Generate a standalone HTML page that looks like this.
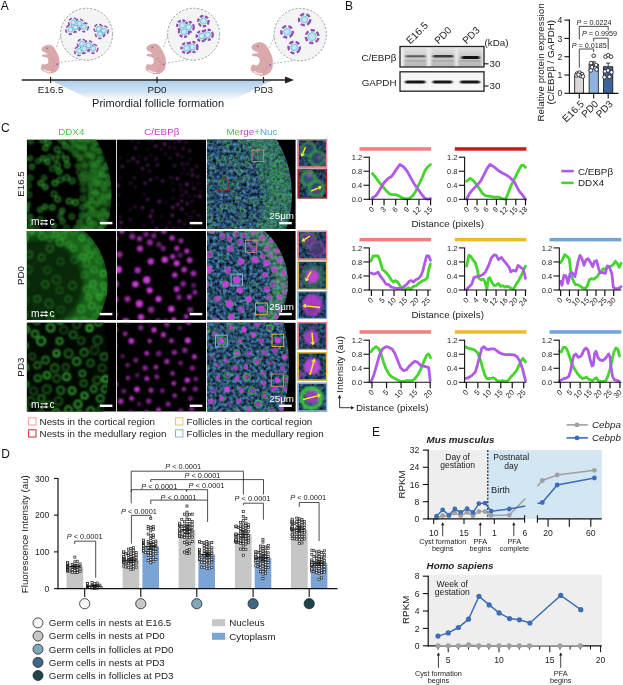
<!DOCTYPE html><html><head><meta charset="utf-8"><title>Figure</title><style>html,body{margin:0;padding:0;background:#fff;width:623px;height:685px;overflow:hidden}svg{display:block}</style></head><body><svg width="623" height="685" viewBox="0 0 623 685" font-family="'Liberation Sans', Arial, sans-serif"><text x="0.80" y="9.60" font-size="12" text-anchor="start" fill="#111" >A</text>
<defs><linearGradient id="gA" x1="0" y1="0" x2="0" y2="1"><stop offset="0" stop-color="#b0cfec"/><stop offset="0.6" stop-color="#d0e3f5"/><stop offset="1" stop-color="#fbfdff"/></linearGradient></defs>
<polygon points="51.00,80.50 272.00,80.50 234.00,99.50 90.00,99.50" fill="url(#gA)" stroke="none" stroke-width="1" />
<circle cx="86.6" cy="34.2" r="26.0" fill="#f4f4f4" stroke="#8a8a8a" stroke-width="0.8" stroke-dasharray="2.2 1.6"/>
<circle cx="193.6" cy="34.2" r="26.0" fill="#f4f4f4" stroke="#8a8a8a" stroke-width="0.8" stroke-dasharray="2.2 1.6"/>
<circle cx="300.2" cy="34.6" r="26.2" fill="#f4f4f4" stroke="#8a8a8a" stroke-width="0.8" stroke-dasharray="2.2 1.6"/>
<line x1="57.50" y1="62.50" x2="80.00" y2="59.80" stroke="#9a9a9a" stroke-width="0.7" stroke-dasharray="2 1.5"/>
<line x1="56.50" y1="47.00" x2="61.00" y2="34.00" stroke="#9a9a9a" stroke-width="0.7" stroke-dasharray="2 1.5"/>
<line x1="164.50" y1="63.50" x2="187.00" y2="59.80" stroke="#9a9a9a" stroke-width="0.7" stroke-dasharray="2 1.5"/>
<line x1="163.50" y1="47.00" x2="168.00" y2="34.00" stroke="#9a9a9a" stroke-width="0.7" stroke-dasharray="2 1.5"/>
<line x1="270.00" y1="64.00" x2="294.00" y2="60.50" stroke="#9a9a9a" stroke-width="0.7" stroke-dasharray="2 1.5"/>
<line x1="269.50" y1="48.00" x2="274.50" y2="35.00" stroke="#9a9a9a" stroke-width="0.7" stroke-dasharray="2 1.5"/>
<path d="M42.26,48.11 C42.77,47.26 43.49,46.68 44.78,46.10 C46.07,45.51 47.14,45.13 48.70,45.20 C50.27,45.27 51.26,45.40 52.61,46.43 C53.96,47.47 54.39,48.54 55.44,50.38 C56.50,52.22 57.20,53.76 57.91,55.62 C58.62,57.48 58.78,57.72 59.00,59.68 C59.22,61.63 59.27,63.43 59.00,65.39 C58.73,67.34 58.57,68.05 57.63,69.45 C56.68,70.84 55.83,71.61 54.27,72.36 C52.70,73.11 51.58,73.33 49.80,73.20 C48.01,73.07 47.00,72.55 45.32,71.69 C43.65,70.83 41.95,70.37 41.40,68.89 C40.85,67.40 41.85,65.08 42.58,64.27 C43.31,63.46 43.98,64.96 45.04,64.83 C46.10,64.70 47.14,64.56 47.88,63.62 C48.61,62.69 48.87,61.41 48.70,60.15 C48.54,58.89 48.27,58.11 47.05,57.32 C45.82,56.53 43.42,56.66 42.58,56.20 C41.74,55.75 41.86,55.47 42.86,55.06 C43.86,54.64 47.32,54.77 47.60,54.13 C47.87,53.49 45.30,52.61 44.23,51.86 C43.17,51.11 42.66,51.13 42.26,50.38 C41.87,49.63 41.76,48.97 42.26,48.11 Z" fill="#dba8ab" stroke="#c99499" stroke-width="0.5"/><path d="M51.08,57.80 C55.48,60.60 56.36,67.60 51.08,71.24" fill="none" stroke="#cf9ca0" stroke-width="1.6" opacity="0.6"/><circle cx="47.05" cy="48.28" r="0.85" fill="#a06a70"/><path d="M43.51,69.56 Q46.68,72.36 51.08,71.80" fill="none" stroke="#f6eeee" stroke-width="1.2"/><circle cx="57.24" cy="64.24" r="0.95" fill="#8a5ad0"/>
<path d="M147.05,47.20 C147.60,46.29 148.39,45.67 149.81,45.05 C151.22,44.43 152.39,44.03 154.11,44.10 C155.83,44.17 156.92,44.31 158.39,45.41 C159.87,46.51 160.34,47.66 161.50,49.61 C162.66,51.57 163.42,53.21 164.20,55.19 C164.98,57.16 165.16,57.43 165.40,59.51 C165.64,61.59 165.70,63.51 165.40,65.59 C165.10,67.67 164.93,68.42 163.89,69.91 C162.86,71.39 161.93,72.21 160.21,73.01 C158.49,73.80 157.27,74.04 155.31,73.90 C153.35,73.76 152.25,73.21 150.40,72.29 C148.56,71.37 146.70,70.89 146.10,69.31 C145.50,67.73 146.59,65.26 147.39,64.39 C148.19,63.53 148.93,65.13 150.10,64.99 C151.26,64.85 152.40,64.70 153.20,63.71 C154.01,62.71 154.29,61.35 154.11,60.01 C153.93,58.67 153.64,57.84 152.30,57.00 C150.95,56.16 148.31,56.29 147.39,55.81 C146.47,55.33 146.60,55.03 147.70,54.59 C148.80,54.15 152.59,54.29 152.89,53.61 C153.19,52.93 150.38,51.99 149.21,51.19 C148.04,50.39 147.48,50.41 147.05,49.61 C146.61,48.81 146.49,48.11 147.05,47.20 Z" fill="#dba8ab" stroke="#c99499" stroke-width="0.5"/><path d="M156.72,57.51 C161.54,60.49 162.50,67.94 156.72,71.81" fill="none" stroke="#cf9ca0" stroke-width="1.6" opacity="0.6"/><circle cx="152.30" cy="47.38" r="0.85" fill="#a06a70"/><path d="M148.42,70.03 Q151.89,73.01 156.72,72.41" fill="none" stroke="#f6eeee" stroke-width="1.2"/><circle cx="163.47" cy="64.36" r="0.95" fill="#8a5ad0"/>
<path d="M252.23,46.10 C252.84,45.10 253.71,44.43 255.25,43.75 C256.80,43.07 258.08,42.62 259.96,42.70 C261.83,42.78 263.02,42.93 264.64,44.14 C266.26,45.35 266.77,46.60 268.04,48.75 C269.31,50.89 270.14,52.69 270.99,54.86 C271.84,57.04 272.04,57.32 272.30,59.61 C272.56,61.89 272.63,63.99 272.30,66.28 C271.97,68.56 271.79,69.39 270.65,71.02 C269.52,72.65 268.50,73.54 266.62,74.42 C264.75,75.30 263.41,75.56 261.26,75.40 C259.12,75.24 257.92,74.64 255.91,73.63 C253.89,72.63 251.86,72.10 251.20,70.36 C250.54,68.63 251.74,65.92 252.61,64.97 C253.49,64.02 254.30,65.77 255.57,65.62 C256.84,65.47 258.09,65.31 258.96,64.22 C259.84,63.12 260.15,61.63 259.96,60.16 C259.76,58.69 259.44,57.78 257.97,56.86 C256.50,55.94 253.62,56.08 252.61,55.55 C251.61,55.02 251.75,54.69 252.95,54.21 C254.15,53.73 258.30,53.88 258.63,53.13 C258.96,52.39 255.88,51.36 254.60,50.48 C253.32,49.61 252.71,49.63 252.23,48.75 C251.76,47.87 251.63,47.10 252.23,46.10 Z" fill="#dba8ab" stroke="#c99499" stroke-width="0.5"/><path d="M262.81,57.42 C268.08,60.69 269.13,68.86 262.81,73.11" fill="none" stroke="#cf9ca0" stroke-width="1.6" opacity="0.6"/><circle cx="257.97" cy="46.30" r="0.85" fill="#a06a70"/><path d="M253.73,71.15 Q257.53,74.42 262.81,73.77" fill="none" stroke="#f6eeee" stroke-width="1.2"/><circle cx="270.19" cy="64.94" r="0.95" fill="#8a5ad0"/>
<circle cx="73.20" cy="22.50" r="4.50" fill="none" stroke="#8e50b8" stroke-width="1.7" stroke-dasharray="3.4 1.9"/><circle cx="79.40" cy="23.70" r="4.50" fill="none" stroke="#8e50b8" stroke-width="1.7" stroke-dasharray="3.4 1.9"/><circle cx="75.30" cy="27.40" r="4.50" fill="none" stroke="#8e50b8" stroke-width="1.7" stroke-dasharray="3.4 1.9"/><circle cx="70.40" cy="29.70" r="4.50" fill="none" stroke="#8e50b8" stroke-width="1.7" stroke-dasharray="3.4 1.9"/><circle cx="83.80" cy="27.10" r="4.50" fill="none" stroke="#8e50b8" stroke-width="1.7" stroke-dasharray="3.4 1.9"/><circle cx="73.20" cy="22.50" r="3.30" fill="#f3f3f3"/><circle cx="79.40" cy="23.70" r="3.30" fill="#f3f3f3"/><circle cx="75.30" cy="27.40" r="3.30" fill="#f3f3f3"/><circle cx="70.40" cy="29.70" r="3.30" fill="#f3f3f3"/><circle cx="83.80" cy="27.10" r="3.30" fill="#f3f3f3"/><circle cx="73.20" cy="22.50" r="2.50" fill="#c4e9f1" stroke="#4fb0cf" stroke-width="0.75"/><circle cx="79.40" cy="23.70" r="2.50" fill="#c4e9f1" stroke="#4fb0cf" stroke-width="0.75"/><circle cx="75.30" cy="27.40" r="2.50" fill="#c4e9f1" stroke="#4fb0cf" stroke-width="0.75"/><circle cx="70.40" cy="29.70" r="2.50" fill="#c4e9f1" stroke="#4fb0cf" stroke-width="0.75"/><circle cx="83.80" cy="27.10" r="2.50" fill="#c4e9f1" stroke="#4fb0cf" stroke-width="0.75"/>
<circle cx="98.70" cy="28.80" r="4.50" fill="none" stroke="#8e50b8" stroke-width="1.7" stroke-dasharray="3.4 1.9"/><circle cx="103.80" cy="30.50" r="4.50" fill="none" stroke="#8e50b8" stroke-width="1.7" stroke-dasharray="3.4 1.9"/><circle cx="100.00" cy="34.00" r="4.50" fill="none" stroke="#8e50b8" stroke-width="1.7" stroke-dasharray="3.4 1.9"/><circle cx="98.70" cy="28.80" r="3.30" fill="#f3f3f3"/><circle cx="103.80" cy="30.50" r="3.30" fill="#f3f3f3"/><circle cx="100.00" cy="34.00" r="3.30" fill="#f3f3f3"/><circle cx="98.70" cy="28.80" r="2.50" fill="#c4e9f1" stroke="#4fb0cf" stroke-width="0.75"/><circle cx="103.80" cy="30.50" r="2.50" fill="#c4e9f1" stroke="#4fb0cf" stroke-width="0.75"/><circle cx="100.00" cy="34.00" r="2.50" fill="#c4e9f1" stroke="#4fb0cf" stroke-width="0.75"/>
<circle cx="82.00" cy="43.70" r="4.50" fill="none" stroke="#8e50b8" stroke-width="1.7" stroke-dasharray="3.4 1.9"/><circle cx="88.50" cy="45.40" r="4.50" fill="none" stroke="#8e50b8" stroke-width="1.7" stroke-dasharray="3.4 1.9"/><circle cx="84.20" cy="48.70" r="4.50" fill="none" stroke="#8e50b8" stroke-width="1.7" stroke-dasharray="3.4 1.9"/><circle cx="79.10" cy="51.00" r="4.50" fill="none" stroke="#8e50b8" stroke-width="1.7" stroke-dasharray="3.4 1.9"/><circle cx="93.20" cy="48.70" r="4.50" fill="none" stroke="#8e50b8" stroke-width="1.7" stroke-dasharray="3.4 1.9"/><circle cx="82.00" cy="43.70" r="3.30" fill="#f3f3f3"/><circle cx="88.50" cy="45.40" r="3.30" fill="#f3f3f3"/><circle cx="84.20" cy="48.70" r="3.30" fill="#f3f3f3"/><circle cx="79.10" cy="51.00" r="3.30" fill="#f3f3f3"/><circle cx="93.20" cy="48.70" r="3.30" fill="#f3f3f3"/><circle cx="82.00" cy="43.70" r="2.50" fill="#c4e9f1" stroke="#4fb0cf" stroke-width="0.75"/><circle cx="88.50" cy="45.40" r="2.50" fill="#c4e9f1" stroke="#4fb0cf" stroke-width="0.75"/><circle cx="84.20" cy="48.70" r="2.50" fill="#c4e9f1" stroke="#4fb0cf" stroke-width="0.75"/><circle cx="79.10" cy="51.00" r="2.50" fill="#c4e9f1" stroke="#4fb0cf" stroke-width="0.75"/><circle cx="93.20" cy="48.70" r="2.50" fill="#c4e9f1" stroke="#4fb0cf" stroke-width="0.75"/>
<circle cx="182.30" cy="25.40" r="5.00" fill="none" stroke="#8e50b8" stroke-width="2.5" stroke-dasharray="3 1.6"/><circle cx="188.70" cy="27.10" r="5.00" fill="none" stroke="#8e50b8" stroke-width="2.5" stroke-dasharray="3 1.6"/><circle cx="184.00" cy="31.80" r="5.00" fill="none" stroke="#8e50b8" stroke-width="2.5" stroke-dasharray="3 1.6"/><circle cx="182.30" cy="25.40" r="3.70" fill="#f3f3f3"/><circle cx="188.70" cy="27.10" r="3.70" fill="#f3f3f3"/><circle cx="184.00" cy="31.80" r="3.70" fill="#f3f3f3"/><circle cx="182.30" cy="25.40" r="2.90" fill="#c4e9f1" stroke="#4fb0cf" stroke-width="0.75"/><circle cx="188.70" cy="27.10" r="2.90" fill="#c4e9f1" stroke="#4fb0cf" stroke-width="0.75"/><circle cx="184.00" cy="31.80" r="2.90" fill="#c4e9f1" stroke="#4fb0cf" stroke-width="0.75"/>
<circle cx="203.40" cy="21.20" r="5.10" fill="none" stroke="#8e50b8" stroke-width="2.5" stroke-dasharray="3.4 1.6"/><circle cx="203.40" cy="21.20" r="3.80" fill="#f3f3f3"/><circle cx="203.40" cy="21.20" r="3.00" fill="#c4e9f1" stroke="#4fb0cf" stroke-width="0.75"/>
<circle cx="201.70" cy="36.10" r="5.00" fill="none" stroke="#8e50b8" stroke-width="2.5" stroke-dasharray="3 1.6"/><circle cx="207.70" cy="34.80" r="5.00" fill="none" stroke="#8e50b8" stroke-width="2.5" stroke-dasharray="3 1.6"/><circle cx="201.70" cy="36.10" r="3.70" fill="#f3f3f3"/><circle cx="207.70" cy="34.80" r="3.70" fill="#f3f3f3"/><circle cx="201.70" cy="36.10" r="2.90" fill="#c4e9f1" stroke="#4fb0cf" stroke-width="0.75"/><circle cx="207.70" cy="34.80" r="2.90" fill="#c4e9f1" stroke="#4fb0cf" stroke-width="0.75"/>
<circle cx="186.60" cy="48.00" r="5.00" fill="none" stroke="#8e50b8" stroke-width="2.5" stroke-dasharray="3 1.6"/><circle cx="192.40" cy="47.10" r="5.00" fill="none" stroke="#8e50b8" stroke-width="2.5" stroke-dasharray="3 1.6"/><circle cx="186.60" cy="48.00" r="3.70" fill="#f3f3f3"/><circle cx="192.40" cy="47.10" r="3.70" fill="#f3f3f3"/><circle cx="186.60" cy="48.00" r="2.90" fill="#c4e9f1" stroke="#4fb0cf" stroke-width="0.75"/><circle cx="192.40" cy="47.10" r="2.90" fill="#c4e9f1" stroke="#4fb0cf" stroke-width="0.75"/>
<circle cx="304.60" cy="19.60" r="5.60" fill="none" stroke="#8e50b8" stroke-width="2.4" stroke-dasharray="4.2 2.2" transform="rotate(20 304.60 19.60)"/><circle cx="304.60" cy="19.60" r="3.20" fill="#bde6ef" stroke="#5cb4d0" stroke-width="0.8"/>
<circle cx="287.00" cy="31.80" r="5.70" fill="none" stroke="#8e50b8" stroke-width="2.4" stroke-dasharray="4.2 2.2" transform="rotate(20 287.00 31.80)"/><circle cx="287.00" cy="31.80" r="3.30" fill="#bde6ef" stroke="#5cb4d0" stroke-width="0.8"/>
<circle cx="312.20" cy="36.60" r="6.40" fill="none" stroke="#8e50b8" stroke-width="2.4" stroke-dasharray="4.2 2.2" transform="rotate(20 312.20 36.60)"/><circle cx="312.20" cy="36.60" r="4.00" fill="#bde6ef" stroke="#5cb4d0" stroke-width="0.8"/>
<circle cx="294.20" cy="47.40" r="5.70" fill="none" stroke="#8e50b8" stroke-width="2.4" stroke-dasharray="4.2 2.2" transform="rotate(20 294.20 47.40)"/><circle cx="294.20" cy="47.40" r="3.30" fill="#bde6ef" stroke="#5cb4d0" stroke-width="0.8"/>
<line x1="21.70" y1="80.00" x2="288.00" y2="80.00" stroke="#222" stroke-width="1.4" />
<polygon points="285.00,76.60 294.00,80.00 285.00,83.40" fill="#222" stroke="none" stroke-width="1" />
<line x1="50.60" y1="77.00" x2="50.60" y2="83.00" stroke="#222" stroke-width="1.2" />
<line x1="157.00" y1="77.00" x2="157.00" y2="83.00" stroke="#222" stroke-width="1.2" />
<line x1="263.50" y1="77.00" x2="263.50" y2="83.00" stroke="#222" stroke-width="1.2" />
<text x="50.60" y="93.20" font-size="9.9" text-anchor="middle" fill="#222" >E16.5</text>
<text x="157.00" y="93.20" font-size="9.9" text-anchor="middle" fill="#222" >PD0</text>
<text x="263.50" y="93.20" font-size="9.9" text-anchor="middle" fill="#222" >PD3</text>
<text x="158.10" y="106.90" font-size="11" text-anchor="middle" fill="#222" >Primordial follicle formation</text>
<text x="345.00" y="9.60" font-size="12" text-anchor="start" fill="#111" >B</text>
<defs><filter id="blotn" x="0" y="0" width="1" height="1"><feTurbulence type="fractalNoise" baseFrequency="0.35" numOctaves="2" seed="7"/><feColorMatrix type="matrix" values="0 0 0 0 0.5  0 0 0 0 0.5  0 0 0 0 0.5  0 0 0 -0.9 0.6"/></filter><filter id="bb" x="-20%" y="-100%" width="140%" height="300%"><feGaussianBlur stdDeviation="1.0 0.7"/></filter></defs>
<defs><linearGradient id="smear" x1="0" y1="0" x2="0" y2="1"><stop offset="0" stop-color="#909090" stop-opacity="0.12"/><stop offset="0.45" stop-color="#8a8a8a" stop-opacity="0.35"/><stop offset="1" stop-color="#808080" stop-opacity="0.5"/></linearGradient></defs>
<rect x="400" y="46.5" width="84" height="20.5" fill="#ececec"/>
<g filter="url(#bb)">
<rect x="404" y="48" width="23" height="18.5" fill="url(#smear)"/>
<rect x="405" y="60.2" width="21" height="1.6" fill="#8a8a8a" opacity="0.45"/>
<rect x="431" y="48" width="24" height="18.5" fill="url(#smear)"/>
<rect x="432" y="60.2" width="22" height="1.6" fill="#8a8a8a" opacity="0.45"/>
<rect x="458" y="48" width="24" height="18.5" fill="url(#smear)"/>
<rect x="459" y="60.2" width="22" height="1.6" fill="#8a8a8a" opacity="0.45"/>
<rect x="405.5" y="55.3" width="20" height="2.0" rx="1.0" fill="#5a5a5a"/>
<rect x="432.8" y="55.0" width="20.5" height="2.5" rx="1.25" fill="#3a3a3a"/>
<rect x="461.2" y="55.9" width="18.8" height="3.2" rx="1.6" fill="#151515"/>
</g>
<rect x="400" y="46.5" width="84" height="20.5" fill="none" stroke="#222" stroke-width="1.3"/>
<rect x="400" y="71.8" width="84" height="19.4" fill="#f6f6f6" stroke="#222" stroke-width="1.3"/>
<g filter="url(#bb)">
<rect x="405" y="80.6" width="20.5" height="3.0" rx="1.5" fill="#151515"/>
<rect x="432.5" y="80.6" width="20" height="3.0" rx="1.5" fill="#151515"/>
<rect x="460" y="80.6" width="20" height="3.0" rx="1.5" fill="#151515"/>
</g>
<text x="396.50" y="60.70" font-size="9.8" text-anchor="end" fill="#222" >C/EBPβ</text>
<text x="396.50" y="85.50" font-size="9.8" text-anchor="end" fill="#222" >GAPDH</text>
<line x1="484.00" y1="63.80" x2="488.50" y2="63.80" stroke="#222" stroke-width="1.2" />
<text x="489.50" y="67.20" font-size="9.8" text-anchor="start" fill="#222" >30</text>
<line x1="484.00" y1="86.00" x2="488.50" y2="86.00" stroke="#222" stroke-width="1.2" />
<text x="489.50" y="89.40" font-size="9.8" text-anchor="start" fill="#222" >30</text>
<text x="484.50" y="45.60" font-size="9.8" text-anchor="start" fill="#222" >(kDa)</text>
<text x="410.3" y="44.6" font-size="10" fill="#222" transform="rotate(-45 410.3 44.6)">E16.5</text>
<text x="438.5" y="44.6" font-size="10" fill="#222" transform="rotate(-45 438.5 44.6)">PD0</text>
<text x="466.6" y="44.6" font-size="10" fill="#222" transform="rotate(-45 466.6 44.6)">PD3</text>
<text transform="translate(543.6 62.4) rotate(-90)" font-size="9.8" text-anchor="middle" fill="#222">Relative protein expression</text>
<text transform="translate(554.4 62.2) rotate(-90)" font-size="9.8" text-anchor="middle" fill="#222">(C/EBPβ / GAPDH)</text>
<rect x="574.7" y="75.00" width="8.90" height="18.30" fill="#d9d9d9" stroke="#111" stroke-width="0.8"/>
<rect x="589.1" y="64.57" width="9.20" height="28.73" fill="#8fb3dd" stroke="#111" stroke-width="0.8"/>
<rect x="603.6" y="66.77" width="9.20" height="26.54" fill="#3d6498" stroke="#111" stroke-width="0.8"/>
<line x1="579.20" y1="73.72" x2="579.20" y2="76.28" stroke="#111" stroke-width="0.8" />
<line x1="577.00" y1="73.72" x2="581.40" y2="73.72" stroke="#111" stroke-width="0.8" />
<line x1="593.70" y1="61.82" x2="593.70" y2="64.57" stroke="#111" stroke-width="0.8" />
<line x1="591.50" y1="61.82" x2="595.90" y2="61.82" stroke="#111" stroke-width="0.8" />
<line x1="608.20" y1="63.10" x2="608.20" y2="66.77" stroke="#111" stroke-width="0.8" />
<line x1="606.00" y1="63.10" x2="610.40" y2="63.10" stroke="#111" stroke-width="0.8" />
<circle cx="577" cy="73.54" r="1.85" fill="#fff" stroke="#111" stroke-width="0.8"/>
<circle cx="579.5" cy="72.62" r="1.85" fill="#fff" stroke="#111" stroke-width="0.8"/>
<circle cx="582" cy="74.08" r="1.85" fill="#fff" stroke="#111" stroke-width="0.8"/>
<circle cx="576.5" cy="75.37" r="1.85" fill="#fff" stroke="#111" stroke-width="0.8"/>
<circle cx="580.5" cy="75.73" r="1.85" fill="#fff" stroke="#111" stroke-width="0.8"/>
<circle cx="583" cy="76.46" r="1.85" fill="#fff" stroke="#111" stroke-width="0.8"/>
<circle cx="578.5" cy="74.63" r="1.85" fill="#fff" stroke="#111" stroke-width="0.8"/>
<circle cx="593.7" cy="55.78" r="1.85" fill="#fff" stroke="#111" stroke-width="0.8"/>
<circle cx="591" cy="63.10" r="1.85" fill="#fff" stroke="#111" stroke-width="0.8"/>
<circle cx="596" cy="64.94" r="1.85" fill="#fff" stroke="#111" stroke-width="0.8"/>
<circle cx="592" cy="67.31" r="1.85" fill="#fff" stroke="#111" stroke-width="0.8"/>
<circle cx="595.5" cy="68.05" r="1.85" fill="#fff" stroke="#111" stroke-width="0.8"/>
<circle cx="590.8" cy="70.42" r="1.85" fill="#fff" stroke="#111" stroke-width="0.8"/>
<circle cx="596.5" cy="69.51" r="1.85" fill="#fff" stroke="#111" stroke-width="0.8"/>
<circle cx="605.5" cy="56.70" r="1.85" fill="#fff" stroke="#111" stroke-width="0.8"/>
<circle cx="608.2" cy="55.24" r="1.85" fill="#fff" stroke="#111" stroke-width="0.8"/>
<circle cx="611" cy="56.70" r="1.85" fill="#fff" stroke="#111" stroke-width="0.8"/>
<circle cx="605" cy="71.34" r="1.85" fill="#fff" stroke="#111" stroke-width="0.8"/>
<circle cx="608" cy="70.42" r="1.85" fill="#fff" stroke="#111" stroke-width="0.8"/>
<circle cx="611.5" cy="72.25" r="1.85" fill="#fff" stroke="#111" stroke-width="0.8"/>
<circle cx="604.5" cy="77.20" r="1.85" fill="#fff" stroke="#111" stroke-width="0.8"/>
<circle cx="609.5" cy="76.83" r="1.85" fill="#fff" stroke="#111" stroke-width="0.8"/>
<line x1="569.40" y1="19.60" x2="569.40" y2="93.80" stroke="#111" stroke-width="1.2" />
<line x1="569.40" y1="93.30" x2="618.40" y2="93.30" stroke="#111" stroke-width="1.2" />
<line x1="564.40" y1="93.30" x2="569.40" y2="93.30" stroke="#111" stroke-width="1.1" />
<text x="562.40" y="96.40" font-size="8.6" text-anchor="end" fill="#222" >0</text>
<line x1="564.40" y1="75.00" x2="569.40" y2="75.00" stroke="#111" stroke-width="1.1" />
<text x="562.40" y="78.10" font-size="8.6" text-anchor="end" fill="#222" >1</text>
<line x1="564.40" y1="56.70" x2="569.40" y2="56.70" stroke="#111" stroke-width="1.1" />
<text x="562.40" y="59.80" font-size="8.6" text-anchor="end" fill="#222" >2</text>
<line x1="564.40" y1="38.40" x2="569.40" y2="38.40" stroke="#111" stroke-width="1.1" />
<text x="562.40" y="41.50" font-size="8.6" text-anchor="end" fill="#222" >3</text>
<line x1="564.40" y1="20.10" x2="569.40" y2="20.10" stroke="#111" stroke-width="1.1" />
<text x="562.40" y="23.20" font-size="8.6" text-anchor="end" fill="#222" >4</text>
<line x1="579.30" y1="93.30" x2="579.30" y2="98.60" stroke="#111" stroke-width="1.1" />
<line x1="593.70" y1="93.30" x2="593.70" y2="98.60" stroke="#111" stroke-width="1.1" />
<line x1="608.20" y1="93.30" x2="608.20" y2="98.60" stroke="#111" stroke-width="1.1" />
<text x="584.6" y="104.6" font-size="9.9" text-anchor="end" fill="#222" transform="rotate(-45 584.6 104.6)">E16.5</text>
<text x="599.0" y="104.6" font-size="9.9" text-anchor="end" fill="#222" transform="rotate(-45 599.0 104.6)">PD0</text>
<text x="613.5" y="104.6" font-size="9.9" text-anchor="end" fill="#222" transform="rotate(-45 613.5 104.6)">PD3</text>
<polyline points="579.3,39.5 579.3,26.4 608.2,26.4 608.2,30.5" fill="none" stroke="#222" stroke-width="0.8"/>
<polyline points="593.7,41.5 593.7,38.2 608.2,38.2 608.2,49.4" fill="none" stroke="#222" stroke-width="0.8"/>
<polyline points="579.3,67.7 579.3,49 593.7,49 593.7,52" fill="none" stroke="#222" stroke-width="0.8"/>
<text x="594" y="24.5" font-size="7.2" text-anchor="middle" fill="#222"><tspan font-style="italic">P</tspan> = 0.0224</text>
<text x="599.5" y="36.0" font-size="7.2" text-anchor="middle" fill="#222"><tspan font-style="italic">P</tspan> = 0.9959</text>
<text x="589.2" y="47.6" font-size="7.2" text-anchor="middle" fill="#222"><tspan font-style="italic">P</tspan> = 0.0185</text>
<defs><filter id="bl5" x="-10%" y="-10%" width="120%" height="120%"><feGaussianBlur stdDeviation="0.55"/></filter><filter id="bl8" x="-10%" y="-10%" width="120%" height="120%"><feGaussianBlur stdDeviation="0.8"/></filter><filter id="bl20" x="-30%" y="-30%" width="160%" height="160%"><feGaussianBlur stdDeviation="3"/></filter><filter id="nuc0" x="0" y="0" width="1" height="1" color-interpolation-filters="sRGB"><feTurbulence type="fractalNoise" baseFrequency="0.3" numOctaves="2" seed="11"/><feColorMatrix type="matrix" values="0.45 0 0 0 -0.065  0.8 0 0 0 -0.105  1.05 0 0 0 -0.105  0 0 0 0 1"/><feGaussianBlur stdDeviation="0.6"/></filter><filter id="nuc1" x="0" y="0" width="1" height="1" color-interpolation-filters="sRGB"><feTurbulence type="fractalNoise" baseFrequency="0.3" numOctaves="2" seed="23"/><feColorMatrix type="matrix" values="0.45 0 0 0 -0.065  0.8 0 0 0 -0.105  1.05 0 0 0 -0.105  0 0 0 0 1"/><feGaussianBlur stdDeviation="0.6"/></filter><filter id="nuc2" x="0" y="0" width="1" height="1" color-interpolation-filters="sRGB"><feTurbulence type="fractalNoise" baseFrequency="0.3" numOctaves="2" seed="37"/><feColorMatrix type="matrix" values="0.45 0 0 0 -0.065  0.8 0 0 0 -0.105  1.05 0 0 0 -0.105  0 0 0 0 1"/><feGaussianBlur stdDeviation="0.6"/></filter><clipPath id="cp00"><rect x="26.7" y="139.4" width="89.5" height="89.5"/></clipPath><clipPath id="cp01"><rect x="26.7" y="230.9" width="89.5" height="89.0"/></clipPath><clipPath id="cp02"><rect x="26.7" y="322.5" width="89.5" height="89.1"/></clipPath><clipPath id="cp10"><rect x="116.9" y="139.4" width="89.2" height="89.5"/></clipPath><clipPath id="cp11"><rect x="116.9" y="230.9" width="89.2" height="89.0"/></clipPath><clipPath id="cp12"><rect x="116.9" y="322.5" width="89.2" height="89.1"/></clipPath><clipPath id="cp20"><rect x="207.0" y="139.4" width="88.6" height="89.5"/></clipPath><clipPath id="cp21"><rect x="207.0" y="230.9" width="88.6" height="89.0"/></clipPath><clipPath id="cp22"><rect x="207.0" y="322.5" width="88.6" height="89.1"/></clipPath><clipPath id="tc00"><circle cx="6.699999999999999" cy="194.4" r="105"/></clipPath><clipPath id="tc01"><circle cx="38.7" cy="282.9" r="69"/></clipPath><clipPath id="tc02"><circle cx="-73.3" cy="366.5" r="182"/></clipPath><clipPath id="tc10"><circle cx="96.9" cy="194.4" r="105"/></clipPath><clipPath id="tc11"><circle cx="128.9" cy="282.9" r="69"/></clipPath><clipPath id="tc12"><circle cx="16.900000000000006" cy="366.5" r="182"/></clipPath><clipPath id="tc20"><circle cx="187.0" cy="194.4" r="105"/></clipPath><clipPath id="tc21"><circle cx="219.0" cy="282.9" r="69"/></clipPath><clipPath id="tc22"><circle cx="107.0" cy="366.5" r="182"/></clipPath></defs>
<g clip-path="url(#cp00)">
<rect x="26.7" y="139.4" width="90" height="90" fill="#000"/>
<g clip-path="url(#tc00)">
<circle cx="6.699999999999999" cy="194.4" r="92" fill="none" stroke="#145214" stroke-width="26" opacity="0.7" filter="url(#bl20)"/>
<g filter="url(#bl8)">
<circle cx="96.9" cy="203.6" r="3.1" fill="#38b038" opacity="0.23"/>
<circle cx="96.9" cy="203.6" r="2.5" fill="#38b038" fill-opacity="0.12" stroke="#38b038" stroke-width="1.3" opacity="0.52"/>
<circle cx="74.3" cy="144.0" r="2.9" fill="#38b038" opacity="0.27"/>
<circle cx="74.3" cy="144.0" r="2.3" fill="#38b038" fill-opacity="0.12" stroke="#38b038" stroke-width="1.3" opacity="0.37"/>
<circle cx="83.2" cy="228.1" r="2.7" fill="#38b038" opacity="0.15"/>
<circle cx="83.2" cy="228.1" r="2.1" fill="#38b038" fill-opacity="0.12" stroke="#38b038" stroke-width="1.3" opacity="0.73"/>
<circle cx="76.3" cy="228.6" r="3.0" fill="#38b038" opacity="0.22"/>
<circle cx="76.3" cy="228.6" r="2.4" fill="#38b038" fill-opacity="0.12" stroke="#38b038" stroke-width="1.3" opacity="0.64"/>
<circle cx="96.0" cy="213.9" r="3.2" fill="#38b038" opacity="0.09"/>
<circle cx="96.0" cy="213.9" r="2.6" fill="#38b038" fill-opacity="0.12" stroke="#38b038" stroke-width="1.3" opacity="0.61"/>
<circle cx="104.2" cy="223.0" r="3.1" fill="#38b038" opacity="0.14"/>
<circle cx="104.2" cy="223.0" r="2.5" fill="#38b038" fill-opacity="0.12" stroke="#38b038" stroke-width="1.3" opacity="0.66"/>
<circle cx="82.7" cy="198.4" r="3.1" fill="#38b038" opacity="0.10"/>
<circle cx="82.7" cy="198.4" r="2.5" fill="#38b038" fill-opacity="0.12" stroke="#38b038" stroke-width="1.3" opacity="0.58"/>
<circle cx="92.1" cy="156.3" r="2.9" fill="#38b038" opacity="0.12"/>
<circle cx="92.1" cy="156.3" r="2.3" fill="#38b038" fill-opacity="0.12" stroke="#38b038" stroke-width="1.3" opacity="0.72"/>
<circle cx="91.5" cy="195.3" r="3.1" fill="#38b038" opacity="0.15"/>
<circle cx="91.5" cy="195.3" r="2.5" fill="#38b038" fill-opacity="0.12" stroke="#38b038" stroke-width="1.3" opacity="0.54"/>
<circle cx="84.6" cy="148.1" r="2.6" fill="#38b038" opacity="0.12"/>
<circle cx="84.6" cy="148.1" r="2.0" fill="#38b038" fill-opacity="0.12" stroke="#38b038" stroke-width="1.3" opacity="0.73"/>
<circle cx="101.7" cy="170.0" r="3.1" fill="#38b038" opacity="0.20"/>
<circle cx="101.7" cy="170.0" r="2.5" fill="#38b038" fill-opacity="0.12" stroke="#38b038" stroke-width="1.3" opacity="0.53"/>
<circle cx="90.5" cy="184.7" r="2.7" fill="#38b038" opacity="0.13"/>
<circle cx="90.5" cy="184.7" r="2.1" fill="#38b038" fill-opacity="0.12" stroke="#38b038" stroke-width="1.3" opacity="0.50"/>
<circle cx="103.7" cy="188.7" r="2.8" fill="#38b038" opacity="0.17"/>
<circle cx="103.7" cy="188.7" r="2.2" fill="#38b038" fill-opacity="0.12" stroke="#38b038" stroke-width="1.3" opacity="0.60"/>
<circle cx="79.2" cy="147.0" r="2.8" fill="#38b038" opacity="0.16"/>
<circle cx="79.2" cy="147.0" r="2.2" fill="#38b038" fill-opacity="0.12" stroke="#38b038" stroke-width="1.3" opacity="0.70"/>
<circle cx="95.8" cy="192.0" r="2.7" fill="#38b038" opacity="0.21"/>
<circle cx="95.8" cy="192.0" r="2.1" fill="#38b038" fill-opacity="0.12" stroke="#38b038" stroke-width="1.3" opacity="0.73"/>
<circle cx="79.6" cy="139.2" r="3.0" fill="#38b038" opacity="0.22"/>
<circle cx="79.6" cy="139.2" r="2.4" fill="#38b038" fill-opacity="0.12" stroke="#38b038" stroke-width="1.3" opacity="0.74"/>
<circle cx="89.1" cy="140.2" r="3.0" fill="#38b038" opacity="0.29"/>
<circle cx="89.1" cy="140.2" r="2.4" fill="#38b038" fill-opacity="0.12" stroke="#38b038" stroke-width="1.3" opacity="0.44"/>
<circle cx="107.5" cy="202.7" r="3.3" fill="#38b038" opacity="0.07"/>
<circle cx="107.5" cy="202.7" r="2.7" fill="#38b038" fill-opacity="0.12" stroke="#38b038" stroke-width="1.3" opacity="0.43"/>
<circle cx="87.0" cy="178.6" r="3.1" fill="#38b038" opacity="0.26"/>
<circle cx="87.0" cy="178.6" r="2.5" fill="#38b038" fill-opacity="0.12" stroke="#38b038" stroke-width="1.3" opacity="0.36"/>
<circle cx="93.8" cy="168.8" r="3.1" fill="#38b038" opacity="0.09"/>
<circle cx="93.8" cy="168.8" r="2.5" fill="#38b038" fill-opacity="0.12" stroke="#38b038" stroke-width="1.3" opacity="0.60"/>
<circle cx="82.2" cy="215.4" r="3.2" fill="#38b038" opacity="0.28"/>
<circle cx="82.2" cy="215.4" r="2.6" fill="#38b038" fill-opacity="0.12" stroke="#38b038" stroke-width="1.3" opacity="0.44"/>
<circle cx="89.2" cy="221.2" r="3.1" fill="#38b038" opacity="0.25"/>
<circle cx="89.2" cy="221.2" r="2.5" fill="#38b038" fill-opacity="0.12" stroke="#38b038" stroke-width="1.3" opacity="0.55"/>
<circle cx="62.0" cy="140.2" r="3.3" fill="#38b038" opacity="0.15"/>
<circle cx="62.0" cy="140.2" r="2.7" fill="#38b038" fill-opacity="0.12" stroke="#38b038" stroke-width="1.3" opacity="0.73"/>
<circle cx="99.3" cy="196.2" r="3.3" fill="#38b038" opacity="0.09"/>
<circle cx="99.3" cy="196.2" r="2.7" fill="#38b038" fill-opacity="0.12" stroke="#38b038" stroke-width="1.3" opacity="0.54"/>
<circle cx="103.5" cy="211.7" r="3.1" fill="#38b038" opacity="0.13"/>
<circle cx="103.5" cy="211.7" r="2.5" fill="#38b038" fill-opacity="0.12" stroke="#38b038" stroke-width="1.3" opacity="0.62"/>
<circle cx="91.9" cy="163.8" r="2.7" fill="#38b038" opacity="0.18"/>
<circle cx="91.9" cy="163.8" r="2.1" fill="#38b038" fill-opacity="0.12" stroke="#38b038" stroke-width="1.3" opacity="0.53"/>
<circle cx="84.7" cy="173.5" r="2.6" fill="#38b038" opacity="0.07"/>
<circle cx="84.7" cy="173.5" r="2.0" fill="#38b038" fill-opacity="0.12" stroke="#38b038" stroke-width="1.3" opacity="0.51"/>
<circle cx="91.3" cy="200.9" r="2.7" fill="#38b038" opacity="0.22"/>
<circle cx="91.3" cy="200.9" r="2.1" fill="#38b038" fill-opacity="0.12" stroke="#38b038" stroke-width="1.3" opacity="0.58"/>
<circle cx="100.9" cy="217.3" r="3.1" fill="#38b038" opacity="0.14"/>
<circle cx="100.9" cy="217.3" r="2.5" fill="#38b038" fill-opacity="0.12" stroke="#38b038" stroke-width="1.3" opacity="0.58"/>
<circle cx="82.9" cy="189.8" r="2.9" fill="#38b038" opacity="0.12"/>
<circle cx="82.9" cy="189.8" r="2.3" fill="#38b038" fill-opacity="0.12" stroke="#38b038" stroke-width="1.3" opacity="0.46"/>
<circle cx="92.8" cy="230.8" r="2.8" fill="#38b038" opacity="0.30"/>
<circle cx="92.8" cy="230.8" r="2.2" fill="#38b038" fill-opacity="0.12" stroke="#38b038" stroke-width="1.3" opacity="0.46"/>
<circle cx="84.4" cy="165.5" r="2.9" fill="#38b038" opacity="0.18"/>
<circle cx="84.4" cy="165.5" r="2.3" fill="#38b038" fill-opacity="0.12" stroke="#38b038" stroke-width="1.3" opacity="0.48"/>
<circle cx="95.9" cy="142.2" r="3.1" fill="#38b038" opacity="0.15"/>
<circle cx="95.9" cy="142.2" r="2.5" fill="#38b038" fill-opacity="0.12" stroke="#38b038" stroke-width="1.3" opacity="0.73"/>
<circle cx="77.9" cy="166.0" r="2.7" fill="#38b038" opacity="0.07"/>
<circle cx="77.9" cy="166.0" r="2.1" fill="#38b038" fill-opacity="0.12" stroke="#38b038" stroke-width="1.3" opacity="0.60"/>
<circle cx="82.5" cy="207.3" r="3.2" fill="#38b038" opacity="0.26"/>
<circle cx="82.5" cy="207.3" r="2.6" fill="#38b038" fill-opacity="0.12" stroke="#38b038" stroke-width="1.3" opacity="0.39"/>
<circle cx="106.3" cy="166.4" r="3.1" fill="#38b038" opacity="0.15"/>
<circle cx="106.3" cy="166.4" r="2.5" fill="#38b038" fill-opacity="0.12" stroke="#38b038" stroke-width="1.3" opacity="0.65"/>
<circle cx="93.6" cy="179.2" r="2.7" fill="#38b038" opacity="0.06"/>
<circle cx="93.6" cy="179.2" r="2.1" fill="#38b038" fill-opacity="0.12" stroke="#38b038" stroke-width="1.3" opacity="0.74"/>
<circle cx="108.2" cy="183.4" r="3.0" fill="#38b038" opacity="0.09"/>
<circle cx="108.2" cy="183.4" r="2.4" fill="#38b038" fill-opacity="0.12" stroke="#38b038" stroke-width="1.3" opacity="0.73"/>
<circle cx="93.1" cy="148.5" r="2.9" fill="#38b038" opacity="0.17"/>
<circle cx="93.1" cy="148.5" r="2.3" fill="#38b038" fill-opacity="0.12" stroke="#38b038" stroke-width="1.3" opacity="0.56"/>
<circle cx="100.1" cy="159.2" r="2.8" fill="#38b038" opacity="0.08"/>
<circle cx="100.1" cy="159.2" r="2.2" fill="#38b038" fill-opacity="0.12" stroke="#38b038" stroke-width="1.3" opacity="0.59"/>
<circle cx="87.5" cy="204.5" r="2.9" fill="#38b038" opacity="0.26"/>
<circle cx="87.5" cy="204.5" r="2.3" fill="#38b038" fill-opacity="0.12" stroke="#38b038" stroke-width="1.3" opacity="0.59"/>
<circle cx="91.7" cy="209.0" r="2.8" fill="#38b038" opacity="0.27"/>
<circle cx="91.7" cy="209.0" r="2.2" fill="#38b038" fill-opacity="0.12" stroke="#38b038" stroke-width="1.3" opacity="0.60"/>
<circle cx="107.5" cy="176.7" r="2.8" fill="#38b038" opacity="0.20"/>
<circle cx="107.5" cy="176.7" r="2.2" fill="#38b038" fill-opacity="0.12" stroke="#38b038" stroke-width="1.3" opacity="0.49"/>
<circle cx="91.1" cy="189.8" r="2.6" fill="#38b038" opacity="0.10"/>
<circle cx="91.1" cy="189.8" r="2.0" fill="#38b038" fill-opacity="0.12" stroke="#38b038" stroke-width="1.3" opacity="0.46"/>
<circle cx="96.7" cy="184.2" r="2.8" fill="#38b038" opacity="0.30"/>
<circle cx="96.7" cy="184.2" r="2.2" fill="#38b038" fill-opacity="0.12" stroke="#38b038" stroke-width="1.3" opacity="0.58"/>
<circle cx="99.2" cy="150.9" r="3.2" fill="#38b038" opacity="0.20"/>
<circle cx="99.2" cy="150.9" r="2.6" fill="#38b038" fill-opacity="0.12" stroke="#38b038" stroke-width="1.3" opacity="0.49"/>
<circle cx="98.4" cy="179.5" r="2.7" fill="#38b038" opacity="0.07"/>
<circle cx="98.4" cy="179.5" r="2.1" fill="#38b038" fill-opacity="0.12" stroke="#38b038" stroke-width="1.3" opacity="0.48"/>
<circle cx="104.8" cy="196.0" r="2.8" fill="#38b038" opacity="0.11"/>
<circle cx="104.8" cy="196.0" r="2.2" fill="#38b038" fill-opacity="0.12" stroke="#38b038" stroke-width="1.3" opacity="0.67"/>
<circle cx="88.9" cy="215.2" r="3.1" fill="#38b038" opacity="0.06"/>
<circle cx="88.9" cy="215.2" r="2.5" fill="#38b038" fill-opacity="0.12" stroke="#38b038" stroke-width="1.3" opacity="0.62"/>
<circle cx="71.8" cy="138.2" r="3.2" fill="#38b038" opacity="0.21"/>
<circle cx="71.8" cy="138.2" r="2.6" fill="#38b038" fill-opacity="0.12" stroke="#38b038" stroke-width="1.3" opacity="0.68"/>
<circle cx="109.7" cy="196.4" r="2.6" fill="#38b038" opacity="0.28"/>
<circle cx="109.7" cy="196.4" r="2.0" fill="#38b038" fill-opacity="0.12" stroke="#38b038" stroke-width="1.3" opacity="0.72"/>
<circle cx="79.6" cy="222.4" r="3.0" fill="#38b038" opacity="0.14"/>
<circle cx="79.6" cy="222.4" r="2.4" fill="#38b038" fill-opacity="0.12" stroke="#38b038" stroke-width="1.3" opacity="0.64"/>
<circle cx="100.4" cy="228.8" r="2.8" fill="#38b038" opacity="0.17"/>
<circle cx="100.4" cy="228.8" r="2.2" fill="#38b038" fill-opacity="0.12" stroke="#38b038" stroke-width="1.3" opacity="0.72"/>
<circle cx="94.0" cy="224.0" r="2.9" fill="#38b038" opacity="0.13"/>
<circle cx="94.0" cy="224.0" r="2.3" fill="#38b038" fill-opacity="0.12" stroke="#38b038" stroke-width="1.3" opacity="0.66"/>
<circle cx="102.1" cy="183.1" r="2.9" fill="#38b038" opacity="0.11"/>
<circle cx="102.1" cy="183.1" r="2.3" fill="#38b038" fill-opacity="0.12" stroke="#38b038" stroke-width="1.3" opacity="0.56"/>
<circle cx="82.5" cy="182.9" r="2.8" fill="#38b038" opacity="0.07"/>
<circle cx="82.5" cy="182.9" r="2.2" fill="#38b038" fill-opacity="0.12" stroke="#38b038" stroke-width="1.3" opacity="0.60"/>
<circle cx="102.0" cy="201.3" r="2.9" fill="#38b038" opacity="0.12"/>
<circle cx="102.0" cy="201.3" r="2.3" fill="#38b038" fill-opacity="0.12" stroke="#38b038" stroke-width="1.3" opacity="0.58"/>
<circle cx="65.4" cy="146.1" r="3.2" fill="#38b038" opacity="0.24"/>
<circle cx="65.4" cy="146.1" r="2.6" fill="#38b038" fill-opacity="0.12" stroke="#38b038" stroke-width="1.3" opacity="0.75"/>
<circle cx="79.4" cy="172.0" r="3.2" fill="#38b038" opacity="0.07"/>
<circle cx="79.4" cy="172.0" r="2.6" fill="#38b038" fill-opacity="0.12" stroke="#38b038" stroke-width="1.3" opacity="0.45"/>
<circle cx="84.4" cy="142.1" r="2.7" fill="#38b038" opacity="0.11"/>
<circle cx="84.4" cy="142.1" r="2.1" fill="#38b038" fill-opacity="0.12" stroke="#38b038" stroke-width="1.3" opacity="0.48"/>
<circle cx="71.0" cy="149.2" r="2.7" fill="#38b038" opacity="0.10"/>
<circle cx="71.0" cy="149.2" r="2.1" fill="#38b038" fill-opacity="0.12" stroke="#38b038" stroke-width="1.3" opacity="0.62"/>
<circle cx="102.3" cy="175.1" r="2.7" fill="#38b038" opacity="0.23"/>
<circle cx="102.3" cy="175.1" r="2.1" fill="#38b038" fill-opacity="0.12" stroke="#38b038" stroke-width="1.3" opacity="0.67"/>
<circle cx="81.0" cy="177.4" r="2.8" fill="#38b038" opacity="0.15"/>
<circle cx="81.0" cy="177.4" r="2.2" fill="#38b038" fill-opacity="0.12" stroke="#38b038" stroke-width="1.3" opacity="0.66"/>
<circle cx="87.3" cy="154.5" r="2.9" fill="#38b038" opacity="0.23"/>
<circle cx="87.3" cy="154.5" r="2.3" fill="#38b038" fill-opacity="0.12" stroke="#38b038" stroke-width="1.3" opacity="0.46"/>
<circle cx="85.0" cy="136.6" r="2.8" fill="#38b038" opacity="0.11"/>
<circle cx="85.0" cy="136.6" r="2.2" fill="#38b038" fill-opacity="0.12" stroke="#38b038" stroke-width="1.3" opacity="0.47"/>
<circle cx="110.0" cy="191.5" r="2.7" fill="#38b038" opacity="0.10"/>
<circle cx="110.0" cy="191.5" r="2.1" fill="#38b038" fill-opacity="0.12" stroke="#38b038" stroke-width="1.3" opacity="0.43"/>
<circle cx="108.5" cy="215.5" r="3.0" fill="#38b038" opacity="0.19"/>
<circle cx="108.5" cy="215.5" r="2.4" fill="#38b038" fill-opacity="0.12" stroke="#38b038" stroke-width="1.3" opacity="0.74"/>
<circle cx="91.6" cy="173.6" r="2.8" fill="#38b038" opacity="0.07"/>
<circle cx="91.6" cy="173.6" r="2.2" fill="#38b038" fill-opacity="0.12" stroke="#38b038" stroke-width="1.3" opacity="0.47"/>
<circle cx="97.1" cy="163.8" r="3.0" fill="#38b038" opacity="0.15"/>
<circle cx="97.1" cy="163.8" r="2.4" fill="#38b038" fill-opacity="0.12" stroke="#38b038" stroke-width="1.3" opacity="0.72"/>
<circle cx="88.6" cy="227.7" r="2.7" fill="#38b038" opacity="0.11"/>
<circle cx="88.6" cy="227.7" r="2.1" fill="#38b038" fill-opacity="0.12" stroke="#38b038" stroke-width="1.3" opacity="0.69"/>
<circle cx="97.6" cy="174.0" r="2.8" fill="#38b038" opacity="0.09"/>
<circle cx="97.6" cy="174.0" r="2.2" fill="#38b038" fill-opacity="0.12" stroke="#38b038" stroke-width="1.3" opacity="0.58"/>
<circle cx="57.0" cy="137.3" r="2.7" fill="#38b038" opacity="0.13"/>
<circle cx="57.0" cy="137.3" r="2.1" fill="#38b038" fill-opacity="0.12" stroke="#38b038" stroke-width="1.3" opacity="0.62"/>
<circle cx="59.0" cy="171.3" r="2.5" fill="#38b038" fill-opacity="0.12" stroke="#38b038" stroke-width="1.3" opacity="1.00"/>
<circle cx="57.6" cy="165.1" r="2.5" fill="#38b038" fill-opacity="0.12" stroke="#38b038" stroke-width="1.3" opacity="0.76"/>
<circle cx="52.2" cy="168.5" r="2.5" fill="#38b038" fill-opacity="0.12" stroke="#38b038" stroke-width="1.3" opacity="0.60"/>
<circle cx="67.3" cy="165.1" r="2.5" fill="#38b038" fill-opacity="0.12" stroke="#38b038" stroke-width="1.3" opacity="0.90"/>
<circle cx="66.1" cy="158.9" r="2.5" fill="#38b038" fill-opacity="0.12" stroke="#38b038" stroke-width="1.3" opacity="0.94"/>
<circle cx="52.3" cy="207.6" r="2.4" fill="#38b038" fill-opacity="0.12" stroke="#38b038" stroke-width="1.3" opacity="0.93"/>
<circle cx="30.2" cy="177.7" r="2.4" fill="#38b038" fill-opacity="0.12" stroke="#38b038" stroke-width="1.3" opacity="0.68"/>
<circle cx="40.1" cy="209.8" r="2.2" fill="#38b038" fill-opacity="0.12" stroke="#38b038" stroke-width="1.3" opacity="0.79"/>
<circle cx="45.0" cy="206.8" r="2.2" fill="#38b038" fill-opacity="0.12" stroke="#38b038" stroke-width="1.3" opacity="0.92"/>
<circle cx="75.5" cy="202.6" r="2.6" fill="#38b038" fill-opacity="0.12" stroke="#38b038" stroke-width="1.3" opacity="0.98"/>
<circle cx="69.2" cy="201.3" r="2.6" fill="#38b038" fill-opacity="0.12" stroke="#38b038" stroke-width="1.3" opacity="0.89"/>
<circle cx="62.6" cy="221.4" r="2.2" fill="#38b038" fill-opacity="0.12" stroke="#38b038" stroke-width="1.3" opacity="0.75"/>
<circle cx="60.4" cy="216.2" r="2.2" fill="#38b038" fill-opacity="0.12" stroke="#38b038" stroke-width="1.3" opacity="0.69"/>
<circle cx="62.2" cy="210.8" r="2.2" fill="#38b038" fill-opacity="0.12" stroke="#38b038" stroke-width="1.3" opacity="0.91"/>
<circle cx="30.8" cy="141.3" r="2.2" fill="#38b038" fill-opacity="0.12" stroke="#38b038" stroke-width="1.3" opacity="0.70"/>
<circle cx="30.1" cy="135.6" r="2.2" fill="#38b038" fill-opacity="0.12" stroke="#38b038" stroke-width="1.3" opacity="0.59"/>
<circle cx="26.4" cy="131.2" r="2.2" fill="#38b038" fill-opacity="0.12" stroke="#38b038" stroke-width="1.3" opacity="0.58"/>
<circle cx="31.9" cy="166.7" r="2.2" fill="#38b038" fill-opacity="0.12" stroke="#38b038" stroke-width="1.3" opacity="0.80"/>
<circle cx="42.4" cy="140.1" r="2.5" fill="#38b038" fill-opacity="0.12" stroke="#38b038" stroke-width="1.3" opacity="0.95"/>
<circle cx="48.3" cy="142.4" r="2.5" fill="#38b038" fill-opacity="0.12" stroke="#38b038" stroke-width="1.3" opacity="0.97"/>
<circle cx="45.5" cy="148.0" r="2.5" fill="#38b038" fill-opacity="0.12" stroke="#38b038" stroke-width="1.3" opacity="0.84"/>
<circle cx="36.3" cy="228.1" r="2.4" fill="#38b038" fill-opacity="0.12" stroke="#38b038" stroke-width="1.3" opacity="0.62"/>
<circle cx="38.1" cy="161.1" r="2.2" fill="#38b038" fill-opacity="0.12" stroke="#38b038" stroke-width="1.3" opacity="0.71"/>
<circle cx="43.0" cy="158.4" r="2.2" fill="#38b038" fill-opacity="0.12" stroke="#38b038" stroke-width="1.3" opacity="0.90"/>
<circle cx="47.5" cy="161.9" r="2.2" fill="#38b038" fill-opacity="0.12" stroke="#38b038" stroke-width="1.3" opacity="0.97"/>
<circle cx="49.5" cy="156.5" r="2.2" fill="#38b038" fill-opacity="0.12" stroke="#38b038" stroke-width="1.3" opacity="0.62"/>
<circle cx="66.6" cy="228.1" r="2.5" fill="#38b038" fill-opacity="0.12" stroke="#38b038" stroke-width="1.3" opacity="0.61"/>
<circle cx="44.2" cy="177.8" r="2.2" fill="#38b038" fill-opacity="0.12" stroke="#38b038" stroke-width="1.3" opacity="0.69"/>
<circle cx="28.0" cy="185.2" r="2.6" fill="#38b038" fill-opacity="0.12" stroke="#38b038" stroke-width="1.3" opacity="0.64"/>
<circle cx="23.9" cy="190.2" r="2.6" fill="#38b038" fill-opacity="0.12" stroke="#38b038" stroke-width="1.3" opacity="0.86"/>
<circle cx="28.7" cy="194.7" r="2.6" fill="#38b038" fill-opacity="0.12" stroke="#38b038" stroke-width="1.3" opacity="0.67"/>
<circle cx="53.9" cy="225.8" r="2.1" fill="#38b038" fill-opacity="0.12" stroke="#38b038" stroke-width="1.3" opacity="0.88"/>
<circle cx="40.2" cy="219.5" r="2.3" fill="#38b038" fill-opacity="0.12" stroke="#38b038" stroke-width="1.3" opacity="0.72"/>
<circle cx="30.0" cy="216.7" r="2.2" fill="#38b038" fill-opacity="0.12" stroke="#38b038" stroke-width="1.3" opacity="0.77"/>
<circle cx="30.8" cy="222.4" r="2.2" fill="#38b038" fill-opacity="0.12" stroke="#38b038" stroke-width="1.3" opacity="0.82"/>
<circle cx="29.6" cy="228.1" r="2.2" fill="#38b038" fill-opacity="0.12" stroke="#38b038" stroke-width="1.3" opacity="0.81"/>
<circle cx="57.6" cy="199.3" r="2.6" fill="#38b038" fill-opacity="0.12" stroke="#38b038" stroke-width="1.3" opacity="0.88"/>
<circle cx="54.0" cy="193.9" r="2.6" fill="#38b038" fill-opacity="0.12" stroke="#38b038" stroke-width="1.3" opacity="0.71"/>
<circle cx="54.9" cy="183.1" r="2.6" fill="#38b038" fill-opacity="0.12" stroke="#38b038" stroke-width="1.3" opacity="0.94"/>
<circle cx="60.4" cy="179.7" r="2.6" fill="#38b038" fill-opacity="0.12" stroke="#38b038" stroke-width="1.3" opacity="0.73"/>
<circle cx="66.6" cy="177.7" r="2.6" fill="#38b038" fill-opacity="0.12" stroke="#38b038" stroke-width="1.3" opacity="0.83"/>
<circle cx="72.2" cy="180.9" r="2.6" fill="#38b038" fill-opacity="0.12" stroke="#38b038" stroke-width="1.3" opacity="0.74"/>
<circle cx="57.1" cy="149.4" r="2.6" fill="#38b038" fill-opacity="0.12" stroke="#38b038" stroke-width="1.3" opacity="0.80"/>
<circle cx="60.8" cy="154.8" r="2.6" fill="#38b038" fill-opacity="0.12" stroke="#38b038" stroke-width="1.3" opacity="0.65"/>
<circle cx="55.6" cy="158.8" r="2.6" fill="#38b038" fill-opacity="0.12" stroke="#38b038" stroke-width="1.3" opacity="0.80"/>
<circle cx="71.7" cy="216.6" r="2.4" fill="#38b038" fill-opacity="0.12" stroke="#38b038" stroke-width="1.3" opacity="0.74"/>
<circle cx="27.6" cy="204.5" r="2.1" fill="#38b038" fill-opacity="0.12" stroke="#38b038" stroke-width="1.3" opacity="0.88"/>
<circle cx="26.2" cy="209.8" r="2.1" fill="#38b038" fill-opacity="0.12" stroke="#38b038" stroke-width="1.3" opacity="0.99"/>
<circle cx="21.9" cy="213.5" r="2.1" fill="#38b038" fill-opacity="0.12" stroke="#38b038" stroke-width="1.3" opacity="0.66"/>
<circle cx="22.2" cy="219.0" r="2.1" fill="#38b038" fill-opacity="0.12" stroke="#38b038" stroke-width="1.3" opacity="0.93"/>
<circle cx="30.2" cy="158.2" r="2.1" fill="#38b038" fill-opacity="0.12" stroke="#38b038" stroke-width="1.3" opacity="0.77"/>
<circle cx="24.8" cy="159.4" r="2.1" fill="#38b038" fill-opacity="0.12" stroke="#38b038" stroke-width="1.3" opacity="0.64"/>
<circle cx="75.3" cy="154.0" r="3.0" fill="#38b038" opacity="0.11"/>
<circle cx="75.3" cy="154.0" r="2.4" fill="#38b038" fill-opacity="0.12" stroke="#38b038" stroke-width="1.3" opacity="0.65"/>
<circle cx="80.1" cy="158.0" r="3.0" fill="#38b038" opacity="0.14"/>
<circle cx="80.1" cy="158.0" r="2.4" fill="#38b038" fill-opacity="0.12" stroke="#38b038" stroke-width="1.3" opacity="0.60"/>
<circle cx="40.7" cy="183.2" r="2.4" fill="#38b038" fill-opacity="0.12" stroke="#38b038" stroke-width="1.3" opacity="0.95"/>
<circle cx="45.3" cy="187.0" r="2.4" fill="#38b038" fill-opacity="0.12" stroke="#38b038" stroke-width="1.3" opacity="0.95"/>
</g></g>
</g>
<g clip-path="url(#cp10)">
<rect x="116.9" y="139.4" width="90" height="90" fill="#000"/>
<g filter="url(#bl8)">
<circle cx="187.1" cy="203.6" r="1.6" fill="#a838c0" opacity="0.53"/>
<circle cx="164.5" cy="144.0" r="1.7" fill="#a838c0" opacity="0.63"/>
<circle cx="173.4" cy="228.1" r="1.5" fill="#a838c0" opacity="0.39"/>
<circle cx="166.5" cy="228.6" r="1.6" fill="#a838c0" opacity="0.52"/>
<circle cx="186.2" cy="213.9" r="1.4" fill="#a838c0" opacity="0.26"/>
<circle cx="194.4" cy="223.0" r="1.5" fill="#a838c0" opacity="0.37"/>
<circle cx="172.9" cy="198.4" r="1.4" fill="#a838c0" opacity="0.29"/>
<circle cx="182.3" cy="156.3" r="1.5" fill="#a838c0" opacity="0.32"/>
<circle cx="181.7" cy="195.3" r="1.5" fill="#a838c0" opacity="0.38"/>
<circle cx="174.8" cy="148.1" r="1.5" fill="#a838c0" opacity="0.32"/>
<circle cx="191.9" cy="170.0" r="1.6" fill="#a838c0" opacity="0.49"/>
<circle cx="180.7" cy="184.7" r="1.5" fill="#a838c0" opacity="0.34"/>
<circle cx="193.9" cy="188.7" r="1.6" fill="#a838c0" opacity="0.43"/>
<circle cx="169.4" cy="147.0" r="1.5" fill="#a838c0" opacity="0.40"/>
<circle cx="186.0" cy="192.0" r="1.6" fill="#a838c0" opacity="0.49"/>
<circle cx="169.8" cy="139.2" r="1.6" fill="#a838c0" opacity="0.51"/>
<circle cx="179.3" cy="140.2" r="1.7" fill="#a838c0" opacity="0.67"/>
<circle cx="177.2" cy="178.6" r="1.7" fill="#a838c0" opacity="0.61"/>
<circle cx="184.0" cy="168.8" r="1.4" fill="#a838c0" opacity="0.26"/>
<circle cx="172.4" cy="215.4" r="1.7" fill="#a838c0" opacity="0.64"/>
<circle cx="179.4" cy="221.2" r="1.6" fill="#a838c0" opacity="0.58"/>
<circle cx="152.2" cy="140.2" r="1.5" fill="#a838c0" opacity="0.38"/>
<circle cx="189.5" cy="196.2" r="1.4" fill="#a838c0" opacity="0.27"/>
<circle cx="193.7" cy="211.7" r="1.5" fill="#a838c0" opacity="0.34"/>
<circle cx="182.1" cy="163.8" r="1.6" fill="#a838c0" opacity="0.43"/>
<circle cx="181.5" cy="200.9" r="1.6" fill="#a838c0" opacity="0.52"/>
<circle cx="191.1" cy="217.3" r="1.5" fill="#a838c0" opacity="0.37"/>
<circle cx="173.1" cy="189.8" r="1.5" fill="#a838c0" opacity="0.32"/>
<circle cx="183.0" cy="230.8" r="1.7" fill="#a838c0" opacity="0.68"/>
<circle cx="174.6" cy="165.5" r="1.6" fill="#a838c0" opacity="0.44"/>
<circle cx="186.1" cy="142.2" r="1.5" fill="#a838c0" opacity="0.38"/>
<circle cx="172.7" cy="207.3" r="1.7" fill="#a838c0" opacity="0.60"/>
<circle cx="196.5" cy="166.4" r="1.5" fill="#a838c0" opacity="0.39"/>
<circle cx="198.4" cy="183.4" r="1.4" fill="#a838c0" opacity="0.26"/>
<circle cx="183.3" cy="148.5" r="1.6" fill="#a838c0" opacity="0.43"/>
<circle cx="190.3" cy="159.2" r="1.4" fill="#a838c0" opacity="0.24"/>
<circle cx="177.7" cy="204.5" r="1.7" fill="#a838c0" opacity="0.59"/>
<circle cx="181.9" cy="209.0" r="1.7" fill="#a838c0" opacity="0.61"/>
<circle cx="197.7" cy="176.7" r="1.6" fill="#a838c0" opacity="0.49"/>
<circle cx="181.3" cy="189.8" r="1.4" fill="#a838c0" opacity="0.28"/>
<circle cx="186.9" cy="184.2" r="1.7" fill="#a838c0" opacity="0.67"/>
<circle cx="189.4" cy="150.9" r="1.6" fill="#a838c0" opacity="0.49"/>
<circle cx="195.0" cy="196.0" r="1.4" fill="#a838c0" opacity="0.29"/>
<circle cx="162.0" cy="138.2" r="1.6" fill="#a838c0" opacity="0.51"/>
<circle cx="199.9" cy="196.4" r="1.7" fill="#a838c0" opacity="0.64"/>
<circle cx="169.8" cy="222.4" r="1.5" fill="#a838c0" opacity="0.36"/>
<circle cx="190.6" cy="228.8" r="1.5" fill="#a838c0" opacity="0.42"/>
<circle cx="184.2" cy="224.0" r="1.5" fill="#a838c0" opacity="0.35"/>
<circle cx="192.3" cy="183.1" r="1.4" fill="#a838c0" opacity="0.29"/>
<circle cx="172.7" cy="182.9" r="1.4" fill="#a838c0" opacity="0.23"/>
<circle cx="192.2" cy="201.3" r="1.5" fill="#a838c0" opacity="0.33"/>
<circle cx="155.6" cy="146.1" r="1.6" fill="#a838c0" opacity="0.56"/>
<circle cx="174.6" cy="142.1" r="1.5" fill="#a838c0" opacity="0.31"/>
<circle cx="161.2" cy="149.2" r="1.4" fill="#a838c0" opacity="0.29"/>
<circle cx="192.5" cy="175.1" r="1.6" fill="#a838c0" opacity="0.55"/>
<circle cx="171.2" cy="177.4" r="1.5" fill="#a838c0" opacity="0.37"/>
<circle cx="177.5" cy="154.5" r="1.6" fill="#a838c0" opacity="0.54"/>
<circle cx="175.2" cy="136.6" r="1.4" fill="#a838c0" opacity="0.30"/>
<circle cx="200.2" cy="191.5" r="1.4" fill="#a838c0" opacity="0.28"/>
<circle cx="198.7" cy="215.5" r="1.6" fill="#a838c0" opacity="0.46"/>
<circle cx="181.8" cy="173.6" r="1.4" fill="#a838c0" opacity="0.23"/>
<circle cx="187.3" cy="163.8" r="1.5" fill="#a838c0" opacity="0.38"/>
<circle cx="178.8" cy="227.7" r="1.5" fill="#a838c0" opacity="0.31"/>
<circle cx="187.8" cy="174.0" r="1.4" fill="#a838c0" opacity="0.26"/>
<circle cx="147.2" cy="137.3" r="1.5" fill="#a838c0" opacity="0.33"/>
<circle cx="149.2" cy="171.3" r="1.5" fill="#a838c0" opacity="0.33"/>
<circle cx="147.8" cy="165.1" r="1.6" fill="#a838c0" opacity="0.47"/>
<circle cx="142.4" cy="168.5" r="1.6" fill="#a838c0" opacity="0.55"/>
<circle cx="157.5" cy="165.1" r="1.6" fill="#a838c0" opacity="0.49"/>
<circle cx="156.3" cy="158.9" r="1.6" fill="#a838c0" opacity="0.43"/>
<circle cx="142.5" cy="207.6" r="1.6" fill="#a838c0" opacity="0.57"/>
<circle cx="120.4" cy="177.7" r="1.4" fill="#a838c0" opacity="0.23"/>
<circle cx="130.3" cy="209.8" r="1.4" fill="#a838c0" opacity="0.29"/>
<circle cx="135.2" cy="206.8" r="1.5" fill="#a838c0" opacity="0.37"/>
<circle cx="165.7" cy="202.6" r="1.4" fill="#a838c0" opacity="0.29"/>
<circle cx="159.4" cy="201.3" r="1.7" fill="#a838c0" opacity="0.61"/>
<circle cx="152.8" cy="221.4" r="1.5" fill="#a838c0" opacity="0.33"/>
<circle cx="150.6" cy="216.2" r="1.7" fill="#a838c0" opacity="0.67"/>
<circle cx="152.4" cy="210.8" r="1.6" fill="#a838c0" opacity="0.52"/>
<circle cx="120.3" cy="135.6" r="1.6" fill="#a838c0" opacity="0.50"/>
<circle cx="116.6" cy="131.2" r="1.6" fill="#a838c0" opacity="0.47"/>
<circle cx="122.1" cy="166.7" r="1.6" fill="#a838c0" opacity="0.54"/>
<circle cx="132.6" cy="140.1" r="1.5" fill="#a838c0" opacity="0.31"/>
<circle cx="138.5" cy="142.4" r="1.4" fill="#a838c0" opacity="0.30"/>
<circle cx="135.7" cy="148.0" r="1.6" fill="#a838c0" opacity="0.52"/>
<circle cx="126.5" cy="228.1" r="1.4" fill="#a838c0" opacity="0.24"/>
<circle cx="128.3" cy="161.1" r="1.5" fill="#a838c0" opacity="0.39"/>
<circle cx="133.2" cy="158.4" r="1.6" fill="#a838c0" opacity="0.58"/>
<circle cx="137.7" cy="161.9" r="1.6" fill="#a838c0" opacity="0.52"/>
<circle cx="139.7" cy="156.5" r="1.4" fill="#a838c0" opacity="0.23"/>
<circle cx="156.8" cy="228.1" r="1.6" fill="#a838c0" opacity="0.50"/>
<circle cx="134.4" cy="177.8" r="1.5" fill="#a838c0" opacity="0.41"/>
<circle cx="118.2" cy="185.2" r="1.7" fill="#a838c0" opacity="0.60"/>
<circle cx="114.1" cy="190.2" r="1.5" fill="#a838c0" opacity="0.39"/>
<circle cx="118.9" cy="194.7" r="1.5" fill="#a838c0" opacity="0.38"/>
<circle cx="144.1" cy="225.8" r="1.5" fill="#a838c0" opacity="0.34"/>
<circle cx="130.4" cy="219.5" r="1.5" fill="#a838c0" opacity="0.37"/>
<circle cx="120.2" cy="216.7" r="1.5" fill="#a838c0" opacity="0.32"/>
<circle cx="121.0" cy="222.4" r="1.7" fill="#a838c0" opacity="0.61"/>
<circle cx="119.8" cy="228.1" r="1.5" fill="#a838c0" opacity="0.39"/>
<circle cx="147.8" cy="199.3" r="1.6" fill="#a838c0" opacity="0.52"/>
<circle cx="144.2" cy="193.9" r="1.4" fill="#a838c0" opacity="0.29"/>
<circle cx="145.1" cy="183.1" r="1.6" fill="#a838c0" opacity="0.51"/>
<circle cx="150.6" cy="179.7" r="1.6" fill="#a838c0" opacity="0.55"/>
<circle cx="156.8" cy="177.7" r="1.5" fill="#a838c0" opacity="0.31"/>
<circle cx="162.4" cy="180.9" r="1.6" fill="#a838c0" opacity="0.44"/>
<circle cx="147.3" cy="149.4" r="1.4" fill="#a838c0" opacity="0.23"/>
<circle cx="151.0" cy="154.8" r="1.4" fill="#a838c0" opacity="0.28"/>
<circle cx="145.8" cy="158.8" r="1.6" fill="#a838c0" opacity="0.44"/>
<circle cx="161.9" cy="216.6" r="1.4" fill="#a838c0" opacity="0.25"/>
<circle cx="117.8" cy="204.5" r="1.5" fill="#a838c0" opacity="0.31"/>
<circle cx="116.4" cy="209.8" r="1.4" fill="#a838c0" opacity="0.27"/>
<circle cx="112.1" cy="213.5" r="1.4" fill="#a838c0" opacity="0.26"/>
<circle cx="112.4" cy="219.0" r="1.6" fill="#a838c0" opacity="0.44"/>
<circle cx="120.4" cy="158.2" r="1.4" fill="#a838c0" opacity="0.25"/>
<circle cx="115.0" cy="159.4" r="1.7" fill="#a838c0" opacity="0.60"/>
<circle cx="165.5" cy="154.0" r="1.4" fill="#a838c0" opacity="0.30"/>
<circle cx="170.3" cy="158.0" r="1.5" fill="#a838c0" opacity="0.36"/>
<circle cx="130.9" cy="183.2" r="1.5" fill="#a838c0" opacity="0.36"/>
<circle cx="135.5" cy="187.0" r="1.4" fill="#a838c0" opacity="0.30"/>
</g>
</g>
<g clip-path="url(#cp20)">
<rect x="207.0" y="139.4" width="90" height="90" fill="#000"/>
<g clip-path="url(#tc20)">
<rect x="207.0" y="139.4" width="90" height="90" filter="url(#nuc0)"/>
<circle cx="187.0" cy="194.4" r="92" fill="none" stroke="#3a9a5a" stroke-width="26" opacity="0.35" filter="url(#bl20)"/>
<g filter="url(#bl5)">
<circle cx="277.2" cy="203.6" r="2.5" fill="none" stroke="#3dbb3d" stroke-width="1.1" opacity="0.42"/>
<circle cx="277.2" cy="203.6" r="1.3" fill="#9a50c0" opacity="0.31"/>
<circle cx="254.6" cy="144.0" r="2.3" fill="none" stroke="#3dbb3d" stroke-width="1.1" opacity="0.30"/>
<circle cx="254.6" cy="144.0" r="1.3" fill="#9a50c0" opacity="0.34"/>
<circle cx="263.5" cy="228.1" r="2.1" fill="none" stroke="#3dbb3d" stroke-width="1.1" opacity="0.59"/>
<circle cx="263.5" cy="228.1" r="1.3" fill="#9a50c0" opacity="0.26"/>
<circle cx="256.6" cy="228.6" r="2.4" fill="none" stroke="#3dbb3d" stroke-width="1.1" opacity="0.51"/>
<circle cx="256.6" cy="228.6" r="1.3" fill="#9a50c0" opacity="0.30"/>
<circle cx="276.3" cy="213.9" r="2.6" fill="none" stroke="#3dbb3d" stroke-width="1.1" opacity="0.49"/>
<circle cx="284.5" cy="223.0" r="2.5" fill="none" stroke="#3dbb3d" stroke-width="1.1" opacity="0.53"/>
<circle cx="284.5" cy="223.0" r="1.3" fill="#9a50c0" opacity="0.25"/>
<circle cx="263.0" cy="198.4" r="2.5" fill="none" stroke="#3dbb3d" stroke-width="1.1" opacity="0.46"/>
<circle cx="263.0" cy="198.4" r="1.3" fill="#9a50c0" opacity="0.22"/>
<circle cx="272.4" cy="156.3" r="2.3" fill="none" stroke="#3dbb3d" stroke-width="1.1" opacity="0.58"/>
<circle cx="272.4" cy="156.3" r="1.3" fill="#9a50c0" opacity="0.23"/>
<circle cx="271.8" cy="195.3" r="2.5" fill="none" stroke="#3dbb3d" stroke-width="1.1" opacity="0.43"/>
<circle cx="271.8" cy="195.3" r="1.3" fill="#9a50c0" opacity="0.26"/>
<circle cx="264.9" cy="148.1" r="2.0" fill="none" stroke="#3dbb3d" stroke-width="1.1" opacity="0.58"/>
<circle cx="264.9" cy="148.1" r="1.3" fill="#9a50c0" opacity="0.23"/>
<circle cx="282.0" cy="170.0" r="2.5" fill="none" stroke="#3dbb3d" stroke-width="1.1" opacity="0.42"/>
<circle cx="282.0" cy="170.0" r="1.3" fill="#9a50c0" opacity="0.30"/>
<circle cx="270.8" cy="184.7" r="2.1" fill="none" stroke="#3dbb3d" stroke-width="1.1" opacity="0.40"/>
<circle cx="270.8" cy="184.7" r="1.3" fill="#9a50c0" opacity="0.24"/>
<circle cx="284.0" cy="188.7" r="2.2" fill="none" stroke="#3dbb3d" stroke-width="1.1" opacity="0.48"/>
<circle cx="284.0" cy="188.7" r="1.3" fill="#9a50c0" opacity="0.28"/>
<circle cx="259.5" cy="147.0" r="2.2" fill="none" stroke="#3dbb3d" stroke-width="1.1" opacity="0.56"/>
<circle cx="259.5" cy="147.0" r="1.3" fill="#9a50c0" opacity="0.27"/>
<circle cx="276.1" cy="192.0" r="2.1" fill="none" stroke="#3dbb3d" stroke-width="1.1" opacity="0.58"/>
<circle cx="276.1" cy="192.0" r="1.3" fill="#9a50c0" opacity="0.30"/>
<circle cx="259.9" cy="139.2" r="2.4" fill="none" stroke="#3dbb3d" stroke-width="1.1" opacity="0.59"/>
<circle cx="259.9" cy="139.2" r="1.3" fill="#9a50c0" opacity="0.30"/>
<circle cx="269.4" cy="140.2" r="2.4" fill="none" stroke="#3dbb3d" stroke-width="1.1" opacity="0.35"/>
<circle cx="269.4" cy="140.2" r="1.3" fill="#9a50c0" opacity="0.35"/>
<circle cx="287.8" cy="202.7" r="2.7" fill="none" stroke="#3dbb3d" stroke-width="1.1" opacity="0.34"/>
<circle cx="267.3" cy="178.6" r="2.5" fill="none" stroke="#3dbb3d" stroke-width="1.1" opacity="0.29"/>
<circle cx="267.3" cy="178.6" r="1.3" fill="#9a50c0" opacity="0.33"/>
<circle cx="274.1" cy="168.8" r="2.5" fill="none" stroke="#3dbb3d" stroke-width="1.1" opacity="0.48"/>
<circle cx="262.5" cy="215.4" r="2.6" fill="none" stroke="#3dbb3d" stroke-width="1.1" opacity="0.35"/>
<circle cx="262.5" cy="215.4" r="1.3" fill="#9a50c0" opacity="0.34"/>
<circle cx="269.5" cy="221.2" r="2.5" fill="none" stroke="#3dbb3d" stroke-width="1.1" opacity="0.44"/>
<circle cx="269.5" cy="221.2" r="1.3" fill="#9a50c0" opacity="0.32"/>
<circle cx="242.3" cy="140.2" r="2.7" fill="none" stroke="#3dbb3d" stroke-width="1.1" opacity="0.58"/>
<circle cx="242.3" cy="140.2" r="1.3" fill="#9a50c0" opacity="0.26"/>
<circle cx="279.6" cy="196.2" r="2.7" fill="none" stroke="#3dbb3d" stroke-width="1.1" opacity="0.43"/>
<circle cx="283.8" cy="211.7" r="2.5" fill="none" stroke="#3dbb3d" stroke-width="1.1" opacity="0.50"/>
<circle cx="283.8" cy="211.7" r="1.3" fill="#9a50c0" opacity="0.24"/>
<circle cx="272.2" cy="163.8" r="2.1" fill="none" stroke="#3dbb3d" stroke-width="1.1" opacity="0.42"/>
<circle cx="272.2" cy="163.8" r="1.3" fill="#9a50c0" opacity="0.28"/>
<circle cx="265.0" cy="173.5" r="2.0" fill="none" stroke="#3dbb3d" stroke-width="1.1" opacity="0.41"/>
<circle cx="271.6" cy="200.9" r="2.1" fill="none" stroke="#3dbb3d" stroke-width="1.1" opacity="0.46"/>
<circle cx="271.6" cy="200.9" r="1.3" fill="#9a50c0" opacity="0.31"/>
<circle cx="281.2" cy="217.3" r="2.5" fill="none" stroke="#3dbb3d" stroke-width="1.1" opacity="0.46"/>
<circle cx="281.2" cy="217.3" r="1.3" fill="#9a50c0" opacity="0.25"/>
<circle cx="263.2" cy="189.8" r="2.3" fill="none" stroke="#3dbb3d" stroke-width="1.1" opacity="0.37"/>
<circle cx="263.2" cy="189.8" r="1.3" fill="#9a50c0" opacity="0.23"/>
<circle cx="273.1" cy="230.8" r="2.2" fill="none" stroke="#3dbb3d" stroke-width="1.1" opacity="0.37"/>
<circle cx="273.1" cy="230.8" r="1.3" fill="#9a50c0" opacity="0.35"/>
<circle cx="264.7" cy="165.5" r="2.3" fill="none" stroke="#3dbb3d" stroke-width="1.1" opacity="0.39"/>
<circle cx="264.7" cy="165.5" r="1.3" fill="#9a50c0" opacity="0.28"/>
<circle cx="276.2" cy="142.2" r="2.5" fill="none" stroke="#3dbb3d" stroke-width="1.1" opacity="0.59"/>
<circle cx="276.2" cy="142.2" r="1.3" fill="#9a50c0" opacity="0.26"/>
<circle cx="258.2" cy="166.0" r="2.1" fill="none" stroke="#3dbb3d" stroke-width="1.1" opacity="0.48"/>
<circle cx="262.8" cy="207.3" r="2.6" fill="none" stroke="#3dbb3d" stroke-width="1.1" opacity="0.31"/>
<circle cx="262.8" cy="207.3" r="1.3" fill="#9a50c0" opacity="0.33"/>
<circle cx="286.6" cy="166.4" r="2.5" fill="none" stroke="#3dbb3d" stroke-width="1.1" opacity="0.52"/>
<circle cx="286.6" cy="166.4" r="1.3" fill="#9a50c0" opacity="0.26"/>
<circle cx="273.9" cy="179.2" r="2.1" fill="none" stroke="#3dbb3d" stroke-width="1.1" opacity="0.59"/>
<circle cx="288.5" cy="183.4" r="2.4" fill="none" stroke="#3dbb3d" stroke-width="1.1" opacity="0.58"/>
<circle cx="273.4" cy="148.5" r="2.3" fill="none" stroke="#3dbb3d" stroke-width="1.1" opacity="0.45"/>
<circle cx="273.4" cy="148.5" r="1.3" fill="#9a50c0" opacity="0.28"/>
<circle cx="280.4" cy="159.2" r="2.2" fill="none" stroke="#3dbb3d" stroke-width="1.1" opacity="0.47"/>
<circle cx="267.8" cy="204.5" r="2.3" fill="none" stroke="#3dbb3d" stroke-width="1.1" opacity="0.47"/>
<circle cx="267.8" cy="204.5" r="1.3" fill="#9a50c0" opacity="0.33"/>
<circle cx="272.0" cy="209.0" r="2.2" fill="none" stroke="#3dbb3d" stroke-width="1.1" opacity="0.48"/>
<circle cx="272.0" cy="209.0" r="1.3" fill="#9a50c0" opacity="0.33"/>
<circle cx="287.8" cy="176.7" r="2.2" fill="none" stroke="#3dbb3d" stroke-width="1.1" opacity="0.39"/>
<circle cx="287.8" cy="176.7" r="1.3" fill="#9a50c0" opacity="0.30"/>
<circle cx="271.4" cy="189.8" r="2.0" fill="none" stroke="#3dbb3d" stroke-width="1.1" opacity="0.37"/>
<circle cx="277.0" cy="184.2" r="2.2" fill="none" stroke="#3dbb3d" stroke-width="1.1" opacity="0.46"/>
<circle cx="277.0" cy="184.2" r="1.3" fill="#9a50c0" opacity="0.35"/>
<circle cx="279.5" cy="150.9" r="2.6" fill="none" stroke="#3dbb3d" stroke-width="1.1" opacity="0.39"/>
<circle cx="279.5" cy="150.9" r="1.3" fill="#9a50c0" opacity="0.30"/>
<circle cx="278.7" cy="179.5" r="2.1" fill="none" stroke="#3dbb3d" stroke-width="1.1" opacity="0.39"/>
<circle cx="285.1" cy="196.0" r="2.2" fill="none" stroke="#3dbb3d" stroke-width="1.1" opacity="0.53"/>
<circle cx="285.1" cy="196.0" r="1.3" fill="#9a50c0" opacity="0.22"/>
<circle cx="269.2" cy="215.2" r="2.5" fill="none" stroke="#3dbb3d" stroke-width="1.1" opacity="0.49"/>
<circle cx="252.1" cy="138.2" r="2.6" fill="none" stroke="#3dbb3d" stroke-width="1.1" opacity="0.54"/>
<circle cx="252.1" cy="138.2" r="1.3" fill="#9a50c0" opacity="0.30"/>
<circle cx="290.0" cy="196.4" r="2.0" fill="none" stroke="#3dbb3d" stroke-width="1.1" opacity="0.57"/>
<circle cx="290.0" cy="196.4" r="1.3" fill="#9a50c0" opacity="0.34"/>
<circle cx="259.9" cy="222.4" r="2.4" fill="none" stroke="#3dbb3d" stroke-width="1.1" opacity="0.51"/>
<circle cx="259.9" cy="222.4" r="1.3" fill="#9a50c0" opacity="0.25"/>
<circle cx="280.7" cy="228.8" r="2.2" fill="none" stroke="#3dbb3d" stroke-width="1.1" opacity="0.57"/>
<circle cx="280.7" cy="228.8" r="1.3" fill="#9a50c0" opacity="0.27"/>
<circle cx="274.3" cy="224.0" r="2.3" fill="none" stroke="#3dbb3d" stroke-width="1.1" opacity="0.53"/>
<circle cx="274.3" cy="224.0" r="1.3" fill="#9a50c0" opacity="0.25"/>
<circle cx="282.4" cy="183.1" r="2.3" fill="none" stroke="#3dbb3d" stroke-width="1.1" opacity="0.45"/>
<circle cx="282.4" cy="183.1" r="1.3" fill="#9a50c0" opacity="0.22"/>
<circle cx="262.8" cy="182.9" r="2.2" fill="none" stroke="#3dbb3d" stroke-width="1.1" opacity="0.48"/>
<circle cx="282.3" cy="201.3" r="2.3" fill="none" stroke="#3dbb3d" stroke-width="1.1" opacity="0.46"/>
<circle cx="282.3" cy="201.3" r="1.3" fill="#9a50c0" opacity="0.24"/>
<circle cx="245.7" cy="146.1" r="2.6" fill="none" stroke="#3dbb3d" stroke-width="1.1" opacity="0.60"/>
<circle cx="245.7" cy="146.1" r="1.3" fill="#9a50c0" opacity="0.32"/>
<circle cx="259.7" cy="172.0" r="2.6" fill="none" stroke="#3dbb3d" stroke-width="1.1" opacity="0.36"/>
<circle cx="264.7" cy="142.1" r="2.1" fill="none" stroke="#3dbb3d" stroke-width="1.1" opacity="0.38"/>
<circle cx="264.7" cy="142.1" r="1.3" fill="#9a50c0" opacity="0.23"/>
<circle cx="251.3" cy="149.2" r="2.1" fill="none" stroke="#3dbb3d" stroke-width="1.1" opacity="0.50"/>
<circle cx="251.3" cy="149.2" r="1.3" fill="#9a50c0" opacity="0.22"/>
<circle cx="282.6" cy="175.1" r="2.1" fill="none" stroke="#3dbb3d" stroke-width="1.1" opacity="0.54"/>
<circle cx="282.6" cy="175.1" r="1.3" fill="#9a50c0" opacity="0.31"/>
<circle cx="261.3" cy="177.4" r="2.2" fill="none" stroke="#3dbb3d" stroke-width="1.1" opacity="0.53"/>
<circle cx="261.3" cy="177.4" r="1.3" fill="#9a50c0" opacity="0.26"/>
<circle cx="267.6" cy="154.5" r="2.3" fill="none" stroke="#3dbb3d" stroke-width="1.1" opacity="0.37"/>
<circle cx="267.6" cy="154.5" r="1.3" fill="#9a50c0" opacity="0.31"/>
<circle cx="265.3" cy="136.6" r="2.2" fill="none" stroke="#3dbb3d" stroke-width="1.1" opacity="0.38"/>
<circle cx="265.3" cy="136.6" r="1.3" fill="#9a50c0" opacity="0.22"/>
<circle cx="290.3" cy="191.5" r="2.1" fill="none" stroke="#3dbb3d" stroke-width="1.1" opacity="0.35"/>
<circle cx="288.8" cy="215.5" r="2.4" fill="none" stroke="#3dbb3d" stroke-width="1.1" opacity="0.59"/>
<circle cx="288.8" cy="215.5" r="1.3" fill="#9a50c0" opacity="0.29"/>
<circle cx="271.9" cy="173.6" r="2.2" fill="none" stroke="#3dbb3d" stroke-width="1.1" opacity="0.37"/>
<circle cx="277.4" cy="163.8" r="2.4" fill="none" stroke="#3dbb3d" stroke-width="1.1" opacity="0.58"/>
<circle cx="277.4" cy="163.8" r="1.3" fill="#9a50c0" opacity="0.26"/>
<circle cx="268.9" cy="227.7" r="2.1" fill="none" stroke="#3dbb3d" stroke-width="1.1" opacity="0.55"/>
<circle cx="268.9" cy="227.7" r="1.3" fill="#9a50c0" opacity="0.23"/>
<circle cx="277.9" cy="174.0" r="2.2" fill="none" stroke="#3dbb3d" stroke-width="1.1" opacity="0.46"/>
<circle cx="237.3" cy="137.3" r="2.1" fill="none" stroke="#3dbb3d" stroke-width="1.1" opacity="0.50"/>
<circle cx="237.3" cy="137.3" r="1.3" fill="#9a50c0" opacity="0.24"/>
<circle cx="239.3" cy="171.3" r="2.5" fill="none" stroke="#3dbb3d" stroke-width="1.1" opacity="0.60"/>
<circle cx="239.3" cy="171.3" r="1.3" fill="#9a50c0" opacity="0.24"/>
<circle cx="237.9" cy="165.1" r="2.5" fill="none" stroke="#3dbb3d" stroke-width="1.1" opacity="0.42"/>
<circle cx="237.9" cy="165.1" r="1.3" fill="#9a50c0" opacity="0.29"/>
<circle cx="232.5" cy="168.5" r="2.5" fill="none" stroke="#3dbb3d" stroke-width="1.1" opacity="0.31"/>
<circle cx="232.5" cy="168.5" r="1.3" fill="#9a50c0" opacity="0.31"/>
<circle cx="247.6" cy="165.1" r="2.5" fill="none" stroke="#3dbb3d" stroke-width="1.1" opacity="0.52"/>
<circle cx="247.6" cy="165.1" r="1.3" fill="#9a50c0" opacity="0.30"/>
<circle cx="246.4" cy="158.9" r="2.5" fill="none" stroke="#3dbb3d" stroke-width="1.1" opacity="0.55"/>
<circle cx="246.4" cy="158.9" r="1.3" fill="#9a50c0" opacity="0.28"/>
<circle cx="232.6" cy="207.6" r="2.4" fill="none" stroke="#3dbb3d" stroke-width="1.1" opacity="0.55"/>
<circle cx="232.6" cy="207.6" r="1.3" fill="#9a50c0" opacity="0.32"/>
<circle cx="210.5" cy="177.7" r="2.4" fill="none" stroke="#3dbb3d" stroke-width="1.1" opacity="0.36"/>
<circle cx="220.4" cy="209.8" r="2.2" fill="none" stroke="#3dbb3d" stroke-width="1.1" opacity="0.45"/>
<circle cx="220.4" cy="209.8" r="1.3" fill="#9a50c0" opacity="0.22"/>
<circle cx="225.3" cy="206.8" r="2.2" fill="none" stroke="#3dbb3d" stroke-width="1.1" opacity="0.54"/>
<circle cx="225.3" cy="206.8" r="1.3" fill="#9a50c0" opacity="0.25"/>
<circle cx="255.8" cy="202.6" r="2.6" fill="none" stroke="#3dbb3d" stroke-width="1.1" opacity="0.58"/>
<circle cx="255.8" cy="202.6" r="1.3" fill="#9a50c0" opacity="0.22"/>
<circle cx="249.5" cy="201.3" r="2.6" fill="none" stroke="#3dbb3d" stroke-width="1.1" opacity="0.52"/>
<circle cx="249.5" cy="201.3" r="1.3" fill="#9a50c0" opacity="0.33"/>
<circle cx="242.9" cy="221.4" r="2.2" fill="none" stroke="#3dbb3d" stroke-width="1.1" opacity="0.42"/>
<circle cx="242.9" cy="221.4" r="1.3" fill="#9a50c0" opacity="0.24"/>
<circle cx="240.7" cy="216.2" r="2.2" fill="none" stroke="#3dbb3d" stroke-width="1.1" opacity="0.38"/>
<circle cx="240.7" cy="216.2" r="1.3" fill="#9a50c0" opacity="0.35"/>
<circle cx="242.5" cy="210.8" r="2.2" fill="none" stroke="#3dbb3d" stroke-width="1.1" opacity="0.53"/>
<circle cx="242.5" cy="210.8" r="1.3" fill="#9a50c0" opacity="0.31"/>
<circle cx="211.1" cy="141.3" r="2.2" fill="none" stroke="#3dbb3d" stroke-width="1.1" opacity="0.38"/>
<circle cx="210.4" cy="135.6" r="2.2" fill="none" stroke="#3dbb3d" stroke-width="1.1" opacity="0.30"/>
<circle cx="210.4" cy="135.6" r="1.3" fill="#9a50c0" opacity="0.30"/>
<circle cx="206.7" cy="131.2" r="2.2" fill="none" stroke="#3dbb3d" stroke-width="1.1" opacity="0.29"/>
<circle cx="206.7" cy="131.2" r="1.3" fill="#9a50c0" opacity="0.29"/>
<circle cx="212.2" cy="166.7" r="2.2" fill="none" stroke="#3dbb3d" stroke-width="1.1" opacity="0.46"/>
<circle cx="212.2" cy="166.7" r="1.3" fill="#9a50c0" opacity="0.31"/>
<circle cx="222.7" cy="140.1" r="2.5" fill="none" stroke="#3dbb3d" stroke-width="1.1" opacity="0.57"/>
<circle cx="222.7" cy="140.1" r="1.3" fill="#9a50c0" opacity="0.23"/>
<circle cx="228.6" cy="142.4" r="2.5" fill="none" stroke="#3dbb3d" stroke-width="1.1" opacity="0.58"/>
<circle cx="228.6" cy="142.4" r="1.3" fill="#9a50c0" opacity="0.22"/>
<circle cx="225.8" cy="148.0" r="2.5" fill="none" stroke="#3dbb3d" stroke-width="1.1" opacity="0.48"/>
<circle cx="225.8" cy="148.0" r="1.3" fill="#9a50c0" opacity="0.31"/>
<circle cx="216.6" cy="228.1" r="2.4" fill="none" stroke="#3dbb3d" stroke-width="1.1" opacity="0.32"/>
<circle cx="218.4" cy="161.1" r="2.2" fill="none" stroke="#3dbb3d" stroke-width="1.1" opacity="0.39"/>
<circle cx="218.4" cy="161.1" r="1.3" fill="#9a50c0" opacity="0.26"/>
<circle cx="223.3" cy="158.4" r="2.2" fill="none" stroke="#3dbb3d" stroke-width="1.1" opacity="0.53"/>
<circle cx="223.3" cy="158.4" r="1.3" fill="#9a50c0" opacity="0.32"/>
<circle cx="227.8" cy="161.9" r="2.2" fill="none" stroke="#3dbb3d" stroke-width="1.1" opacity="0.58"/>
<circle cx="227.8" cy="161.9" r="1.3" fill="#9a50c0" opacity="0.31"/>
<circle cx="229.8" cy="156.5" r="2.2" fill="none" stroke="#3dbb3d" stroke-width="1.1" opacity="0.32"/>
<circle cx="246.9" cy="228.1" r="2.5" fill="none" stroke="#3dbb3d" stroke-width="1.1" opacity="0.31"/>
<circle cx="246.9" cy="228.1" r="1.3" fill="#9a50c0" opacity="0.30"/>
<circle cx="224.5" cy="177.8" r="2.2" fill="none" stroke="#3dbb3d" stroke-width="1.1" opacity="0.38"/>
<circle cx="224.5" cy="177.8" r="1.3" fill="#9a50c0" opacity="0.27"/>
<circle cx="208.3" cy="185.2" r="2.6" fill="none" stroke="#3dbb3d" stroke-width="1.1" opacity="0.34"/>
<circle cx="208.3" cy="185.2" r="1.3" fill="#9a50c0" opacity="0.33"/>
<circle cx="204.2" cy="190.2" r="2.6" fill="none" stroke="#3dbb3d" stroke-width="1.1" opacity="0.50"/>
<circle cx="204.2" cy="190.2" r="1.3" fill="#9a50c0" opacity="0.26"/>
<circle cx="209.0" cy="194.7" r="2.6" fill="none" stroke="#3dbb3d" stroke-width="1.1" opacity="0.36"/>
<circle cx="209.0" cy="194.7" r="1.3" fill="#9a50c0" opacity="0.26"/>
<circle cx="234.2" cy="225.8" r="2.1" fill="none" stroke="#3dbb3d" stroke-width="1.1" opacity="0.52"/>
<circle cx="234.2" cy="225.8" r="1.3" fill="#9a50c0" opacity="0.24"/>
<circle cx="220.5" cy="219.5" r="2.3" fill="none" stroke="#3dbb3d" stroke-width="1.1" opacity="0.40"/>
<circle cx="220.5" cy="219.5" r="1.3" fill="#9a50c0" opacity="0.26"/>
<circle cx="210.3" cy="216.7" r="2.2" fill="none" stroke="#3dbb3d" stroke-width="1.1" opacity="0.43"/>
<circle cx="210.3" cy="216.7" r="1.3" fill="#9a50c0" opacity="0.23"/>
<circle cx="211.1" cy="222.4" r="2.2" fill="none" stroke="#3dbb3d" stroke-width="1.1" opacity="0.47"/>
<circle cx="211.1" cy="222.4" r="1.3" fill="#9a50c0" opacity="0.33"/>
<circle cx="209.9" cy="228.1" r="2.2" fill="none" stroke="#3dbb3d" stroke-width="1.1" opacity="0.46"/>
<circle cx="209.9" cy="228.1" r="1.3" fill="#9a50c0" opacity="0.26"/>
<circle cx="237.9" cy="199.3" r="2.6" fill="none" stroke="#3dbb3d" stroke-width="1.1" opacity="0.51"/>
<circle cx="237.9" cy="199.3" r="1.3" fill="#9a50c0" opacity="0.31"/>
<circle cx="234.3" cy="193.9" r="2.6" fill="none" stroke="#3dbb3d" stroke-width="1.1" opacity="0.39"/>
<circle cx="234.3" cy="193.9" r="1.3" fill="#9a50c0" opacity="0.22"/>
<circle cx="235.2" cy="183.1" r="2.6" fill="none" stroke="#3dbb3d" stroke-width="1.1" opacity="0.55"/>
<circle cx="235.2" cy="183.1" r="1.3" fill="#9a50c0" opacity="0.30"/>
<circle cx="240.7" cy="179.7" r="2.6" fill="none" stroke="#3dbb3d" stroke-width="1.1" opacity="0.40"/>
<circle cx="240.7" cy="179.7" r="1.3" fill="#9a50c0" opacity="0.32"/>
<circle cx="246.9" cy="177.7" r="2.6" fill="none" stroke="#3dbb3d" stroke-width="1.1" opacity="0.47"/>
<circle cx="246.9" cy="177.7" r="1.3" fill="#9a50c0" opacity="0.23"/>
<circle cx="252.5" cy="180.9" r="2.6" fill="none" stroke="#3dbb3d" stroke-width="1.1" opacity="0.41"/>
<circle cx="252.5" cy="180.9" r="1.3" fill="#9a50c0" opacity="0.28"/>
<circle cx="237.4" cy="149.4" r="2.6" fill="none" stroke="#3dbb3d" stroke-width="1.1" opacity="0.46"/>
<circle cx="241.1" cy="154.8" r="2.6" fill="none" stroke="#3dbb3d" stroke-width="1.1" opacity="0.35"/>
<circle cx="235.9" cy="158.8" r="2.6" fill="none" stroke="#3dbb3d" stroke-width="1.1" opacity="0.46"/>
<circle cx="235.9" cy="158.8" r="1.3" fill="#9a50c0" opacity="0.28"/>
<circle cx="252.0" cy="216.6" r="2.4" fill="none" stroke="#3dbb3d" stroke-width="1.1" opacity="0.41"/>
<circle cx="207.9" cy="204.5" r="2.1" fill="none" stroke="#3dbb3d" stroke-width="1.1" opacity="0.52"/>
<circle cx="207.9" cy="204.5" r="1.3" fill="#9a50c0" opacity="0.23"/>
<circle cx="206.5" cy="209.8" r="2.1" fill="none" stroke="#3dbb3d" stroke-width="1.1" opacity="0.59"/>
<circle cx="202.2" cy="213.5" r="2.1" fill="none" stroke="#3dbb3d" stroke-width="1.1" opacity="0.35"/>
<circle cx="202.5" cy="219.0" r="2.1" fill="none" stroke="#3dbb3d" stroke-width="1.1" opacity="0.55"/>
<circle cx="202.5" cy="219.0" r="1.3" fill="#9a50c0" opacity="0.28"/>
<circle cx="210.5" cy="158.2" r="2.1" fill="none" stroke="#3dbb3d" stroke-width="1.1" opacity="0.43"/>
<circle cx="205.1" cy="159.4" r="2.1" fill="none" stroke="#3dbb3d" stroke-width="1.1" opacity="0.34"/>
<circle cx="205.1" cy="159.4" r="1.3" fill="#9a50c0" opacity="0.33"/>
<circle cx="255.6" cy="154.0" r="2.4" fill="none" stroke="#3dbb3d" stroke-width="1.1" opacity="0.52"/>
<circle cx="255.6" cy="154.0" r="1.3" fill="#9a50c0" opacity="0.23"/>
<circle cx="260.4" cy="158.0" r="2.4" fill="none" stroke="#3dbb3d" stroke-width="1.1" opacity="0.48"/>
<circle cx="260.4" cy="158.0" r="1.3" fill="#9a50c0" opacity="0.25"/>
<circle cx="221.0" cy="183.2" r="2.4" fill="none" stroke="#3dbb3d" stroke-width="1.1" opacity="0.56"/>
<circle cx="221.0" cy="183.2" r="1.3" fill="#9a50c0" opacity="0.25"/>
<circle cx="225.6" cy="187.0" r="2.4" fill="none" stroke="#3dbb3d" stroke-width="1.1" opacity="0.56"/>
<circle cx="225.6" cy="187.0" r="1.3" fill="#9a50c0" opacity="0.23"/>
</g></g>
</g>
<g clip-path="url(#cp01)">
<rect x="26.7" y="230.9" width="90" height="90" fill="#000"/>
<g clip-path="url(#tc01)">
<rect x="26.7" y="230.9" width="90" height="90" fill="#0a280a"/>
<circle cx="38.7" cy="282.9" r="57" fill="none" stroke="#1d6a1d" stroke-width="24" opacity="0.9" filter="url(#bl20)"/>
<g filter="url(#bl8)">
<circle cx="86.7" cy="248.3" r="2.6" fill="#3cbc3c" fill-opacity="0.12" stroke="#3cbc3c" stroke-width="1.3" opacity="0.61"/>
<circle cx="42.1" cy="236.4" r="3.1" fill="#3cbc3c" fill-opacity="0.12" stroke="#3cbc3c" stroke-width="1.3" opacity="0.65"/>
<circle cx="88.8" cy="297.2" r="2.7" fill="#3cbc3c" fill-opacity="0.12" stroke="#3cbc3c" stroke-width="1.3" opacity="0.78"/>
<circle cx="31.7" cy="230.9" r="2.7" fill="#3cbc3c" fill-opacity="0.12" stroke="#3cbc3c" stroke-width="1.3" opacity="0.92"/>
<circle cx="55.8" cy="234.3" r="2.9" fill="#3cbc3c" fill-opacity="0.12" stroke="#3cbc3c" stroke-width="1.3" opacity="0.80"/>
<circle cx="29.2" cy="254.4" r="3.3" fill="#3cbc3c" fill-opacity="0.12" stroke="#3cbc3c" stroke-width="1.3" opacity="0.53"/>
<circle cx="74.6" cy="259.7" r="3.5" fill="#3cbc3c" fill-opacity="0.12" stroke="#3cbc3c" stroke-width="1.3" opacity="0.47"/>
<circle cx="94.0" cy="269.7" r="3.0" fill="#3cbc3c" fill-opacity="0.12" stroke="#3cbc3c" stroke-width="1.3" opacity="0.60"/>
<circle cx="67.9" cy="321.5" r="3.2" fill="#3cbc3c" fill-opacity="0.12" stroke="#3cbc3c" stroke-width="1.3" opacity="0.50"/>
<circle cx="37.3" cy="299.0" r="3.3" fill="#3cbc3c" fill-opacity="0.12" stroke="#3cbc3c" stroke-width="1.3" opacity="0.48"/>
<circle cx="99.5" cy="260.2" r="3.1" fill="#3cbc3c" fill-opacity="0.12" stroke="#3cbc3c" stroke-width="1.3" opacity="0.54"/>
<circle cx="93.0" cy="283.8" r="3.0" fill="#3cbc3c" fill-opacity="0.12" stroke="#3cbc3c" stroke-width="1.3" opacity="0.90"/>
<circle cx="45.2" cy="284.3" r="3.5" fill="#3cbc3c" fill-opacity="0.12" stroke="#3cbc3c" stroke-width="1.3" opacity="0.53"/>
<circle cx="91.4" cy="322.5" r="2.9" fill="#3cbc3c" fill-opacity="0.12" stroke="#3cbc3c" stroke-width="1.3" opacity="0.95"/>
<circle cx="73.6" cy="231.1" r="3.2" fill="#3cbc3c" fill-opacity="0.12" stroke="#3cbc3c" stroke-width="1.3" opacity="0.53"/>
<circle cx="86.6" cy="289.2" r="3.0" fill="#3cbc3c" fill-opacity="0.12" stroke="#3cbc3c" stroke-width="1.3" opacity="0.65"/>
<circle cx="86.5" cy="263.2" r="3.2" fill="#3cbc3c" fill-opacity="0.12" stroke="#3cbc3c" stroke-width="1.3" opacity="0.49"/>
<circle cx="35.6" cy="321.8" r="4.1" fill="#3cbc3c" fill-opacity="0.12" stroke="#3cbc3c" stroke-width="1.3" opacity="0.35"/>
<circle cx="99.2" cy="297.1" r="2.6" fill="#3cbc3c" fill-opacity="0.12" stroke="#3cbc3c" stroke-width="1.3" opacity="0.94"/>
<circle cx="89.9" cy="255.1" r="3.0" fill="#3cbc3c" fill-opacity="0.12" stroke="#3cbc3c" stroke-width="1.3" opacity="0.77"/>
<circle cx="50.8" cy="317.2" r="3.4" fill="#3cbc3c" fill-opacity="0.12" stroke="#3cbc3c" stroke-width="1.3" opacity="0.53"/>
<circle cx="24.8" cy="238.2" r="2.8" fill="#3cbc3c" fill-opacity="0.12" stroke="#3cbc3c" stroke-width="1.3" opacity="0.90"/>
<circle cx="47.5" cy="270.3" r="3.4" fill="#3cbc3c" fill-opacity="0.12" stroke="#3cbc3c" stroke-width="1.3" opacity="0.34"/>
<circle cx="49.8" cy="248.6" r="3.4" fill="#3cbc3c" fill-opacity="0.12" stroke="#3cbc3c" stroke-width="1.3" opacity="0.54"/>
<circle cx="100.1" cy="310.0" r="3.1" fill="#3cbc3c" fill-opacity="0.12" stroke="#3cbc3c" stroke-width="1.3" opacity="0.72"/>
<circle cx="104.7" cy="292.3" r="2.6" fill="#3cbc3c" fill-opacity="0.12" stroke="#3cbc3c" stroke-width="1.3" opacity="0.74"/>
<circle cx="84.6" cy="275.0" r="2.9" fill="#3cbc3c" fill-opacity="0.12" stroke="#3cbc3c" stroke-width="1.3" opacity="0.52"/>
<circle cx="96.6" cy="251.0" r="2.7" fill="#3cbc3c" fill-opacity="0.12" stroke="#3cbc3c" stroke-width="1.3" opacity="0.49"/>
<circle cx="40.7" cy="228.7" r="2.7" fill="#3cbc3c" fill-opacity="0.12" stroke="#3cbc3c" stroke-width="1.3" opacity="0.79"/>
<circle cx="83.7" cy="319.9" r="2.6" fill="#3cbc3c" fill-opacity="0.12" stroke="#3cbc3c" stroke-width="1.3" opacity="0.75"/>
<circle cx="103.3" cy="273.5" r="3.0" fill="#3cbc3c" fill-opacity="0.12" stroke="#3cbc3c" stroke-width="1.3" opacity="0.89"/>
<circle cx="66.1" cy="228.8" r="2.7" fill="#3cbc3c" fill-opacity="0.12" stroke="#3cbc3c" stroke-width="1.3" opacity="0.85"/>
<circle cx="81.9" cy="237.9" r="2.7" fill="#3cbc3c" fill-opacity="0.12" stroke="#3cbc3c" stroke-width="1.3" opacity="0.86"/>
<circle cx="96.0" cy="316.5" r="2.5" fill="#3cbc3c" fill-opacity="0.12" stroke="#3cbc3c" stroke-width="1.3" opacity="0.51"/>
<circle cx="60.6" cy="261.5" r="3.3" fill="#3cbc3c" fill-opacity="0.12" stroke="#3cbc3c" stroke-width="1.3" opacity="0.33"/>
<circle cx="91.7" cy="305.5" r="3.2" fill="#3cbc3c" fill-opacity="0.12" stroke="#3cbc3c" stroke-width="1.3" opacity="0.81"/>
<circle cx="49.2" cy="303.7" r="4.0" fill="#3cbc3c" fill-opacity="0.12" stroke="#3cbc3c" stroke-width="1.3" opacity="0.47"/>
<circle cx="49.4" cy="238.8" r="2.8" fill="#3cbc3c" fill-opacity="0.12" stroke="#3cbc3c" stroke-width="1.3" opacity="0.50"/>
<circle cx="24.1" cy="299.3" r="4.1" fill="#3cbc3c" fill-opacity="0.12" stroke="#3cbc3c" stroke-width="1.3" opacity="0.36"/>
<circle cx="103.4" cy="285.4" r="2.7" fill="#3cbc3c" fill-opacity="0.12" stroke="#3cbc3c" stroke-width="1.3" opacity="0.83"/>
<circle cx="25.3" cy="284.0" r="3.4" fill="#3cbc3c" fill-opacity="0.12" stroke="#3cbc3c" stroke-width="1.3" opacity="0.33"/>
<circle cx="90.8" cy="240.8" r="2.7" fill="#3cbc3c" fill-opacity="0.12" stroke="#3cbc3c" stroke-width="1.3" opacity="0.54"/>
<circle cx="68.3" cy="299.0" r="3.2" fill="#3cbc3c" fill-opacity="0.12" stroke="#3cbc3c" stroke-width="1.3" opacity="0.46"/>
<circle cx="49.9" cy="228.0" r="2.5" fill="#3cbc3c" fill-opacity="0.12" stroke="#3cbc3c" stroke-width="1.3" opacity="0.57"/>
<circle cx="59.8" cy="242.4" r="3.3" fill="#3cbc3c" fill-opacity="0.12" stroke="#3cbc3c" stroke-width="1.3" opacity="0.82"/>
<circle cx="28.2" cy="269.6" r="3.9" fill="#3cbc3c" fill-opacity="0.12" stroke="#3cbc3c" stroke-width="1.3" opacity="0.44"/>
<circle cx="41.6" cy="257.4" r="3.2" fill="#3cbc3c" fill-opacity="0.12" stroke="#3cbc3c" stroke-width="1.3" opacity="0.48"/>
<circle cx="72.6" cy="285.7" r="3.8" fill="#3cbc3c" fill-opacity="0.12" stroke="#3cbc3c" stroke-width="1.3" opacity="0.51"/>
<circle cx="75.4" cy="320.9" r="2.5" fill="#3cbc3c" fill-opacity="0.12" stroke="#3cbc3c" stroke-width="1.3" opacity="0.94"/>
<circle cx="59.5" cy="290.3" r="3.3" fill="#3cbc3c" fill-opacity="0.12" stroke="#3cbc3c" stroke-width="1.3" opacity="0.34"/>
<circle cx="59.3" cy="322.9" r="2.6" fill="#3cbc3c" fill-opacity="0.12" stroke="#3cbc3c" stroke-width="1.3" opacity="0.65"/>
<circle cx="82.5" cy="256.5" r="2.7" fill="#3cbc3c" fill-opacity="0.12" stroke="#3cbc3c" stroke-width="1.3" opacity="0.79"/>
<circle cx="24.2" cy="230.5" r="2.4" fill="#3cbc3c" fill-opacity="0.12" stroke="#3cbc3c" stroke-width="1.3" opacity="0.63"/>
<circle cx="60.9" cy="309.7" r="3.5" fill="#3cbc3c" fill-opacity="0.12" stroke="#3cbc3c" stroke-width="1.3" opacity="0.36"/>
<circle cx="95.1" cy="291.3" r="2.6" fill="#3cbc3c" fill-opacity="0.12" stroke="#3cbc3c" stroke-width="1.3" opacity="0.67"/>
<circle cx="63.6" cy="235.7" r="2.7" fill="#3cbc3c" fill-opacity="0.12" stroke="#3cbc3c" stroke-width="1.3" opacity="0.55"/>
<circle cx="24.0" cy="314.4" r="3.5" fill="#3cbc3c" fill-opacity="0.12" stroke="#3cbc3c" stroke-width="1.3" opacity="0.47"/>
<circle cx="68.7" cy="244.5" r="2.8" fill="#3cbc3c" fill-opacity="0.12" stroke="#3cbc3c" stroke-width="1.3" opacity="0.65"/>
<circle cx="73.1" cy="248.5" r="2.8" fill="#3cbc3c" fill-opacity="0.12" stroke="#3cbc3c" stroke-width="1.3" opacity="0.65"/>
<circle cx="56.5" cy="280.0" r="4.0" fill="#3cbc3c" fill-opacity="0.12" stroke="#3cbc3c" stroke-width="1.3" opacity="0.40"/>
<circle cx="81.1" cy="308.9" r="3.4" fill="#3cbc3c" fill-opacity="0.12" stroke="#3cbc3c" stroke-width="1.3" opacity="0.71"/>
</g></g>
</g>
<g clip-path="url(#cp11)">
<rect x="116.9" y="230.9" width="90" height="90" fill="#000"/>
<g filter="url(#bl8)">
<circle cx="176.9" cy="248.3" r="2.6" fill="#d23ee0" opacity="0.79"/>
<circle cx="132.3" cy="236.4" r="3.0" fill="#d23ee0" opacity="0.64"/>
<circle cx="179.0" cy="297.2" r="2.7" fill="#d23ee0" opacity="0.64"/>
<circle cx="121.9" cy="230.9" r="2.6" fill="#d23ee0" opacity="0.92"/>
<circle cx="146.0" cy="234.3" r="2.8" fill="#d23ee0" opacity="0.56"/>
<circle cx="119.4" cy="254.4" r="3.1" fill="#d23ee0" opacity="0.70"/>
<circle cx="164.8" cy="259.7" r="3.3" fill="#d23ee0" opacity="0.96"/>
<circle cx="184.2" cy="269.7" r="2.9" fill="#d23ee0" opacity="0.80"/>
<circle cx="158.1" cy="321.5" r="3.1" fill="#d23ee0" opacity="0.60"/>
<circle cx="127.5" cy="299.0" r="3.1" fill="#d23ee0" opacity="0.71"/>
<circle cx="189.7" cy="260.2" r="2.9" fill="#d23ee0" opacity="0.81"/>
<circle cx="183.2" cy="283.8" r="2.9" fill="#d23ee0" opacity="0.63"/>
<circle cx="135.4" cy="284.3" r="3.3" fill="#d23ee0" opacity="0.96"/>
<circle cx="181.6" cy="322.5" r="2.8" fill="#d23ee0" opacity="0.59"/>
<circle cx="163.8" cy="231.1" r="3.0" fill="#d23ee0" opacity="0.72"/>
<circle cx="176.8" cy="289.2" r="2.9" fill="#d23ee0" opacity="0.86"/>
<circle cx="176.7" cy="263.2" r="3.0" fill="#d23ee0" opacity="0.96"/>
<circle cx="125.8" cy="321.8" r="3.8" fill="#d23ee0" opacity="0.88"/>
<circle cx="189.4" cy="297.1" r="2.6" fill="#d23ee0" opacity="0.82"/>
<circle cx="180.1" cy="255.1" r="2.9" fill="#d23ee0" opacity="0.41"/>
<circle cx="141.0" cy="317.2" r="3.2" fill="#d23ee0" opacity="0.89"/>
<circle cx="115.0" cy="238.2" r="2.7" fill="#d23ee0" opacity="0.91"/>
<circle cx="137.7" cy="270.3" r="3.2" fill="#d23ee0" opacity="0.77"/>
<circle cx="140.0" cy="248.6" r="3.2" fill="#d23ee0" opacity="0.81"/>
<circle cx="190.3" cy="310.0" r="3.0" fill="#d23ee0" opacity="0.60"/>
<circle cx="194.9" cy="292.3" r="2.6" fill="#d23ee0" opacity="0.63"/>
<circle cx="174.8" cy="275.0" r="2.8" fill="#d23ee0" opacity="0.88"/>
<circle cx="186.8" cy="251.0" r="2.6" fill="#d23ee0" opacity="0.85"/>
<circle cx="130.9" cy="228.7" r="2.6" fill="#d23ee0" opacity="0.69"/>
<circle cx="173.9" cy="319.9" r="2.6" fill="#d23ee0" opacity="0.92"/>
<circle cx="193.5" cy="273.5" r="2.9" fill="#d23ee0" opacity="0.74"/>
<circle cx="156.3" cy="228.8" r="2.7" fill="#d23ee0" opacity="0.75"/>
<circle cx="172.1" cy="237.9" r="2.7" fill="#d23ee0" opacity="0.86"/>
<circle cx="186.2" cy="316.5" r="2.4" fill="#d23ee0" opacity="0.80"/>
<circle cx="150.8" cy="261.5" r="3.2" fill="#d23ee0" opacity="0.90"/>
<circle cx="139.4" cy="303.7" r="3.7" fill="#d23ee0" opacity="0.92"/>
<circle cx="139.6" cy="238.8" r="2.7" fill="#d23ee0" opacity="0.75"/>
<circle cx="114.3" cy="299.3" r="3.8" fill="#d23ee0" opacity="0.83"/>
<circle cx="193.6" cy="285.4" r="2.6" fill="#d23ee0" opacity="0.41"/>
<circle cx="115.5" cy="284.0" r="3.2" fill="#d23ee0" opacity="0.89"/>
<circle cx="181.0" cy="240.8" r="2.6" fill="#d23ee0" opacity="0.66"/>
<circle cx="158.5" cy="299.0" r="3.1" fill="#d23ee0" opacity="0.97"/>
<circle cx="140.1" cy="228.0" r="2.5" fill="#d23ee0" opacity="0.69"/>
<circle cx="150.0" cy="242.4" r="3.1" fill="#d23ee0" opacity="0.65"/>
<circle cx="118.4" cy="269.6" r="3.6" fill="#d23ee0" opacity="0.97"/>
<circle cx="165.6" cy="320.9" r="2.5" fill="#d23ee0" opacity="0.51"/>
<circle cx="149.7" cy="290.3" r="3.1" fill="#d23ee0" opacity="0.95"/>
<circle cx="149.5" cy="322.9" r="2.6" fill="#d23ee0" opacity="0.90"/>
<circle cx="172.7" cy="256.5" r="2.6" fill="#d23ee0" opacity="0.81"/>
<circle cx="114.4" cy="230.5" r="2.4" fill="#d23ee0" opacity="0.94"/>
<circle cx="151.1" cy="309.7" r="3.3" fill="#d23ee0" opacity="0.65"/>
<circle cx="153.8" cy="235.7" r="2.6" fill="#d23ee0" opacity="0.58"/>
<circle cx="114.2" cy="314.4" r="3.3" fill="#d23ee0" opacity="0.91"/>
<circle cx="158.9" cy="244.5" r="2.7" fill="#d23ee0" opacity="0.49"/>
<circle cx="163.3" cy="248.5" r="2.7" fill="#d23ee0" opacity="0.53"/>
<circle cx="146.7" cy="280.0" r="3.7" fill="#d23ee0" opacity="1.00"/>
<circle cx="171.3" cy="308.9" r="3.2" fill="#d23ee0" opacity="0.96"/>
</g>
</g>
<g clip-path="url(#cp21)">
<rect x="207.0" y="230.9" width="90" height="90" fill="#000"/>
<g clip-path="url(#tc21)">
<rect x="207.0" y="230.9" width="90" height="90" filter="url(#nuc1)"/>
<circle cx="219.0" cy="282.9" r="62" fill="none" stroke="#6ac06a" stroke-width="14" opacity="0.45" filter="url(#bl20)"/>
<g filter="url(#bl5)">
<circle cx="267.0" cy="248.3" r="2.6" fill="none" stroke="#48c048" stroke-width="1.1" opacity="0.32"/>
<circle cx="267.0" cy="248.3" r="2.6" fill="#d03ee0" opacity="0.75"/>
<circle cx="222.4" cy="236.4" r="3.1" fill="none" stroke="#48c048" stroke-width="1.1" opacity="0.35"/>
<circle cx="222.4" cy="236.4" r="3.0" fill="#d03ee0" opacity="0.61"/>
<circle cx="269.1" cy="297.2" r="2.7" fill="none" stroke="#48c048" stroke-width="1.1" opacity="0.44"/>
<circle cx="269.1" cy="297.2" r="2.7" fill="#d03ee0" opacity="0.61"/>
<circle cx="212.0" cy="230.9" r="2.7" fill="none" stroke="#48c048" stroke-width="1.1" opacity="0.53"/>
<circle cx="212.0" cy="230.9" r="2.6" fill="#d03ee0" opacity="0.87"/>
<circle cx="236.1" cy="234.3" r="2.9" fill="none" stroke="#48c048" stroke-width="1.1" opacity="0.45"/>
<circle cx="236.1" cy="234.3" r="2.8" fill="#d03ee0" opacity="0.53"/>
<circle cx="209.5" cy="254.4" r="3.3" fill="none" stroke="#48c048" stroke-width="1.1" opacity="0.53"/>
<circle cx="209.5" cy="254.4" r="3.1" fill="#d03ee0" opacity="0.68"/>
<circle cx="254.9" cy="259.7" r="3.5" fill="none" stroke="#48c048" stroke-width="1.1" opacity="0.45"/>
<circle cx="254.9" cy="259.7" r="3.3" fill="#d03ee0" opacity="0.91"/>
<circle cx="274.3" cy="269.7" r="3.0" fill="none" stroke="#48c048" stroke-width="1.1" opacity="0.32"/>
<circle cx="274.3" cy="269.7" r="2.9" fill="#d03ee0" opacity="0.76"/>
<circle cx="248.2" cy="321.5" r="3.2" fill="none" stroke="#48c048" stroke-width="1.1" opacity="0.25"/>
<circle cx="248.2" cy="321.5" r="3.1" fill="#d03ee0" opacity="0.57"/>
<circle cx="217.6" cy="299.0" r="3.3" fill="none" stroke="#48c048" stroke-width="1.1" opacity="0.45"/>
<circle cx="217.6" cy="299.0" r="3.1" fill="#d03ee0" opacity="0.69"/>
<circle cx="279.8" cy="260.2" r="3.1" fill="none" stroke="#48c048" stroke-width="1.1" opacity="0.28"/>
<circle cx="279.8" cy="260.2" r="2.9" fill="#d03ee0" opacity="0.77"/>
<circle cx="273.3" cy="283.8" r="3.0" fill="none" stroke="#48c048" stroke-width="1.1" opacity="0.52"/>
<circle cx="273.3" cy="283.8" r="2.9" fill="#d03ee0" opacity="0.60"/>
<circle cx="225.5" cy="284.3" r="3.5" fill="none" stroke="#48c048" stroke-width="1.1" opacity="0.53"/>
<circle cx="225.5" cy="284.3" r="3.3" fill="#d03ee0" opacity="0.92"/>
<circle cx="271.7" cy="322.5" r="2.9" fill="none" stroke="#48c048" stroke-width="1.1" opacity="0.55"/>
<circle cx="271.7" cy="322.5" r="2.8" fill="#d03ee0" opacity="0.57"/>
<circle cx="253.9" cy="231.1" r="3.2" fill="none" stroke="#48c048" stroke-width="1.1" opacity="0.27"/>
<circle cx="253.9" cy="231.1" r="3.0" fill="#d03ee0" opacity="0.69"/>
<circle cx="266.9" cy="289.2" r="3.0" fill="none" stroke="#48c048" stroke-width="1.1" opacity="0.35"/>
<circle cx="266.9" cy="289.2" r="2.9" fill="#d03ee0" opacity="0.82"/>
<circle cx="266.8" cy="263.2" r="3.2" fill="none" stroke="#48c048" stroke-width="1.1" opacity="0.24"/>
<circle cx="266.8" cy="263.2" r="3.0" fill="#d03ee0" opacity="0.92"/>
<circle cx="215.9" cy="321.8" r="4.1" fill="none" stroke="#48c048" stroke-width="1.1" opacity="0.29"/>
<circle cx="215.9" cy="321.8" r="3.8" fill="#d03ee0" opacity="0.84"/>
<circle cx="279.5" cy="297.1" r="2.6" fill="none" stroke="#48c048" stroke-width="1.1" opacity="0.54"/>
<circle cx="279.5" cy="297.1" r="2.6" fill="#d03ee0" opacity="0.78"/>
<circle cx="270.2" cy="255.1" r="3.0" fill="none" stroke="#48c048" stroke-width="1.1" opacity="0.43"/>
<circle cx="270.2" cy="255.1" r="2.9" fill="#d03ee0" opacity="0.40"/>
<circle cx="231.1" cy="317.2" r="3.4" fill="none" stroke="#48c048" stroke-width="1.1" opacity="0.52"/>
<circle cx="231.1" cy="317.2" r="3.2" fill="#d03ee0" opacity="0.85"/>
<circle cx="205.1" cy="238.2" r="2.8" fill="none" stroke="#48c048" stroke-width="1.1" opacity="0.51"/>
<circle cx="205.1" cy="238.2" r="2.7" fill="#d03ee0" opacity="0.87"/>
<circle cx="227.8" cy="270.3" r="3.4" fill="none" stroke="#48c048" stroke-width="1.1" opacity="0.26"/>
<circle cx="227.8" cy="270.3" r="3.2" fill="#d03ee0" opacity="0.74"/>
<circle cx="230.1" cy="248.6" r="3.4" fill="none" stroke="#48c048" stroke-width="1.1" opacity="0.54"/>
<circle cx="230.1" cy="248.6" r="3.2" fill="#d03ee0" opacity="0.78"/>
<circle cx="280.4" cy="310.0" r="3.1" fill="none" stroke="#48c048" stroke-width="1.1" opacity="0.39"/>
<circle cx="280.4" cy="310.0" r="3.0" fill="#d03ee0" opacity="0.57"/>
<circle cx="285.0" cy="292.3" r="2.6" fill="none" stroke="#48c048" stroke-width="1.1" opacity="0.41"/>
<circle cx="285.0" cy="292.3" r="2.6" fill="#d03ee0" opacity="0.60"/>
<circle cx="264.9" cy="275.0" r="2.9" fill="none" stroke="#48c048" stroke-width="1.1" opacity="0.27"/>
<circle cx="264.9" cy="275.0" r="2.8" fill="#d03ee0" opacity="0.84"/>
<circle cx="276.9" cy="251.0" r="2.7" fill="none" stroke="#48c048" stroke-width="1.1" opacity="0.25"/>
<circle cx="276.9" cy="251.0" r="2.6" fill="#d03ee0" opacity="0.81"/>
<circle cx="221.0" cy="228.7" r="2.7" fill="none" stroke="#48c048" stroke-width="1.1" opacity="0.44"/>
<circle cx="221.0" cy="228.7" r="2.6" fill="#d03ee0" opacity="0.65"/>
<circle cx="264.0" cy="319.9" r="2.6" fill="none" stroke="#48c048" stroke-width="1.1" opacity="0.42"/>
<circle cx="264.0" cy="319.9" r="2.6" fill="#d03ee0" opacity="0.88"/>
<circle cx="283.6" cy="273.5" r="3.0" fill="none" stroke="#48c048" stroke-width="1.1" opacity="0.51"/>
<circle cx="283.6" cy="273.5" r="2.9" fill="#d03ee0" opacity="0.71"/>
<circle cx="246.4" cy="228.8" r="2.7" fill="none" stroke="#48c048" stroke-width="1.1" opacity="0.49"/>
<circle cx="246.4" cy="228.8" r="2.7" fill="#d03ee0" opacity="0.71"/>
<circle cx="262.2" cy="237.9" r="2.7" fill="none" stroke="#48c048" stroke-width="1.1" opacity="0.49"/>
<circle cx="262.2" cy="237.9" r="2.7" fill="#d03ee0" opacity="0.82"/>
<circle cx="276.3" cy="316.5" r="2.5" fill="none" stroke="#48c048" stroke-width="1.1" opacity="0.26"/>
<circle cx="276.3" cy="316.5" r="2.4" fill="#d03ee0" opacity="0.76"/>
<circle cx="240.9" cy="261.5" r="3.3" fill="none" stroke="#48c048" stroke-width="1.1" opacity="0.26"/>
<circle cx="240.9" cy="261.5" r="3.2" fill="#d03ee0" opacity="0.86"/>
<circle cx="272.0" cy="305.5" r="3.2" fill="none" stroke="#48c048" stroke-width="1.1" opacity="0.46"/>
<circle cx="229.5" cy="303.7" r="4.0" fill="none" stroke="#48c048" stroke-width="1.1" opacity="0.45"/>
<circle cx="229.5" cy="303.7" r="3.7" fill="#d03ee0" opacity="0.88"/>
<circle cx="229.7" cy="238.8" r="2.8" fill="none" stroke="#48c048" stroke-width="1.1" opacity="0.25"/>
<circle cx="229.7" cy="238.8" r="2.7" fill="#d03ee0" opacity="0.72"/>
<circle cx="204.4" cy="299.3" r="4.1" fill="none" stroke="#48c048" stroke-width="1.1" opacity="0.30"/>
<circle cx="204.4" cy="299.3" r="3.8" fill="#d03ee0" opacity="0.80"/>
<circle cx="283.7" cy="285.4" r="2.7" fill="none" stroke="#48c048" stroke-width="1.1" opacity="0.47"/>
<circle cx="283.7" cy="285.4" r="2.6" fill="#d03ee0" opacity="0.40"/>
<circle cx="205.6" cy="284.0" r="3.4" fill="none" stroke="#48c048" stroke-width="1.1" opacity="0.25"/>
<circle cx="205.6" cy="284.0" r="3.2" fill="#d03ee0" opacity="0.85"/>
<circle cx="271.1" cy="240.8" r="2.7" fill="none" stroke="#48c048" stroke-width="1.1" opacity="0.28"/>
<circle cx="271.1" cy="240.8" r="2.6" fill="#d03ee0" opacity="0.63"/>
<circle cx="248.6" cy="299.0" r="3.2" fill="none" stroke="#48c048" stroke-width="1.1" opacity="0.44"/>
<circle cx="248.6" cy="299.0" r="3.1" fill="#d03ee0" opacity="0.93"/>
<circle cx="230.2" cy="228.0" r="2.5" fill="none" stroke="#48c048" stroke-width="1.1" opacity="0.30"/>
<circle cx="230.2" cy="228.0" r="2.5" fill="#d03ee0" opacity="0.65"/>
<circle cx="240.1" cy="242.4" r="3.3" fill="none" stroke="#48c048" stroke-width="1.1" opacity="0.46"/>
<circle cx="240.1" cy="242.4" r="3.1" fill="#d03ee0" opacity="0.62"/>
<circle cx="208.5" cy="269.6" r="3.9" fill="none" stroke="#48c048" stroke-width="1.1" opacity="0.41"/>
<circle cx="208.5" cy="269.6" r="3.6" fill="#d03ee0" opacity="0.93"/>
<circle cx="221.9" cy="257.4" r="3.2" fill="none" stroke="#48c048" stroke-width="1.1" opacity="0.45"/>
<circle cx="252.9" cy="285.7" r="3.8" fill="none" stroke="#48c048" stroke-width="1.1" opacity="0.50"/>
<circle cx="255.7" cy="320.9" r="2.5" fill="none" stroke="#48c048" stroke-width="1.1" opacity="0.54"/>
<circle cx="255.7" cy="320.9" r="2.5" fill="#d03ee0" opacity="0.48"/>
<circle cx="239.8" cy="290.3" r="3.3" fill="none" stroke="#48c048" stroke-width="1.1" opacity="0.27"/>
<circle cx="239.8" cy="290.3" r="3.1" fill="#d03ee0" opacity="0.91"/>
<circle cx="239.6" cy="322.9" r="2.6" fill="none" stroke="#48c048" stroke-width="1.1" opacity="0.35"/>
<circle cx="239.6" cy="322.9" r="2.6" fill="#d03ee0" opacity="0.86"/>
<circle cx="262.8" cy="256.5" r="2.7" fill="none" stroke="#48c048" stroke-width="1.1" opacity="0.44"/>
<circle cx="262.8" cy="256.5" r="2.6" fill="#d03ee0" opacity="0.78"/>
<circle cx="204.5" cy="230.5" r="2.4" fill="none" stroke="#48c048" stroke-width="1.1" opacity="0.34"/>
<circle cx="204.5" cy="230.5" r="2.4" fill="#d03ee0" opacity="0.89"/>
<circle cx="241.2" cy="309.7" r="3.5" fill="none" stroke="#48c048" stroke-width="1.1" opacity="0.29"/>
<circle cx="241.2" cy="309.7" r="3.3" fill="#d03ee0" opacity="0.64"/>
<circle cx="275.4" cy="291.3" r="2.6" fill="none" stroke="#48c048" stroke-width="1.1" opacity="0.36"/>
<circle cx="243.9" cy="235.7" r="2.7" fill="none" stroke="#48c048" stroke-width="1.1" opacity="0.28"/>
<circle cx="243.9" cy="235.7" r="2.6" fill="#d03ee0" opacity="0.56"/>
<circle cx="204.3" cy="314.4" r="3.5" fill="none" stroke="#48c048" stroke-width="1.1" opacity="0.44"/>
<circle cx="204.3" cy="314.4" r="3.3" fill="#d03ee0" opacity="0.86"/>
<circle cx="249.0" cy="244.5" r="2.8" fill="none" stroke="#48c048" stroke-width="1.1" opacity="0.35"/>
<circle cx="249.0" cy="244.5" r="2.7" fill="#d03ee0" opacity="0.47"/>
<circle cx="253.4" cy="248.5" r="2.8" fill="none" stroke="#48c048" stroke-width="1.1" opacity="0.35"/>
<circle cx="253.4" cy="248.5" r="2.7" fill="#d03ee0" opacity="0.51"/>
<circle cx="236.8" cy="280.0" r="4.0" fill="none" stroke="#48c048" stroke-width="1.1" opacity="0.35"/>
<circle cx="236.8" cy="280.0" r="3.7" fill="#d03ee0" opacity="0.95"/>
<circle cx="261.4" cy="308.9" r="3.4" fill="none" stroke="#48c048" stroke-width="1.1" opacity="0.39"/>
<circle cx="261.4" cy="308.9" r="3.2" fill="#d03ee0" opacity="0.91"/>
</g></g>
</g>
<g clip-path="url(#cp02)">
<rect x="26.7" y="322.5" width="90" height="90" fill="#000"/>
<g clip-path="url(#tc02)">
<rect x="26.7" y="322.5" width="90" height="90" fill="#020802"/>
<g filter="url(#bl8)">
<circle cx="37.8" cy="378.1" r="3.2" fill="#40d040" fill-opacity="0.05" stroke="#40d040" stroke-width="1.4" opacity="0.78"/>
<circle cx="82.4" cy="373.4" r="3.0" fill="#40d040" fill-opacity="0.05" stroke="#40d040" stroke-width="1.4" opacity="0.79"/>
<circle cx="59.5" cy="341.1" r="3.1" fill="#40d040" fill-opacity="0.05" stroke="#40d040" stroke-width="1.5" opacity="0.83"/>
<circle cx="65.7" cy="367.2" r="3.2" fill="#40d040" fill-opacity="0.05" stroke="#40d040" stroke-width="1.3" opacity="0.52"/>
<circle cx="83.6" cy="383.3" r="3.2" fill="#40d040" fill-opacity="0.05" stroke="#40d040" stroke-width="1.3" opacity="0.63"/>
<circle cx="72.1" cy="390.7" r="3.4" fill="#40d040" fill-opacity="0.05" stroke="#40d040" stroke-width="1.6" opacity="0.95"/>
<circle cx="76.7" cy="361.4" r="3.7" fill="#40d040" fill-opacity="0.05" stroke="#40d040" stroke-width="1.5" opacity="0.90"/>
<circle cx="68.4" cy="409.7" r="3.4" fill="#40d040" fill-opacity="0.05" stroke="#40d040" stroke-width="1.5" opacity="0.93"/>
<circle cx="60.8" cy="390.2" r="3.6" fill="#40d040" fill-opacity="0.05" stroke="#40d040" stroke-width="1.4" opacity="0.79"/>
<circle cx="30.6" cy="401.2" r="3.9" fill="#40d040" fill-opacity="0.05" stroke="#40d040" stroke-width="1.3" opacity="0.58"/>
<circle cx="37.3" cy="365.2" r="3.2" fill="#40d040" fill-opacity="0.05" stroke="#40d040" stroke-width="1.4" opacity="0.66"/>
<circle cx="35.0" cy="333.8" r="3.4" fill="#40d040" fill-opacity="0.05" stroke="#40d040" stroke-width="1.5" opacity="0.85"/>
<circle cx="100.3" cy="398.5" r="3.5" fill="#40d040" fill-opacity="0.05" stroke="#40d040" stroke-width="1.5" opacity="0.80"/>
<circle cx="24.4" cy="345.8" r="3.2" fill="#40d040" fill-opacity="0.05" stroke="#40d040" stroke-width="1.5" opacity="0.83"/>
<circle cx="90.7" cy="410.9" r="3.6" fill="#40d040" fill-opacity="0.05" stroke="#40d040" stroke-width="1.5" opacity="0.91"/>
<circle cx="66.6" cy="376.8" r="3.5" fill="#40d040" fill-opacity="0.05" stroke="#40d040" stroke-width="1.6" opacity="0.98"/>
<circle cx="36.8" cy="320.4" r="3.6" fill="#40d040" fill-opacity="0.05" stroke="#40d040" stroke-width="1.4" opacity="0.75"/>
<circle cx="33.7" cy="391.0" r="3.6" fill="#40d040" fill-opacity="0.05" stroke="#40d040" stroke-width="1.3" opacity="0.53"/>
<circle cx="40.5" cy="412.6" r="3.2" fill="#40d040" fill-opacity="0.05" stroke="#40d040" stroke-width="1.3" opacity="0.52"/>
<circle cx="68.6" cy="353.6" r="4.0" fill="#40d040" fill-opacity="0.05" stroke="#40d040" stroke-width="1.4" opacity="0.71"/>
<circle cx="89.5" cy="328.0" r="3.1" fill="#40d040" fill-opacity="0.05" stroke="#40d040" stroke-width="1.6" opacity="1.00"/>
<circle cx="104.2" cy="356.7" r="3.4" fill="#40d040" fill-opacity="0.05" stroke="#40d040" stroke-width="1.4" opacity="0.65"/>
<circle cx="50.6" cy="327.6" r="3.9" fill="#40d040" fill-opacity="0.05" stroke="#40d040" stroke-width="1.6" opacity="0.94"/>
<circle cx="47.0" cy="375.2" r="3.2" fill="#40d040" fill-opacity="0.05" stroke="#40d040" stroke-width="1.5" opacity="0.90"/>
<circle cx="58.5" cy="401.1" r="3.9" fill="#40d040" fill-opacity="0.05" stroke="#40d040" stroke-width="1.3" opacity="0.60"/>
<circle cx="102.1" cy="368.0" r="3.6" fill="#40d040" fill-opacity="0.05" stroke="#40d040" stroke-width="1.3" opacity="0.55"/>
<circle cx="25.0" cy="367.3" r="3.3" fill="#40d040" fill-opacity="0.05" stroke="#40d040" stroke-width="1.5" opacity="0.87"/>
<circle cx="56.7" cy="378.5" r="3.5" fill="#40d040" fill-opacity="0.05" stroke="#40d040" stroke-width="1.3" opacity="0.60"/>
<circle cx="46.8" cy="389.4" r="4.0" fill="#40d040" fill-opacity="0.05" stroke="#40d040" stroke-width="1.3" opacity="0.65"/>
<circle cx="73.2" cy="334.7" r="3.6" fill="#40d040" fill-opacity="0.05" stroke="#40d040" stroke-width="1.4" opacity="0.76"/>
<circle cx="90.4" cy="363.0" r="3.4" fill="#40d040" fill-opacity="0.05" stroke="#40d040" stroke-width="1.3" opacity="0.63"/>
<circle cx="94.6" cy="350.3" r="4.0" fill="#40d040" fill-opacity="0.05" stroke="#40d040" stroke-width="1.2" opacity="0.50"/>
<circle cx="78.0" cy="404.1" r="3.6" fill="#40d040" fill-opacity="0.05" stroke="#40d040" stroke-width="1.6" opacity="0.99"/>
<circle cx="56.5" cy="353.3" r="3.1" fill="#40d040" fill-opacity="0.05" stroke="#40d040" stroke-width="1.6" opacity="0.96"/>
<circle cx="32.4" cy="356.4" r="3.0" fill="#40d040" fill-opacity="0.05" stroke="#40d040" stroke-width="1.2" opacity="0.50"/>
<circle cx="41.4" cy="398.4" r="3.3" fill="#40d040" fill-opacity="0.05" stroke="#40d040" stroke-width="1.4" opacity="0.72"/>
<circle cx="81.2" cy="340.8" r="3.4" fill="#40d040" fill-opacity="0.05" stroke="#40d040" stroke-width="1.3" opacity="0.53"/>
<circle cx="76.7" cy="324.5" r="3.7" fill="#40d040" fill-opacity="0.05" stroke="#40d040" stroke-width="1.3" opacity="0.62"/>
<circle cx="25.4" cy="384.3" r="3.1" fill="#40d040" fill-opacity="0.05" stroke="#40d040" stroke-width="1.4" opacity="0.78"/>
<circle cx="84.5" cy="395.6" r="3.2" fill="#40d040" fill-opacity="0.05" stroke="#40d040" stroke-width="1.5" opacity="0.93"/>
<circle cx="56.1" cy="412.9" r="3.8" fill="#40d040" fill-opacity="0.05" stroke="#40d040" stroke-width="1.5" opacity="0.93"/>
<circle cx="105.6" cy="379.0" r="3.1" fill="#40d040" fill-opacity="0.05" stroke="#40d040" stroke-width="1.6" opacity="0.93"/>
<circle cx="60.0" cy="320.3" r="3.5" fill="#40d040" fill-opacity="0.05" stroke="#40d040" stroke-width="1.6" opacity="0.93"/>
<circle cx="93.7" cy="389.1" r="3.1" fill="#40d040" fill-opacity="0.05" stroke="#40d040" stroke-width="1.4" opacity="0.75"/>
<circle cx="25.7" cy="329.6" r="3.4" fill="#40d040" fill-opacity="0.05" stroke="#40d040" stroke-width="1.6" opacity="0.96"/>
<circle cx="24.1" cy="409.9" r="3.1" fill="#40d040" fill-opacity="0.05" stroke="#40d040" stroke-width="1.5" opacity="0.92"/>
<circle cx="45.6" cy="360.2" r="3.4" fill="#40d040" fill-opacity="0.05" stroke="#40d040" stroke-width="1.4" opacity="0.75"/>
<circle cx="98.4" cy="322.1" r="3.7" fill="#40d040" fill-opacity="0.05" stroke="#40d040" stroke-width="1.5" opacity="0.81"/>
<circle cx="54.9" cy="368.0" r="3.8" fill="#40d040" fill-opacity="0.05" stroke="#40d040" stroke-width="1.4" opacity="0.71"/>
<circle cx="84.2" cy="352.4" r="3.7" fill="#40d040" fill-opacity="0.05" stroke="#40d040" stroke-width="1.4" opacity="0.76"/>
<circle cx="24.6" cy="319.6" r="3.3" fill="#40d040" fill-opacity="0.05" stroke="#40d040" stroke-width="1.5" opacity="0.89"/>
<circle cx="63.8" cy="330.0" r="3.7" fill="#40d040" fill-opacity="0.05" stroke="#40d040" stroke-width="1.2" opacity="0.51"/>
<circle cx="101.5" cy="409.0" r="3.7" fill="#40d040" fill-opacity="0.05" stroke="#40d040" stroke-width="1.3" opacity="0.59"/>
<circle cx="105.1" cy="389.0" r="3.5" fill="#40d040" fill-opacity="0.05" stroke="#40d040" stroke-width="1.5" opacity="0.84"/>
<circle cx="49.0" cy="404.1" r="3.0" fill="#40d040" fill-opacity="0.05" stroke="#40d040" stroke-width="1.3" opacity="0.56"/>
<circle cx="79.1" cy="414.6" r="3.9" fill="#40d040" fill-opacity="0.05" stroke="#40d040" stroke-width="1.5" opacity="0.80"/>
<circle cx="41.1" cy="341.0" r="4.0" fill="#40d040" fill-opacity="0.05" stroke="#40d040" stroke-width="1.6" opacity="1.00"/>
<circle cx="97.6" cy="340.4" r="4.2" fill="#40d040" fill-opacity="0.05" stroke="#40d040" stroke-width="1.4" opacity="0.65"/>
<circle cx="97.1" cy="380.2" r="3.8" fill="#40d040" fill-opacity="0.05" stroke="#40d040" stroke-width="1.4" opacity="0.65"/>
</g></g>
</g>
<g clip-path="url(#cp12)">
<rect x="116.9" y="322.5" width="90" height="90" fill="#000"/>
<g filter="url(#bl8)">
<circle cx="128.0" cy="378.1" r="2.3" fill="#cc3ad8" opacity="0.66"/>
<circle cx="172.6" cy="373.4" r="2.3" fill="#cc3ad8" opacity="0.73"/>
<circle cx="149.7" cy="341.1" r="2.3" fill="#cc3ad8" opacity="0.78"/>
<circle cx="155.9" cy="367.2" r="2.4" fill="#cc3ad8" opacity="0.79"/>
<circle cx="173.8" cy="383.3" r="2.4" fill="#cc3ad8" opacity="0.83"/>
<circle cx="162.3" cy="390.7" r="2.5" fill="#cc3ad8" opacity="0.53"/>
<circle cx="166.9" cy="361.4" r="2.6" fill="#cc3ad8" opacity="0.80"/>
<circle cx="158.6" cy="409.7" r="2.5" fill="#cc3ad8" opacity="0.82"/>
<circle cx="151.0" cy="390.2" r="2.6" fill="#cc3ad8" opacity="0.74"/>
<circle cx="120.8" cy="401.2" r="2.8" fill="#cc3ad8" opacity="0.82"/>
<circle cx="127.5" cy="365.2" r="2.4" fill="#cc3ad8" opacity="0.52"/>
<circle cx="125.2" cy="333.8" r="2.5" fill="#cc3ad8" opacity="0.67"/>
<circle cx="190.5" cy="398.5" r="2.5" fill="#cc3ad8" opacity="0.57"/>
<circle cx="114.6" cy="345.8" r="2.4" fill="#cc3ad8" opacity="0.96"/>
<circle cx="180.9" cy="410.9" r="2.6" fill="#cc3ad8" opacity="0.59"/>
<circle cx="156.8" cy="376.8" r="2.5" fill="#cc3ad8" opacity="0.63"/>
<circle cx="127.0" cy="320.4" r="2.6" fill="#cc3ad8" opacity="0.96"/>
<circle cx="123.9" cy="391.0" r="2.6" fill="#cc3ad8" opacity="0.48"/>
<circle cx="130.7" cy="412.6" r="2.4" fill="#cc3ad8" opacity="0.63"/>
<circle cx="158.8" cy="353.6" r="2.8" fill="#cc3ad8" opacity="0.55"/>
<circle cx="179.7" cy="328.0" r="2.3" fill="#cc3ad8" opacity="0.45"/>
<circle cx="194.4" cy="356.7" r="2.5" fill="#cc3ad8" opacity="0.90"/>
<circle cx="140.8" cy="327.6" r="2.8" fill="#cc3ad8" opacity="0.59"/>
<circle cx="137.2" cy="375.2" r="2.3" fill="#cc3ad8" opacity="0.45"/>
<circle cx="148.7" cy="401.1" r="2.8" fill="#cc3ad8" opacity="0.62"/>
<circle cx="192.3" cy="368.0" r="2.6" fill="#cc3ad8" opacity="0.66"/>
<circle cx="115.2" cy="367.3" r="2.4" fill="#cc3ad8" opacity="0.46"/>
<circle cx="146.9" cy="378.5" r="2.6" fill="#cc3ad8" opacity="0.80"/>
<circle cx="137.0" cy="389.4" r="2.8" fill="#cc3ad8" opacity="0.98"/>
<circle cx="163.4" cy="334.7" r="2.6" fill="#cc3ad8" opacity="0.88"/>
<circle cx="180.6" cy="363.0" r="2.5" fill="#cc3ad8" opacity="0.51"/>
<circle cx="184.8" cy="350.3" r="2.8" fill="#cc3ad8" opacity="0.63"/>
<circle cx="168.2" cy="404.1" r="2.6" fill="#cc3ad8" opacity="0.65"/>
<circle cx="146.7" cy="353.3" r="2.3" fill="#cc3ad8" opacity="0.92"/>
<circle cx="122.6" cy="356.4" r="2.2" fill="#cc3ad8" opacity="0.44"/>
<circle cx="131.6" cy="398.4" r="2.4" fill="#cc3ad8" opacity="0.91"/>
<circle cx="171.4" cy="340.8" r="2.5" fill="#cc3ad8" opacity="0.74"/>
<circle cx="166.9" cy="324.5" r="2.7" fill="#cc3ad8" opacity="0.65"/>
<circle cx="115.6" cy="384.3" r="2.3" fill="#cc3ad8" opacity="0.92"/>
<circle cx="174.7" cy="395.6" r="2.4" fill="#cc3ad8" opacity="0.73"/>
<circle cx="146.3" cy="412.9" r="2.7" fill="#cc3ad8" opacity="0.89"/>
<circle cx="195.8" cy="379.0" r="2.3" fill="#cc3ad8" opacity="0.64"/>
<circle cx="150.2" cy="320.3" r="2.5" fill="#cc3ad8" opacity="0.98"/>
<circle cx="183.9" cy="389.1" r="2.3" fill="#cc3ad8" opacity="0.72"/>
<circle cx="115.9" cy="329.6" r="2.5" fill="#cc3ad8" opacity="0.51"/>
<circle cx="114.3" cy="409.9" r="2.3" fill="#cc3ad8" opacity="0.83"/>
<circle cx="135.8" cy="360.2" r="2.5" fill="#cc3ad8" opacity="0.59"/>
<circle cx="188.6" cy="322.1" r="2.7" fill="#cc3ad8" opacity="0.93"/>
<circle cx="145.1" cy="368.0" r="2.7" fill="#cc3ad8" opacity="0.67"/>
<circle cx="174.4" cy="352.4" r="2.7" fill="#cc3ad8" opacity="0.71"/>
<circle cx="114.8" cy="319.6" r="2.4" fill="#cc3ad8" opacity="0.59"/>
<circle cx="154.0" cy="330.0" r="2.7" fill="#cc3ad8" opacity="0.94"/>
<circle cx="191.7" cy="409.0" r="2.7" fill="#cc3ad8" opacity="0.58"/>
<circle cx="195.3" cy="389.0" r="2.6" fill="#cc3ad8" opacity="0.64"/>
<circle cx="139.2" cy="404.1" r="2.2" fill="#cc3ad8" opacity="0.45"/>
<circle cx="169.3" cy="414.6" r="2.8" fill="#cc3ad8" opacity="0.61"/>
<circle cx="131.3" cy="341.0" r="2.9" fill="#cc3ad8" opacity="0.93"/>
<circle cx="187.8" cy="340.4" r="3.0" fill="#cc3ad8" opacity="1.00"/>
<circle cx="187.3" cy="380.2" r="2.7" fill="#cc3ad8" opacity="0.93"/>
</g>
</g>
<g clip-path="url(#cp22)">
<rect x="207.0" y="322.5" width="90" height="90" fill="#000"/>
<g clip-path="url(#tc22)">
<rect x="207.0" y="322.5" width="90" height="90" filter="url(#nuc2)"/>
<g filter="url(#bl5)">
<circle cx="218.1" cy="378.1" r="3.2" fill="none" stroke="#3cc83c" stroke-width="1.5" opacity="0.27"/>
<circle cx="218.1" cy="378.1" r="2.3" fill="#d03ee0" opacity="0.66"/>
<circle cx="262.7" cy="373.4" r="3.0" fill="none" stroke="#3cc83c" stroke-width="1.5" opacity="0.28"/>
<circle cx="262.7" cy="373.4" r="2.3" fill="#d03ee0" opacity="0.73"/>
<circle cx="239.8" cy="341.1" r="3.1" fill="none" stroke="#3cc83c" stroke-width="1.6" opacity="0.33"/>
<circle cx="239.8" cy="341.1" r="2.3" fill="#d03ee0" opacity="0.78"/>
<circle cx="246.0" cy="367.2" r="3.2" fill="none" stroke="#3cc83c" stroke-width="1.4" opacity="0.10"/>
<circle cx="246.0" cy="367.2" r="2.4" fill="#d03ee0" opacity="0.79"/>
<circle cx="263.9" cy="383.3" r="3.2" fill="none" stroke="#3cc83c" stroke-width="1.4" opacity="0.14"/>
<circle cx="263.9" cy="383.3" r="2.4" fill="#d03ee0" opacity="0.83"/>
<circle cx="252.4" cy="390.7" r="3.4" fill="none" stroke="#3cc83c" stroke-width="1.7" opacity="0.56"/>
<circle cx="252.4" cy="390.7" r="2.5" fill="#d03ee0" opacity="0.53"/>
<circle cx="257.0" cy="361.4" r="3.7" fill="none" stroke="#3cc83c" stroke-width="1.6" opacity="0.46"/>
<circle cx="257.0" cy="361.4" r="2.6" fill="#d03ee0" opacity="0.80"/>
<circle cx="248.7" cy="409.7" r="3.4" fill="none" stroke="#3cc83c" stroke-width="1.6" opacity="0.51"/>
<circle cx="248.7" cy="409.7" r="2.5" fill="#d03ee0" opacity="0.82"/>
<circle cx="241.1" cy="390.2" r="3.6" fill="none" stroke="#3cc83c" stroke-width="1.5" opacity="0.28"/>
<circle cx="241.1" cy="390.2" r="2.6" fill="#d03ee0" opacity="0.74"/>
<circle cx="210.9" cy="401.2" r="3.9" fill="none" stroke="#3cc83c" stroke-width="1.4" opacity="0.12"/>
<circle cx="210.9" cy="401.2" r="2.8" fill="#d03ee0" opacity="0.82"/>
<circle cx="217.6" cy="365.2" r="3.2" fill="none" stroke="#3cc83c" stroke-width="1.5" opacity="0.16"/>
<circle cx="217.6" cy="365.2" r="2.4" fill="#d03ee0" opacity="0.52"/>
<circle cx="215.3" cy="333.8" r="3.4" fill="none" stroke="#3cc83c" stroke-width="1.6" opacity="0.37"/>
<circle cx="215.3" cy="333.8" r="2.5" fill="#d03ee0" opacity="0.67"/>
<circle cx="280.6" cy="398.5" r="3.5" fill="none" stroke="#3cc83c" stroke-width="1.6" opacity="0.30"/>
<circle cx="280.6" cy="398.5" r="2.5" fill="#d03ee0" opacity="0.57"/>
<circle cx="204.7" cy="345.8" r="3.2" fill="none" stroke="#3cc83c" stroke-width="1.6" opacity="0.34"/>
<circle cx="204.7" cy="345.8" r="2.4" fill="#d03ee0" opacity="0.96"/>
<circle cx="271.0" cy="410.9" r="3.6" fill="none" stroke="#3cc83c" stroke-width="1.6" opacity="0.47"/>
<circle cx="271.0" cy="410.9" r="2.6" fill="#d03ee0" opacity="0.59"/>
<circle cx="246.9" cy="376.8" r="3.5" fill="none" stroke="#3cc83c" stroke-width="1.7" opacity="0.62"/>
<circle cx="246.9" cy="376.8" r="2.5" fill="#d03ee0" opacity="0.63"/>
<circle cx="217.1" cy="320.4" r="3.6" fill="none" stroke="#3cc83c" stroke-width="1.5" opacity="0.24"/>
<circle cx="217.1" cy="320.4" r="2.6" fill="#d03ee0" opacity="0.96"/>
<circle cx="214.0" cy="391.0" r="3.6" fill="none" stroke="#3cc83c" stroke-width="1.4" opacity="0.10"/>
<circle cx="214.0" cy="391.0" r="2.6" fill="#d03ee0" opacity="0.48"/>
<circle cx="220.8" cy="412.6" r="3.2" fill="none" stroke="#3cc83c" stroke-width="1.4" opacity="0.10"/>
<circle cx="220.8" cy="412.6" r="2.4" fill="#d03ee0" opacity="0.63"/>
<circle cx="248.9" cy="353.6" r="4.0" fill="none" stroke="#3cc83c" stroke-width="1.5" opacity="0.20"/>
<circle cx="248.9" cy="353.6" r="2.8" fill="#d03ee0" opacity="0.55"/>
<circle cx="269.8" cy="328.0" r="3.1" fill="none" stroke="#3cc83c" stroke-width="1.7" opacity="0.67"/>
<circle cx="269.8" cy="328.0" r="2.3" fill="#d03ee0" opacity="0.45"/>
<circle cx="284.5" cy="356.7" r="3.4" fill="none" stroke="#3cc83c" stroke-width="1.5" opacity="0.16"/>
<circle cx="284.5" cy="356.7" r="2.5" fill="#d03ee0" opacity="0.90"/>
<circle cx="230.9" cy="327.6" r="3.9" fill="none" stroke="#3cc83c" stroke-width="1.7" opacity="0.54"/>
<circle cx="230.9" cy="327.6" r="2.8" fill="#d03ee0" opacity="0.59"/>
<circle cx="227.3" cy="375.2" r="3.2" fill="none" stroke="#3cc83c" stroke-width="1.6" opacity="0.45"/>
<circle cx="227.3" cy="375.2" r="2.3" fill="#d03ee0" opacity="0.45"/>
<circle cx="238.8" cy="401.1" r="3.9" fill="none" stroke="#3cc83c" stroke-width="1.4" opacity="0.13"/>
<circle cx="238.8" cy="401.1" r="2.8" fill="#d03ee0" opacity="0.62"/>
<circle cx="282.4" cy="368.0" r="3.6" fill="none" stroke="#3cc83c" stroke-width="1.4" opacity="0.11"/>
<circle cx="282.4" cy="368.0" r="2.6" fill="#d03ee0" opacity="0.66"/>
<circle cx="205.3" cy="367.3" r="3.3" fill="none" stroke="#3cc83c" stroke-width="1.6" opacity="0.41"/>
<circle cx="205.3" cy="367.3" r="2.4" fill="#d03ee0" opacity="0.46"/>
<circle cx="237.0" cy="378.5" r="3.5" fill="none" stroke="#3cc83c" stroke-width="1.4" opacity="0.13"/>
<circle cx="237.0" cy="378.5" r="2.6" fill="#d03ee0" opacity="0.80"/>
<circle cx="227.1" cy="389.4" r="4.0" fill="none" stroke="#3cc83c" stroke-width="1.4" opacity="0.15"/>
<circle cx="227.1" cy="389.4" r="2.8" fill="#d03ee0" opacity="0.98"/>
<circle cx="253.5" cy="334.7" r="3.6" fill="none" stroke="#3cc83c" stroke-width="1.5" opacity="0.26"/>
<circle cx="253.5" cy="334.7" r="2.6" fill="#d03ee0" opacity="0.88"/>
<circle cx="270.7" cy="363.0" r="3.4" fill="none" stroke="#3cc83c" stroke-width="1.4" opacity="0.14"/>
<circle cx="270.7" cy="363.0" r="2.5" fill="#d03ee0" opacity="0.51"/>
<circle cx="274.9" cy="350.3" r="4.0" fill="none" stroke="#3cc83c" stroke-width="1.3" opacity="0.09"/>
<circle cx="274.9" cy="350.3" r="2.8" fill="#d03ee0" opacity="0.63"/>
<circle cx="258.3" cy="404.1" r="3.6" fill="none" stroke="#3cc83c" stroke-width="1.7" opacity="0.67"/>
<circle cx="258.3" cy="404.1" r="2.6" fill="#d03ee0" opacity="0.65"/>
<circle cx="236.8" cy="353.3" r="3.1" fill="none" stroke="#3cc83c" stroke-width="1.7" opacity="0.58"/>
<circle cx="236.8" cy="353.3" r="2.3" fill="#d03ee0" opacity="0.92"/>
<circle cx="212.7" cy="356.4" r="3.0" fill="none" stroke="#3cc83c" stroke-width="1.3" opacity="0.09"/>
<circle cx="212.7" cy="356.4" r="2.2" fill="#d03ee0" opacity="0.44"/>
<circle cx="221.7" cy="398.4" r="3.3" fill="none" stroke="#3cc83c" stroke-width="1.5" opacity="0.21"/>
<circle cx="221.7" cy="398.4" r="2.4" fill="#d03ee0" opacity="0.91"/>
<circle cx="261.5" cy="340.8" r="3.4" fill="none" stroke="#3cc83c" stroke-width="1.4" opacity="0.10"/>
<circle cx="261.5" cy="340.8" r="2.5" fill="#d03ee0" opacity="0.74"/>
<circle cx="257.0" cy="324.5" r="3.7" fill="none" stroke="#3cc83c" stroke-width="1.4" opacity="0.14"/>
<circle cx="257.0" cy="324.5" r="2.7" fill="#d03ee0" opacity="0.65"/>
<circle cx="205.7" cy="384.3" r="3.1" fill="none" stroke="#3cc83c" stroke-width="1.5" opacity="0.27"/>
<circle cx="205.7" cy="384.3" r="2.3" fill="#d03ee0" opacity="0.92"/>
<circle cx="264.8" cy="395.6" r="3.2" fill="none" stroke="#3cc83c" stroke-width="1.6" opacity="0.51"/>
<circle cx="264.8" cy="395.6" r="2.4" fill="#d03ee0" opacity="0.73"/>
<circle cx="236.4" cy="412.9" r="3.8" fill="none" stroke="#3cc83c" stroke-width="1.6" opacity="0.51"/>
<circle cx="236.4" cy="412.9" r="2.7" fill="#d03ee0" opacity="0.89"/>
<circle cx="285.9" cy="379.0" r="3.1" fill="none" stroke="#3cc83c" stroke-width="1.7" opacity="0.53"/>
<circle cx="285.9" cy="379.0" r="2.3" fill="#d03ee0" opacity="0.64"/>
<circle cx="240.3" cy="320.3" r="3.5" fill="none" stroke="#3cc83c" stroke-width="1.7" opacity="0.52"/>
<circle cx="240.3" cy="320.3" r="2.5" fill="#d03ee0" opacity="0.98"/>
<circle cx="274.0" cy="389.1" r="3.1" fill="none" stroke="#3cc83c" stroke-width="1.5" opacity="0.24"/>
<circle cx="274.0" cy="389.1" r="2.3" fill="#d03ee0" opacity="0.72"/>
<circle cx="206.0" cy="329.6" r="3.4" fill="none" stroke="#3cc83c" stroke-width="1.7" opacity="0.59"/>
<circle cx="206.0" cy="329.6" r="2.5" fill="#d03ee0" opacity="0.51"/>
<circle cx="204.4" cy="409.9" r="3.1" fill="none" stroke="#3cc83c" stroke-width="1.6" opacity="0.49"/>
<circle cx="204.4" cy="409.9" r="2.3" fill="#d03ee0" opacity="0.83"/>
<circle cx="225.9" cy="360.2" r="3.4" fill="none" stroke="#3cc83c" stroke-width="1.5" opacity="0.24"/>
<circle cx="225.9" cy="360.2" r="2.5" fill="#d03ee0" opacity="0.59"/>
<circle cx="278.7" cy="322.1" r="3.7" fill="none" stroke="#3cc83c" stroke-width="1.6" opacity="0.31"/>
<circle cx="278.7" cy="322.1" r="2.7" fill="#d03ee0" opacity="0.93"/>
<circle cx="235.2" cy="368.0" r="3.8" fill="none" stroke="#3cc83c" stroke-width="1.5" opacity="0.20"/>
<circle cx="235.2" cy="368.0" r="2.7" fill="#d03ee0" opacity="0.67"/>
<circle cx="264.5" cy="352.4" r="3.7" fill="none" stroke="#3cc83c" stroke-width="1.5" opacity="0.25"/>
<circle cx="264.5" cy="352.4" r="2.7" fill="#d03ee0" opacity="0.71"/>
<circle cx="204.9" cy="319.6" r="3.3" fill="none" stroke="#3cc83c" stroke-width="1.6" opacity="0.44"/>
<circle cx="204.9" cy="319.6" r="2.4" fill="#d03ee0" opacity="0.59"/>
<circle cx="244.1" cy="330.0" r="3.7" fill="none" stroke="#3cc83c" stroke-width="1.3" opacity="0.10"/>
<circle cx="244.1" cy="330.0" r="2.7" fill="#d03ee0" opacity="0.94"/>
<circle cx="281.8" cy="409.0" r="3.7" fill="none" stroke="#3cc83c" stroke-width="1.4" opacity="0.12"/>
<circle cx="281.8" cy="409.0" r="2.7" fill="#d03ee0" opacity="0.58"/>
<circle cx="285.4" cy="389.0" r="3.5" fill="none" stroke="#3cc83c" stroke-width="1.6" opacity="0.35"/>
<circle cx="285.4" cy="389.0" r="2.6" fill="#d03ee0" opacity="0.64"/>
<circle cx="229.3" cy="404.1" r="3.0" fill="none" stroke="#3cc83c" stroke-width="1.4" opacity="0.11"/>
<circle cx="229.3" cy="404.1" r="2.2" fill="#d03ee0" opacity="0.45"/>
<circle cx="259.4" cy="414.6" r="3.9" fill="none" stroke="#3cc83c" stroke-width="1.6" opacity="0.30"/>
<circle cx="259.4" cy="414.6" r="2.8" fill="#d03ee0" opacity="0.61"/>
<circle cx="221.4" cy="341.0" r="4.0" fill="none" stroke="#3cc83c" stroke-width="1.7" opacity="0.68"/>
<circle cx="221.4" cy="341.0" r="2.9" fill="#d03ee0" opacity="0.93"/>
<circle cx="277.9" cy="340.4" r="4.2" fill="none" stroke="#3cc83c" stroke-width="1.4" opacity="0.15"/>
<circle cx="277.9" cy="340.4" r="3.0" fill="#d03ee0" opacity="1.00"/>
<circle cx="277.4" cy="380.2" r="3.8" fill="none" stroke="#3cc83c" stroke-width="1.4" opacity="0.15"/>
<circle cx="277.4" cy="380.2" r="2.7" fill="#d03ee0" opacity="0.93"/>
</g></g>
</g>
<rect x="99.8" y="221.9" width="12.6" height="2.4" fill="#fff"/>
<rect x="189.7" y="221.9" width="12.6" height="2.4" fill="#fff"/>
<rect x="279.2" y="221.9" width="12.6" height="2.4" fill="#fff"/>
<text x="30.90" y="225.10" font-size="10.2" text-anchor="start" fill="#fff" >m</text>
<text x="49.40" y="225.10" font-size="10.2" text-anchor="start" fill="#fff" >c</text>
<line x1="40.60" y1="220.70" x2="46.40" y2="220.70" stroke="#fff" stroke-width="1.0" />
<polygon points="45.60,219.20 48.20,220.70 45.60,222.20" fill="#fff" stroke="none" stroke-width="1" />
<line x1="40.60" y1="223.90" x2="46.40" y2="223.90" stroke="#fff" stroke-width="1.0" />
<polygon points="45.60,222.40 48.20,223.90 45.60,225.40" fill="#fff" stroke="none" stroke-width="1" />
<polyline points="42.40,222.50 40.40,223.90 42.40,225.30" fill="none" stroke="#fff" stroke-width="0.8" />
<text x="294.00" y="219.00" font-size="9.8" text-anchor="end" fill="#fff" >25μm</text>
<rect x="99.8" y="312.9" width="12.6" height="2.4" fill="#fff"/>
<rect x="189.7" y="312.9" width="12.6" height="2.4" fill="#fff"/>
<rect x="279.2" y="312.9" width="12.6" height="2.4" fill="#fff"/>
<text x="30.90" y="316.60" font-size="10.2" text-anchor="start" fill="#fff" >m</text>
<text x="49.40" y="316.60" font-size="10.2" text-anchor="start" fill="#fff" >c</text>
<line x1="40.60" y1="312.20" x2="46.40" y2="312.20" stroke="#fff" stroke-width="1.0" />
<polygon points="45.60,310.70 48.20,312.20 45.60,313.70" fill="#fff" stroke="none" stroke-width="1" />
<line x1="40.60" y1="315.40" x2="46.40" y2="315.40" stroke="#fff" stroke-width="1.0" />
<polygon points="45.60,313.90 48.20,315.40 45.60,316.90" fill="#fff" stroke="none" stroke-width="1" />
<polyline points="42.40,314.00 40.40,315.40 42.40,316.80" fill="none" stroke="#fff" stroke-width="0.8" />
<text x="294.00" y="310.00" font-size="9.8" text-anchor="end" fill="#fff" >25μm</text>
<rect x="99.8" y="404.6" width="12.6" height="2.4" fill="#fff"/>
<rect x="189.7" y="404.6" width="12.6" height="2.4" fill="#fff"/>
<rect x="279.2" y="404.6" width="12.6" height="2.4" fill="#fff"/>
<text x="30.90" y="408.20" font-size="10.2" text-anchor="start" fill="#fff" >m</text>
<text x="49.40" y="408.20" font-size="10.2" text-anchor="start" fill="#fff" >c</text>
<line x1="40.60" y1="403.80" x2="46.40" y2="403.80" stroke="#fff" stroke-width="1.0" />
<polygon points="45.60,402.30 48.20,403.80 45.60,405.30" fill="#fff" stroke="none" stroke-width="1" />
<line x1="40.60" y1="407.00" x2="46.40" y2="407.00" stroke="#fff" stroke-width="1.0" />
<polygon points="45.60,405.50 48.20,407.00 45.60,408.50" fill="#fff" stroke="none" stroke-width="1" />
<polyline points="42.40,405.60 40.40,407.00 42.40,408.40" fill="none" stroke="#fff" stroke-width="0.8" />
<text x="294.00" y="401.70" font-size="9.8" text-anchor="end" fill="#fff" >25μm</text>
<rect x="252" y="150" width="11.7" height="11.6" fill="none" stroke="#e88080" stroke-width="0.9"/>
<rect x="217.4" y="179.2" width="11.7" height="11.7" fill="none" stroke="#c82020" stroke-width="0.9"/>
<rect x="245.4" y="240.2" width="11.4" height="12.1" fill="none" stroke="#e88080" stroke-width="0.9"/>
<rect x="231.1" y="274.1" width="11.4" height="11.8" fill="none" stroke="#8ab8e0" stroke-width="0.9"/>
<rect x="255.4" y="303" width="12" height="11.7" fill="none" stroke="#e8b830" stroke-width="0.9"/>
<rect x="215.5" y="335.2" width="11.7" height="11.7" fill="none" stroke="#8ab8e0" stroke-width="0.9"/>
<rect x="272" y="334.2" width="11.7" height="12.4" fill="none" stroke="#e8b830" stroke-width="0.9"/>
<rect x="271.3" y="374" width="12.1" height="12.3" fill="none" stroke="#e88080" stroke-width="0.9"/>
<text x="71.30" y="135.20" font-size="9.8" text-anchor="middle" fill="#4cc44c" >DDX4</text>
<text x="161.80" y="135.20" font-size="9.8" text-anchor="middle" fill="#c83cd0" >C/EBPβ</text>
<text x="251.9" y="135.2" font-size="9.8" text-anchor="middle"><tspan fill="#4cc44c">Me</tspan><tspan fill="#c83cd0">rge</tspan><tspan fill="#4cc44c">+</tspan><tspan fill="#4aa8e0">Nuc</tspan></text>
<text x="1.00" y="132.30" font-size="12" text-anchor="start" fill="#111" >C</text>
<text transform="translate(23.6 184.0) rotate(-90)" font-size="9.8" text-anchor="middle" fill="#222">E16.5</text>
<text transform="translate(23.6 275.5) rotate(-90)" font-size="9.8" text-anchor="middle" fill="#222">PD0</text>
<text transform="translate(23.6 367.1) rotate(-90)" font-size="9.8" text-anchor="middle" fill="#222">PD3</text>
<clipPath id="ins0"><rect x="297.6" y="139.1" width="29.5" height="28.4"/></clipPath>
<g clip-path="url(#ins0)"><rect x="297.6" y="139.1" width="29.5" height="28.4" fill="#0e2236"/>
<rect x="297.6" y="139.1" width="29.5" height="28.4" filter="url(#nuc0)" opacity="0.7"/>
<g filter="url(#bl8)">
<circle cx="308.35" cy="149.29999999999998" r="7" fill="#2a4a66" stroke="#3a9a4a" stroke-width="2" opacity="0.85"/>
<circle cx="317.35" cy="158.29999999999998" r="7.5" fill="#2a4a66" stroke="#3aa04a" stroke-width="2.2" opacity="0.85"/>
<circle cx="319.35" cy="157.29999999999998" r="1.6" fill="#b050d0" opacity="0.8"/>
</g>
</g>
<rect x="298.20000000000005" y="139.7" width="28.3" height="27.2" fill="none" stroke="#f08888" stroke-width="1.3"/>
<clipPath id="ins1"><rect x="297.6" y="168.8" width="29.5" height="29.6"/></clipPath>
<g clip-path="url(#ins1)"><rect x="297.6" y="168.8" width="29.5" height="29.6" fill="#0e2236"/>
<rect x="297.6" y="168.8" width="29.5" height="29.6" filter="url(#nuc1)" opacity="0.7"/>
<g filter="url(#bl8)">
<circle cx="308.35" cy="178.60000000000002" r="7" fill="#2e5a70" stroke="#40a84a" stroke-width="2.2" opacity="0.85"/>
<circle cx="316.35" cy="188.60000000000002" r="7.5" fill="#2a4a66" stroke="#40a84a" stroke-width="2.4" opacity="0.85"/>
<circle cx="309.35" cy="175.60000000000002" r="2" fill="#c050d0" opacity="0.8"/>
<circle cx="316.35" cy="190.60000000000002" r="2.5" fill="#9a40c0" opacity="0.6"/>
</g>
</g>
<rect x="298.20000000000005" y="169.4" width="28.3" height="28.400000000000002" fill="none" stroke="#c81e1e" stroke-width="1.3"/>
<clipPath id="ins2"><rect x="297.6" y="230.8" width="29.5" height="28.8"/></clipPath>
<g clip-path="url(#ins2)"><rect x="297.6" y="230.8" width="29.5" height="28.8" fill="#0e2236"/>
<rect x="297.6" y="230.8" width="29.5" height="28.8" filter="url(#nuc2)" opacity="0.7"/>
<g filter="url(#bl8)">
<circle cx="308.35" cy="239.20000000000002" r="7.5" fill="#7a3a9a" stroke="#3a8a4a" stroke-width="1.5" opacity="0.75"/>
<circle cx="317.35" cy="249.20000000000002" r="7.5" fill="#4a3a7a" stroke="#b040c0" stroke-width="1.4" opacity="0.75"/>
</g>
</g>
<rect x="298.20000000000005" y="231.4" width="28.3" height="27.6" fill="none" stroke="#f08888" stroke-width="1.3"/>
<clipPath id="ins3"><rect x="297.6" y="260.7" width="29.5" height="29.2"/></clipPath>
<g clip-path="url(#ins3)"><rect x="297.6" y="260.7" width="29.5" height="29.2" fill="#0e2236"/>
<rect x="297.6" y="260.7" width="29.5" height="29.2" filter="url(#nuc0)" opacity="0.7"/>
<g filter="url(#bl8)">
<circle cx="312.35" cy="276.3" r="12" fill="#3a7a5a" opacity="0.6"/>
<circle cx="312.35" cy="276.3" r="6.5" fill="#c845d8" opacity="0.95"/>
</g>
</g>
<rect x="298.20000000000005" y="261.3" width="28.3" height="28.0" fill="none" stroke="#f0c040" stroke-width="1.3"/>
<clipPath id="ins4"><rect x="297.6" y="291.0" width="29.5" height="28.1"/></clipPath>
<g clip-path="url(#ins4)"><rect x="297.6" y="291.0" width="29.5" height="28.1" fill="#0e2236"/>
<rect x="297.6" y="291.0" width="29.5" height="28.1" filter="url(#nuc1)" opacity="0.7"/>
<g filter="url(#bl8)">
<ellipse cx="312.35" cy="305.05" rx="10" ry="11" fill="#b83cd0" opacity="0.9"/>
<ellipse cx="311.35" cy="310.05" rx="6" ry="4" fill="#6a3a7a" opacity="0.6"/>
</g>
</g>
<rect x="298.20000000000005" y="291.6" width="28.3" height="26.900000000000002" fill="none" stroke="#7ab3e0" stroke-width="1.3"/>
<clipPath id="ins5"><rect x="297.6" y="322.2" width="29.5" height="27.8"/></clipPath>
<g clip-path="url(#ins5)"><rect x="297.6" y="322.2" width="29.5" height="27.8" fill="#0e2236"/>
<rect x="297.6" y="322.2" width="29.5" height="27.8" filter="url(#nuc2)" opacity="0.7"/>
<g filter="url(#bl8)">
<circle cx="311.35" cy="337.59999999999997" r="7.5" fill="#b040c8" opacity="0.9"/>
<circle cx="312.35" cy="328.09999999999997" r="3.5" fill="#7a3a9a" opacity="0.6"/>
</g>
</g>
<rect x="298.20000000000005" y="322.8" width="28.3" height="26.6" fill="none" stroke="#f08888" stroke-width="1.3"/>
<clipPath id="ins6"><rect x="297.6" y="352.2" width="29.5" height="28.4"/></clipPath>
<g clip-path="url(#ins6)"><rect x="297.6" y="352.2" width="29.5" height="28.4" fill="#0e2236"/>
<rect x="297.6" y="352.2" width="29.5" height="28.4" filter="url(#nuc0)" opacity="0.7"/>
<g filter="url(#bl8)">
<circle cx="312.35" cy="366.4" r="8.5" fill="#c048d8" opacity="0.95"/>
<circle cx="300.35" cy="374.4" r="4" fill="#9a3ab0" opacity="0.7"/>
</g>
</g>
<rect x="298.20000000000005" y="352.8" width="28.3" height="27.2" fill="none" stroke="#f0c040" stroke-width="1.3"/>
<clipPath id="ins7"><rect x="297.6" y="382.8" width="29.5" height="28.6"/></clipPath>
<g clip-path="url(#ins7)"><rect x="297.6" y="382.8" width="29.5" height="28.6" fill="#0e2236"/>
<rect x="297.6" y="382.8" width="29.5" height="28.6" filter="url(#nuc1)" opacity="0.7"/>
<g filter="url(#bl8)">
<circle cx="311.35" cy="398.1" r="10" fill="none" stroke="#3cc83c" stroke-width="4" opacity="0.95"/>
<circle cx="312.35" cy="397.1" r="7" fill="#9a40c0" opacity="0.95"/>
</g>
</g>
<rect x="298.20000000000005" y="383.40000000000003" width="28.3" height="27.400000000000002" fill="none" stroke="#7ab3e0" stroke-width="1.3"/>
<line x1="305.5" y1="147" x2="302.76" y2="153.84" stroke="#f0f020" stroke-width="1.4"/><polygon points="301.5,157 300.63,152.99 304.90,154.70" fill="#f0f020"/>
<line x1="311" y1="191" x2="318.85" y2="187.79" stroke="#f0f020" stroke-width="1.4"/><polygon points="322,186.5 319.72,189.92 317.98,185.66" fill="#f0f020"/>
<line x1="310" y1="236" x2="304.35" y2="239.65" stroke="#f0f020" stroke-width="1.4"/><polygon points="301.5,241.5 303.11,237.72 305.60,241.58" fill="#f0f020"/>
<line x1="311" y1="271.5" x2="307.14" y2="278.52" stroke="#f0f020" stroke-width="1.4"/><polygon points="305.5,281.5 305.12,277.41 309.15,279.63" fill="#f0f020"/>
<line x1="320" y1="307.5" x2="305.88" y2="305.89" stroke="#f0f020" stroke-width="1.4"/><polygon points="302.5,305.5 306.14,303.60 305.62,308.17" fill="#f0f020"/>
<line x1="312" y1="332.5" x2="312.74" y2="342.11" stroke="#f0f020" stroke-width="1.4"/><polygon points="313,345.5 310.45,342.29 315.03,341.93" fill="#f0f020"/>
<line x1="310" y1="375" x2="313.61" y2="361.78" stroke="#f0f020" stroke-width="1.4"/><polygon points="314.5,358.5 315.82,362.39 311.39,361.18" fill="#f0f020"/>
<line x1="303" y1="399.5" x2="317.70" y2="395.82" stroke="#f0f020" stroke-width="1.4"/><polygon points="321,395 318.26,398.06 317.14,393.59" fill="#f0f020"/>
<rect x="28.6" y="417.8" width="7.4" height="7.2" fill="none" stroke="#f0a0a0" stroke-width="1"/>
<text x="39.60" y="424.50" font-size="9.8" text-anchor="start" fill="#222" >Nests in the cortical region</text>
<rect x="28.6" y="429.8" width="7.4" height="7.2" fill="none" stroke="#c83030" stroke-width="1"/>
<text x="39.60" y="436.50" font-size="9.8" text-anchor="start" fill="#222" >Nests in the medullary region</text>
<rect x="175.5" y="417.8" width="7.4" height="7.2" fill="none" stroke="#f0c850" stroke-width="1"/>
<text x="186.50" y="424.50" font-size="9.8" text-anchor="start" fill="#222" >Follicles in the cortical region</text>
<rect x="175.5" y="429.8" width="7.4" height="7.2" fill="none" stroke="#80b4e0" stroke-width="1"/>
<text x="186.50" y="436.50" font-size="9.8" text-anchor="start" fill="#222" >Follicles in the medullary region</text>
<rect x="359.5" y="147.2" width="71.6" height="3.5" fill="#f08080"/>
<polyline points="372.39,173.52 375.28,176.84 378.89,181.90 382.51,186.23 386.12,190.56 389.01,193.45 391.90,194.61 395.51,194.61 398.40,195.62 402.01,197.79 405.62,198.94 409.23,198.51 412.84,195.62 415.73,191.29 418.62,184.78 422.23,177.56 425.12,170.34 428.01,166.73 430.47,164.56" fill="none" stroke="#44d62c" stroke-width="2.8" stroke-linejoin="round" stroke-linecap="round"/>
<polyline points="372.39,197.79 376.00,195.62 378.89,191.29 381.78,186.23 384.67,181.90 388.28,178.28 391.17,176.84 393.34,173.95 396.23,169.62 399.84,164.56 403.45,166.73 407.06,171.06 410.68,177.56 414.29,184.06 417.90,189.12 421.51,194.18 424.40,197.79 427.29,199.23 430.47,198.51" fill="none" stroke="#b05ae8" stroke-width="2.8" stroke-linejoin="round" stroke-linecap="round"/>
<line x1="369.30" y1="156.70" x2="369.30" y2="199.90" stroke="#111" stroke-width="1.1" />
<line x1="368.80" y1="199.30" x2="431.10" y2="199.30" stroke="#111" stroke-width="1.1" />
<line x1="363.50" y1="199.30" x2="369.30" y2="199.30" stroke="#111" stroke-width="1.1" />
<text x="362.20" y="202.00" font-size="7.5" text-anchor="end" fill="#222" >0.0</text>
<line x1="363.50" y1="185.27" x2="369.30" y2="185.27" stroke="#111" stroke-width="1.1" />
<text x="362.20" y="187.97" font-size="7.5" text-anchor="end" fill="#222" >0.4</text>
<line x1="363.50" y1="171.23" x2="369.30" y2="171.23" stroke="#111" stroke-width="1.1" />
<text x="362.20" y="173.93" font-size="7.5" text-anchor="end" fill="#222" >0.8</text>
<line x1="363.50" y1="157.20" x2="369.30" y2="157.20" stroke="#111" stroke-width="1.1" />
<text x="362.20" y="159.90" font-size="7.5" text-anchor="end" fill="#222" >1.2</text>
<line x1="372.40" y1="199.30" x2="372.40" y2="205.30" stroke="#111" stroke-width="1.2" />
<text x="374.8" y="209.9" font-size="7.5" text-anchor="end" fill="#222" transform="rotate(-45 374.8 209.9)">0</text>
<line x1="384.04" y1="199.30" x2="384.04" y2="205.30" stroke="#111" stroke-width="1.2" />
<text x="386.4" y="209.9" font-size="7.5" text-anchor="end" fill="#222" transform="rotate(-45 386.4 209.9)">3</text>
<line x1="395.68" y1="199.30" x2="395.68" y2="205.30" stroke="#111" stroke-width="1.2" />
<text x="398.1" y="209.9" font-size="7.5" text-anchor="end" fill="#222" transform="rotate(-45 398.1 209.9)">6</text>
<line x1="407.32" y1="199.30" x2="407.32" y2="205.30" stroke="#111" stroke-width="1.2" />
<text x="409.7" y="209.9" font-size="7.5" text-anchor="end" fill="#222" transform="rotate(-45 409.7 209.9)">9</text>
<line x1="418.96" y1="199.30" x2="418.96" y2="205.30" stroke="#111" stroke-width="1.2" />
<text x="421.4" y="209.9" font-size="7.5" text-anchor="end" fill="#222" transform="rotate(-45 421.4 209.9)">12</text>
<line x1="430.60" y1="199.30" x2="430.60" y2="205.30" stroke="#111" stroke-width="1.2" />
<text x="433.0" y="209.9" font-size="7.5" text-anchor="end" fill="#222" transform="rotate(-45 433.0 209.9)">15</text>
<rect x="454.8" y="147.2" width="71.6" height="3.5" fill="#c0201a"/>
<polyline points="466.67,181.17 470.28,178.28 473.89,181.17 476.78,184.78 479.67,189.12 482.56,193.45 485.45,195.62 489.78,196.34 494.12,197.06 498.45,197.06 502.06,198.51 505.68,199.23 508.57,192.01 511.45,184.78 515.07,177.56 518.68,170.34 521.57,165.28 523.73,165.28 525.47,167.45" fill="none" stroke="#44d62c" stroke-width="2.8" stroke-linejoin="round" stroke-linecap="round"/>
<polyline points="466.67,199.23 469.56,193.45 473.17,189.12 477.51,184.78 481.12,180.45 484.01,174.67 486.90,168.89 489.78,164.56 492.67,166.00 495.56,168.17 499.18,171.06 502.79,173.23 507.12,175.39 510.73,178.28 514.34,181.90 517.23,187.67 519.40,191.29 523.01,195.62 525.47,199.23" fill="none" stroke="#b05ae8" stroke-width="2.8" stroke-linejoin="round" stroke-linecap="round"/>
<line x1="464.60" y1="156.70" x2="464.60" y2="199.90" stroke="#111" stroke-width="1.1" />
<line x1="464.10" y1="199.30" x2="526.40" y2="199.30" stroke="#111" stroke-width="1.1" />
<line x1="458.80" y1="199.30" x2="464.60" y2="199.30" stroke="#111" stroke-width="1.1" />
<text x="457.50" y="202.00" font-size="7.5" text-anchor="end" fill="#222" >0.0</text>
<line x1="458.80" y1="185.27" x2="464.60" y2="185.27" stroke="#111" stroke-width="1.1" />
<text x="457.50" y="187.97" font-size="7.5" text-anchor="end" fill="#222" >0.4</text>
<line x1="458.80" y1="171.23" x2="464.60" y2="171.23" stroke="#111" stroke-width="1.1" />
<text x="457.50" y="173.93" font-size="7.5" text-anchor="end" fill="#222" >0.8</text>
<line x1="458.80" y1="157.20" x2="464.60" y2="157.20" stroke="#111" stroke-width="1.1" />
<text x="457.50" y="159.90" font-size="7.5" text-anchor="end" fill="#222" >1.2</text>
<line x1="467.40" y1="199.30" x2="467.40" y2="205.30" stroke="#111" stroke-width="1.2" />
<text x="469.8" y="209.9" font-size="7.5" text-anchor="end" fill="#222" transform="rotate(-45 469.8 209.9)">0</text>
<line x1="477.08" y1="199.30" x2="477.08" y2="205.30" stroke="#111" stroke-width="1.2" />
<text x="479.5" y="209.9" font-size="7.5" text-anchor="end" fill="#222" transform="rotate(-45 479.5 209.9)">3</text>
<line x1="486.77" y1="199.30" x2="486.77" y2="205.30" stroke="#111" stroke-width="1.2" />
<text x="489.2" y="209.9" font-size="7.5" text-anchor="end" fill="#222" transform="rotate(-45 489.2 209.9)">6</text>
<line x1="496.45" y1="199.30" x2="496.45" y2="205.30" stroke="#111" stroke-width="1.2" />
<text x="498.8" y="209.9" font-size="7.5" text-anchor="end" fill="#222" transform="rotate(-45 498.8 209.9)">9</text>
<line x1="506.13" y1="199.30" x2="506.13" y2="205.30" stroke="#111" stroke-width="1.2" />
<text x="508.5" y="209.9" font-size="7.5" text-anchor="end" fill="#222" transform="rotate(-45 508.5 209.9)">12</text>
<line x1="515.82" y1="199.30" x2="515.82" y2="205.30" stroke="#111" stroke-width="1.2" />
<text x="518.2" y="209.9" font-size="7.5" text-anchor="end" fill="#222" transform="rotate(-45 518.2 209.9)">15</text>
<line x1="525.50" y1="199.30" x2="525.50" y2="205.30" stroke="#111" stroke-width="1.2" />
<text x="527.9" y="209.9" font-size="7.5" text-anchor="end" fill="#222" transform="rotate(-45 527.9 209.9)">18</text>
<rect x="359.5" y="237.9" width="71.6" height="3.5" fill="#f08080"/>
<polyline points="370.95,261.06 373.11,256.00 375.28,256.00 378.17,256.00 380.34,261.78 382.51,269.73 384.67,271.17 386.84,273.34 389.01,276.23 391.17,279.84 393.34,282.01 395.51,280.56 397.67,282.01 399.84,285.62 402.01,289.23 405.62,289.23 408.51,287.79 410.68,289.23 413.57,286.34 416.45,285.62 418.62,283.45 420.79,282.01 422.96,280.56 425.12,279.84 427.29,277.67 428.73,269.73 430.47,263.95" fill="none" stroke="#44d62c" stroke-width="2.8" stroke-linejoin="round" stroke-linecap="round"/>
<polyline points="370.95,273.05 373.84,274.06 376.00,273.34 378.17,272.18 380.34,276.23 383.23,279.84 386.12,284.18 389.01,284.90 391.17,287.06 393.34,287.50 396.23,288.51 399.12,288.51 402.01,287.79 404.18,286.34 407.06,284.18 409.23,281.29 411.40,280.56 413.57,282.01 415.73,279.84 418.62,278.40 420.79,275.94 422.96,270.45 425.12,261.78 426.57,256.00 428.73,256.00 430.47,260.34" fill="none" stroke="#b05ae8" stroke-width="2.8" stroke-linejoin="round" stroke-linecap="round"/>
<line x1="369.30" y1="247.40" x2="369.30" y2="290.60" stroke="#111" stroke-width="1.1" />
<line x1="368.80" y1="290.00" x2="431.10" y2="290.00" stroke="#111" stroke-width="1.1" />
<line x1="363.50" y1="290.00" x2="369.30" y2="290.00" stroke="#111" stroke-width="1.1" />
<text x="362.20" y="292.70" font-size="7.5" text-anchor="end" fill="#222" >0.0</text>
<line x1="363.50" y1="275.97" x2="369.30" y2="275.97" stroke="#111" stroke-width="1.1" />
<text x="362.20" y="278.67" font-size="7.5" text-anchor="end" fill="#222" >0.4</text>
<line x1="363.50" y1="261.93" x2="369.30" y2="261.93" stroke="#111" stroke-width="1.1" />
<text x="362.20" y="264.63" font-size="7.5" text-anchor="end" fill="#222" >0.8</text>
<line x1="363.50" y1="247.90" x2="369.30" y2="247.90" stroke="#111" stroke-width="1.1" />
<text x="362.20" y="250.60" font-size="7.5" text-anchor="end" fill="#222" >1.2</text>
<line x1="371.40" y1="290.00" x2="371.40" y2="296.00" stroke="#111" stroke-width="1.2" />
<text x="373.8" y="300.6" font-size="7.5" text-anchor="end" fill="#222" transform="rotate(-45 373.8 300.6)">0</text>
<line x1="382.72" y1="290.00" x2="382.72" y2="296.00" stroke="#111" stroke-width="1.2" />
<text x="385.1" y="300.6" font-size="7.5" text-anchor="end" fill="#222" transform="rotate(-45 385.1 300.6)">5</text>
<line x1="394.04" y1="290.00" x2="394.04" y2="296.00" stroke="#111" stroke-width="1.2" />
<text x="396.4" y="300.6" font-size="7.5" text-anchor="end" fill="#222" transform="rotate(-45 396.4 300.6)">10</text>
<line x1="405.36" y1="290.00" x2="405.36" y2="296.00" stroke="#111" stroke-width="1.2" />
<text x="407.8" y="300.6" font-size="7.5" text-anchor="end" fill="#222" transform="rotate(-45 407.8 300.6)">15</text>
<line x1="416.68" y1="290.00" x2="416.68" y2="296.00" stroke="#111" stroke-width="1.2" />
<text x="419.1" y="300.6" font-size="7.5" text-anchor="end" fill="#222" transform="rotate(-45 419.1 300.6)">20</text>
<line x1="428.00" y1="290.00" x2="428.00" y2="296.00" stroke="#111" stroke-width="1.2" />
<text x="430.4" y="300.6" font-size="7.5" text-anchor="end" fill="#222" transform="rotate(-45 430.4 300.6)">25</text>
<rect x="454.8" y="237.9" width="71.6" height="3.5" fill="#f0b830"/>
<polyline points="466.67,266.12 468.84,255.28 471.00,256.73 473.17,260.34 475.34,262.51 477.51,270.45 478.95,278.40 481.12,279.84 483.28,279.12 484.73,281.29 486.90,289.23 488.34,278.40 489.78,277.67 491.23,281.29 493.40,284.90 495.56,285.62 498.45,283.45 500.62,286.34 502.79,285.62 504.95,287.06 507.12,286.34 509.29,287.06 511.45,288.51 513.62,289.23 515.79,284.90 518.68,280.56 521.57,274.78 525.47,266.12" fill="none" stroke="#44d62c" stroke-width="2.8" stroke-linejoin="round" stroke-linecap="round"/>
<polyline points="466.67,289.23 471.73,284.18 473.89,277.67 476.06,276.95 479.67,275.94 482.56,274.78 485.45,271.90 488.34,266.12 491.23,258.17 494.12,254.85 496.29,255.28 498.45,259.62 501.34,257.45 504.23,261.06 507.12,264.67 509.29,267.56 510.73,271.90 512.90,270.45 515.79,271.17 517.96,265.39 520.12,266.84 523.01,269.01 524.46,273.34 525.47,278.40" fill="none" stroke="#b05ae8" stroke-width="2.8" stroke-linejoin="round" stroke-linecap="round"/>
<line x1="464.60" y1="247.40" x2="464.60" y2="290.60" stroke="#111" stroke-width="1.1" />
<line x1="464.10" y1="290.00" x2="526.40" y2="290.00" stroke="#111" stroke-width="1.1" />
<line x1="458.80" y1="290.00" x2="464.60" y2="290.00" stroke="#111" stroke-width="1.1" />
<text x="457.50" y="292.70" font-size="7.5" text-anchor="end" fill="#222" >0.0</text>
<line x1="458.80" y1="275.97" x2="464.60" y2="275.97" stroke="#111" stroke-width="1.1" />
<text x="457.50" y="278.67" font-size="7.5" text-anchor="end" fill="#222" >0.4</text>
<line x1="458.80" y1="261.93" x2="464.60" y2="261.93" stroke="#111" stroke-width="1.1" />
<text x="457.50" y="264.63" font-size="7.5" text-anchor="end" fill="#222" >0.8</text>
<line x1="458.80" y1="247.90" x2="464.60" y2="247.90" stroke="#111" stroke-width="1.1" />
<text x="457.50" y="250.60" font-size="7.5" text-anchor="end" fill="#222" >1.2</text>
<line x1="466.70" y1="290.00" x2="466.70" y2="296.00" stroke="#111" stroke-width="1.2" />
<text x="469.1" y="300.6" font-size="7.5" text-anchor="end" fill="#222" transform="rotate(-45 469.1 300.6)">0</text>
<line x1="476.50" y1="290.00" x2="476.50" y2="296.00" stroke="#111" stroke-width="1.2" />
<text x="478.9" y="300.6" font-size="7.5" text-anchor="end" fill="#222" transform="rotate(-45 478.9 300.6)">4</text>
<line x1="486.30" y1="290.00" x2="486.30" y2="296.00" stroke="#111" stroke-width="1.2" />
<text x="488.7" y="300.6" font-size="7.5" text-anchor="end" fill="#222" transform="rotate(-45 488.7 300.6)">8</text>
<line x1="496.10" y1="290.00" x2="496.10" y2="296.00" stroke="#111" stroke-width="1.2" />
<text x="498.5" y="300.6" font-size="7.5" text-anchor="end" fill="#222" transform="rotate(-45 498.5 300.6)">12</text>
<line x1="505.90" y1="290.00" x2="505.90" y2="296.00" stroke="#111" stroke-width="1.2" />
<text x="508.3" y="300.6" font-size="7.5" text-anchor="end" fill="#222" transform="rotate(-45 508.3 300.6)">16</text>
<line x1="515.70" y1="290.00" x2="515.70" y2="296.00" stroke="#111" stroke-width="1.2" />
<text x="518.1" y="300.6" font-size="7.5" text-anchor="end" fill="#222" transform="rotate(-45 518.1 300.6)">20</text>
<line x1="525.50" y1="290.00" x2="525.50" y2="296.00" stroke="#111" stroke-width="1.2" />
<text x="527.9" y="300.6" font-size="7.5" text-anchor="end" fill="#222" transform="rotate(-45 527.9 300.6)">24</text>
<rect x="549.5" y="237.9" width="71.8" height="3.5" fill="#6ea6dc"/>
<polyline points="560.65,262.64 562.65,259.31 564.65,254.65 567.31,256.65 569.31,258.64 571.31,276.63 573.31,280.63 575.31,284.62 577.30,284.62 579.97,285.96 582.63,287.95 585.30,288.62 587.30,285.96 589.29,279.96 591.29,278.63 593.29,279.29 595.29,277.96 597.29,276.63 599.29,273.30 601.28,271.30 603.28,268.64 605.28,269.30 607.28,267.30 609.28,266.64 611.28,265.97 613.27,264.64 615.27,261.31 617.27,263.31 619.27,267.30 621.00,263.31" fill="none" stroke="#44d62c" stroke-width="2.8" stroke-linejoin="round" stroke-linecap="round"/>
<polyline points="560.65,281.29 561.98,285.29 563.98,275.30 565.98,275.96 567.98,283.29 569.98,273.96 571.97,272.63 574.91,276.63 577.97,261.97 579.97,255.31 581.97,258.64 583.96,265.31 585.96,259.98 587.96,258.64 590.63,262.64 592.62,266.64 594.62,261.31 596.62,260.64 598.62,268.64 599.95,272.63 602.62,272.63 605.28,273.30 607.28,265.97 609.28,266.64 611.94,273.96 613.27,287.29 615.27,288.62 618.60,288.62 621.00,286.62" fill="none" stroke="#b05ae8" stroke-width="2.8" stroke-linejoin="round" stroke-linecap="round"/>
<line x1="559.30" y1="247.40" x2="559.30" y2="290.60" stroke="#111" stroke-width="1.1" />
<line x1="558.80" y1="290.00" x2="621.30" y2="290.00" stroke="#111" stroke-width="1.1" />
<line x1="553.50" y1="290.00" x2="559.30" y2="290.00" stroke="#111" stroke-width="1.1" />
<text x="552.20" y="292.70" font-size="7.5" text-anchor="end" fill="#222" >0.0</text>
<line x1="553.50" y1="275.97" x2="559.30" y2="275.97" stroke="#111" stroke-width="1.1" />
<text x="552.20" y="278.67" font-size="7.5" text-anchor="end" fill="#222" >0.4</text>
<line x1="553.50" y1="261.93" x2="559.30" y2="261.93" stroke="#111" stroke-width="1.1" />
<text x="552.20" y="264.63" font-size="7.5" text-anchor="end" fill="#222" >0.8</text>
<line x1="553.50" y1="247.90" x2="559.30" y2="247.90" stroke="#111" stroke-width="1.1" />
<text x="552.20" y="250.60" font-size="7.5" text-anchor="end" fill="#222" >1.2</text>
<line x1="560.60" y1="290.00" x2="560.60" y2="296.00" stroke="#111" stroke-width="1.2" />
<text x="563.0" y="300.6" font-size="7.5" text-anchor="end" fill="#222" transform="rotate(-45 563.0 300.6)">0</text>
<line x1="569.45" y1="290.00" x2="569.45" y2="296.00" stroke="#111" stroke-width="1.2" />
<text x="571.9" y="300.6" font-size="7.5" text-anchor="end" fill="#222" transform="rotate(-45 571.9 300.6)">5</text>
<line x1="578.30" y1="290.00" x2="578.30" y2="296.00" stroke="#111" stroke-width="1.2" />
<text x="580.7" y="300.6" font-size="7.5" text-anchor="end" fill="#222" transform="rotate(-45 580.7 300.6)">10</text>
<line x1="587.15" y1="290.00" x2="587.15" y2="296.00" stroke="#111" stroke-width="1.2" />
<text x="589.6" y="300.6" font-size="7.5" text-anchor="end" fill="#222" transform="rotate(-45 589.6 300.6)">15</text>
<line x1="596.00" y1="290.00" x2="596.00" y2="296.00" stroke="#111" stroke-width="1.2" />
<text x="598.4" y="300.6" font-size="7.5" text-anchor="end" fill="#222" transform="rotate(-45 598.4 300.6)">20</text>
<line x1="604.85" y1="290.00" x2="604.85" y2="296.00" stroke="#111" stroke-width="1.2" />
<text x="607.2" y="300.6" font-size="7.5" text-anchor="end" fill="#222" transform="rotate(-45 607.2 300.6)">25</text>
<line x1="613.70" y1="290.00" x2="613.70" y2="296.00" stroke="#111" stroke-width="1.2" />
<text x="616.1" y="300.6" font-size="7.5" text-anchor="end" fill="#222" transform="rotate(-45 616.1 300.6)">30</text>
<rect x="359.5" y="330.2" width="71.6" height="3.5" fill="#f08080"/>
<polyline points="370.95,351.78 373.11,348.89 376.00,346.73 378.89,348.89 381.06,353.95 383.23,361.17 386.12,369.12 389.01,374.18 391.90,377.06 394.78,378.51 397.67,379.95 400.56,381.40 403.45,381.40 406.34,380.68 409.23,380.68 412.12,380.68 415.01,378.51 417.90,374.90 420.79,369.12 423.68,361.90 426.57,355.39 428.73,353.95 430.47,357.56" fill="none" stroke="#44d62c" stroke-width="2.8" stroke-linejoin="round" stroke-linecap="round"/>
<polyline points="370.95,382.12 373.84,374.90 376.73,364.78 379.62,354.67 382.51,348.89 386.12,346.73 389.01,347.45 391.90,348.89 394.78,353.23 397.67,360.45 400.56,367.67 403.45,370.56 406.34,369.84 409.23,366.23 412.12,363.34 415.01,361.17 417.90,362.62 420.79,365.51 423.68,366.23 426.57,366.95 428.73,367.67 430.18,380.68" fill="none" stroke="#b05ae8" stroke-width="2.8" stroke-linejoin="round" stroke-linecap="round"/>
<line x1="369.30" y1="339.70" x2="369.30" y2="382.90" stroke="#111" stroke-width="1.1" />
<line x1="368.80" y1="382.30" x2="431.10" y2="382.30" stroke="#111" stroke-width="1.1" />
<line x1="363.50" y1="382.30" x2="369.30" y2="382.30" stroke="#111" stroke-width="1.1" />
<text x="362.20" y="385.00" font-size="7.5" text-anchor="end" fill="#222" >0.0</text>
<line x1="363.50" y1="368.27" x2="369.30" y2="368.27" stroke="#111" stroke-width="1.1" />
<text x="362.20" y="370.97" font-size="7.5" text-anchor="end" fill="#222" >0.4</text>
<line x1="363.50" y1="354.23" x2="369.30" y2="354.23" stroke="#111" stroke-width="1.1" />
<text x="362.20" y="356.93" font-size="7.5" text-anchor="end" fill="#222" >0.8</text>
<line x1="363.50" y1="340.20" x2="369.30" y2="340.20" stroke="#111" stroke-width="1.1" />
<text x="362.20" y="342.90" font-size="7.5" text-anchor="end" fill="#222" >1.2</text>
<line x1="372.00" y1="382.30" x2="372.00" y2="388.30" stroke="#111" stroke-width="1.2" />
<text x="374.4" y="392.9" font-size="7.5" text-anchor="end" fill="#222" transform="rotate(-45 374.4 392.9)">0</text>
<line x1="386.55" y1="382.30" x2="386.55" y2="388.30" stroke="#111" stroke-width="1.2" />
<text x="388.9" y="392.9" font-size="7.5" text-anchor="end" fill="#222" transform="rotate(-45 388.9 392.9)">5</text>
<line x1="401.10" y1="382.30" x2="401.10" y2="388.30" stroke="#111" stroke-width="1.2" />
<text x="403.5" y="392.9" font-size="7.5" text-anchor="end" fill="#222" transform="rotate(-45 403.5 392.9)">10</text>
<line x1="415.65" y1="382.30" x2="415.65" y2="388.30" stroke="#111" stroke-width="1.2" />
<text x="418.0" y="392.9" font-size="7.5" text-anchor="end" fill="#222" transform="rotate(-45 418.0 392.9)">15</text>
<line x1="430.20" y1="382.30" x2="430.20" y2="388.30" stroke="#111" stroke-width="1.2" />
<text x="432.6" y="392.9" font-size="7.5" text-anchor="end" fill="#222" transform="rotate(-45 432.6 392.9)">20</text>
<rect x="454.8" y="330.2" width="71.6" height="3.5" fill="#f0b830"/>
<polyline points="465.23,346.73 468.11,348.17 471.00,348.89 473.89,349.62 476.06,351.06 478.23,353.95 480.39,359.73 482.56,367.67 484.73,374.90 486.90,378.51 489.78,378.51 492.67,377.79 494.84,378.51 497.01,380.68 499.90,381.40 502.79,380.68 505.68,381.40 508.57,379.95 510.73,377.06 513.62,374.18 516.51,370.56 518.68,366.23 520.85,361.17 523.01,358.28 525.47,361.90" fill="none" stroke="#44d62c" stroke-width="2.8" stroke-linejoin="round" stroke-linecap="round"/>
<polyline points="465.23,378.51 468.11,377.79 471.73,375.62 475.34,372.01 477.51,364.78 479.67,356.12 481.84,348.17 484.01,346.73 486.17,348.89 488.34,349.62 491.23,348.89 494.12,348.89 496.29,350.34 499.18,352.51 502.06,353.95 505.68,354.67 510.01,354.67 514.34,354.96 517.23,356.84 520.12,361.90 523.01,370.56 525.47,380.68" fill="none" stroke="#b05ae8" stroke-width="2.8" stroke-linejoin="round" stroke-linecap="round"/>
<line x1="464.60" y1="339.70" x2="464.60" y2="382.90" stroke="#111" stroke-width="1.1" />
<line x1="464.10" y1="382.30" x2="526.40" y2="382.30" stroke="#111" stroke-width="1.1" />
<line x1="458.80" y1="382.30" x2="464.60" y2="382.30" stroke="#111" stroke-width="1.1" />
<text x="457.50" y="385.00" font-size="7.5" text-anchor="end" fill="#222" >0.0</text>
<line x1="458.80" y1="368.27" x2="464.60" y2="368.27" stroke="#111" stroke-width="1.1" />
<text x="457.50" y="370.97" font-size="7.5" text-anchor="end" fill="#222" >0.4</text>
<line x1="458.80" y1="354.23" x2="464.60" y2="354.23" stroke="#111" stroke-width="1.1" />
<text x="457.50" y="356.93" font-size="7.5" text-anchor="end" fill="#222" >0.8</text>
<line x1="458.80" y1="340.20" x2="464.60" y2="340.20" stroke="#111" stroke-width="1.1" />
<text x="457.50" y="342.90" font-size="7.5" text-anchor="end" fill="#222" >1.2</text>
<line x1="466.40" y1="382.30" x2="466.40" y2="388.30" stroke="#111" stroke-width="1.2" />
<text x="468.8" y="392.9" font-size="7.5" text-anchor="end" fill="#222" transform="rotate(-45 468.8 392.9)">0</text>
<line x1="477.86" y1="382.30" x2="477.86" y2="388.30" stroke="#111" stroke-width="1.2" />
<text x="480.3" y="392.9" font-size="7.5" text-anchor="end" fill="#222" transform="rotate(-45 480.3 392.9)">5</text>
<line x1="489.32" y1="382.30" x2="489.32" y2="388.30" stroke="#111" stroke-width="1.2" />
<text x="491.7" y="392.9" font-size="7.5" text-anchor="end" fill="#222" transform="rotate(-45 491.7 392.9)">10</text>
<line x1="500.78" y1="382.30" x2="500.78" y2="388.30" stroke="#111" stroke-width="1.2" />
<text x="503.2" y="392.9" font-size="7.5" text-anchor="end" fill="#222" transform="rotate(-45 503.2 392.9)">15</text>
<line x1="512.24" y1="382.30" x2="512.24" y2="388.30" stroke="#111" stroke-width="1.2" />
<text x="514.6" y="392.9" font-size="7.5" text-anchor="end" fill="#222" transform="rotate(-45 514.6 392.9)">20</text>
<line x1="523.70" y1="382.30" x2="523.70" y2="388.30" stroke="#111" stroke-width="1.2" />
<text x="526.1" y="392.9" font-size="7.5" text-anchor="end" fill="#222" transform="rotate(-45 526.1 392.9)">25</text>
<rect x="549.5" y="330.2" width="71.8" height="3.5" fill="#6ea6dc"/>
<polyline points="559.32,351.31 561.32,351.97 563.31,347.31 565.31,347.31 567.31,349.98 569.31,355.97 571.97,363.96 574.64,369.29 577.30,373.29 579.97,376.62 582.63,378.62 584.63,377.95 586.63,377.29 588.63,379.29 590.63,379.95 592.62,380.62 594.62,378.62 596.62,377.95 598.62,381.28 601.28,381.28 603.95,381.02 605.95,380.62 607.95,375.96 609.94,369.29 611.94,359.97 613.94,351.97 615.94,347.98 617.94,349.31 619.54,355.97" fill="none" stroke="#44d62c" stroke-width="2.8" stroke-linejoin="round" stroke-linecap="round"/>
<polyline points="559.32,381.28 561.32,379.95 563.98,378.62 566.65,377.95 568.64,376.62 570.64,370.63 572.64,359.97 573.97,355.31 575.97,353.97 577.97,357.30 579.97,356.64 581.97,354.64 583.96,349.98 585.96,347.98 587.96,349.98 589.96,358.64 591.96,365.96 593.29,365.30 594.62,353.31 595.96,351.31 597.95,357.30 599.95,359.97 602.62,360.63 605.28,358.64 607.28,355.97 608.61,353.97 609.94,356.64 611.28,369.29 612.61,376.62 614.61,379.95 617.27,380.62 619.27,381.28" fill="none" stroke="#b05ae8" stroke-width="2.8" stroke-linejoin="round" stroke-linecap="round"/>
<line x1="559.30" y1="339.70" x2="559.30" y2="382.90" stroke="#111" stroke-width="1.1" />
<line x1="558.80" y1="382.30" x2="621.30" y2="382.30" stroke="#111" stroke-width="1.1" />
<line x1="553.50" y1="382.30" x2="559.30" y2="382.30" stroke="#111" stroke-width="1.1" />
<text x="552.20" y="385.00" font-size="7.5" text-anchor="end" fill="#222" >0.0</text>
<line x1="553.50" y1="368.27" x2="559.30" y2="368.27" stroke="#111" stroke-width="1.1" />
<text x="552.20" y="370.97" font-size="7.5" text-anchor="end" fill="#222" >0.4</text>
<line x1="553.50" y1="354.23" x2="559.30" y2="354.23" stroke="#111" stroke-width="1.1" />
<text x="552.20" y="356.93" font-size="7.5" text-anchor="end" fill="#222" >0.8</text>
<line x1="553.50" y1="340.20" x2="559.30" y2="340.20" stroke="#111" stroke-width="1.1" />
<text x="552.20" y="342.90" font-size="7.5" text-anchor="end" fill="#222" >1.2</text>
<line x1="560.30" y1="382.30" x2="560.30" y2="388.30" stroke="#111" stroke-width="1.2" />
<text x="562.7" y="392.9" font-size="7.5" text-anchor="end" fill="#222" transform="rotate(-45 562.7 392.9)">0</text>
<line x1="570.23" y1="382.30" x2="570.23" y2="388.30" stroke="#111" stroke-width="1.2" />
<text x="572.6" y="392.9" font-size="7.5" text-anchor="end" fill="#222" transform="rotate(-45 572.6 392.9)">5</text>
<line x1="580.17" y1="382.30" x2="580.17" y2="388.30" stroke="#111" stroke-width="1.2" />
<text x="582.6" y="392.9" font-size="7.5" text-anchor="end" fill="#222" transform="rotate(-45 582.6 392.9)">10</text>
<line x1="590.10" y1="382.30" x2="590.10" y2="388.30" stroke="#111" stroke-width="1.2" />
<text x="592.5" y="392.9" font-size="7.5" text-anchor="end" fill="#222" transform="rotate(-45 592.5 392.9)">15</text>
<line x1="600.03" y1="382.30" x2="600.03" y2="388.30" stroke="#111" stroke-width="1.2" />
<text x="602.4" y="392.9" font-size="7.5" text-anchor="end" fill="#222" transform="rotate(-45 602.4 392.9)">20</text>
<line x1="609.97" y1="382.30" x2="609.97" y2="388.30" stroke="#111" stroke-width="1.2" />
<text x="612.4" y="392.9" font-size="7.5" text-anchor="end" fill="#222" transform="rotate(-45 612.4 392.9)">25</text>
<line x1="619.90" y1="382.30" x2="619.90" y2="388.30" stroke="#111" stroke-width="1.2" />
<text x="622.3" y="392.9" font-size="7.5" text-anchor="end" fill="#222" transform="rotate(-45 622.3 392.9)">30</text>
<line x1="561.30" y1="171.10" x2="573.70" y2="171.10" stroke="#b05ae8" stroke-width="2.6" />
<text x="578.00" y="174.60" font-size="9.8" text-anchor="start" fill="#222" >C/EBPβ</text>
<line x1="561.30" y1="182.90" x2="573.70" y2="182.90" stroke="#44d62c" stroke-width="2.6" />
<text x="578.00" y="186.40" font-size="9.8" text-anchor="start" fill="#222" >DDX4</text>
<text x="447.70" y="226.80" font-size="9.8" text-anchor="middle" fill="#222" >Distance (pixels)</text>
<text x="447.70" y="317.90" font-size="9.8" text-anchor="middle" fill="#222" >Distance (pixels)</text>
<text x="356.00" y="411.20" font-size="9.8" text-anchor="start" fill="#222" >Distance (pixels)</text>
<text transform="translate(343.1 364.4) rotate(-90)" font-size="9.8" text-anchor="middle" fill="#222">Intensity (au)</text>
<line x1="339.60" y1="407.70" x2="339.60" y2="397.50" stroke="#222" stroke-width="0.9" />
<polygon points="337.80,398.20 339.60,394.80 341.40,398.20" fill="#222" stroke="none" stroke-width="1" />
<line x1="339.60" y1="407.70" x2="351.50" y2="407.70" stroke="#222" stroke-width="0.9" />
<polygon points="351.00,405.90 354.40,407.70 351.00,409.50" fill="#222" stroke="none" stroke-width="1" />
<text x="1.20" y="457.70" font-size="12" text-anchor="start" fill="#111" >D</text>
<rect x="66.5" y="566.6" width="16.7" height="22.0" fill="#c6c6c6"/>
<rect x="86.3" y="585.9" width="16.6" height="2.7" fill="#7aa3d6"/>
<rect x="122.6" y="560.3" width="16.7" height="28.3" fill="#c6c6c6"/>
<rect x="142.4" y="546.4" width="16.6" height="42.2" fill="#7aa3d6"/>
<rect x="178.6" y="529.8" width="16.7" height="58.8" fill="#c6c6c6"/>
<rect x="198.4" y="554.6" width="16.6" height="34.0" fill="#7aa3d6"/>
<rect x="234.9" y="534.2" width="16.7" height="54.4" fill="#c6c6c6"/>
<rect x="254.7" y="557.7" width="16.6" height="30.9" fill="#7aa3d6"/>
<rect x="291.0" y="529.5" width="16.7" height="59.1" fill="#c6c6c6"/>
<rect x="310.8" y="563.3" width="16.6" height="25.3" fill="#7aa3d6"/>
<g fill="#fff" stroke="#1a1a1a" stroke-width="0.65"><rect x="73.8" y="571.6" width="2.1" height="2.1"/><rect x="76.4" y="571.6" width="2.1" height="2.1"/><rect x="71.2" y="571.4" width="2.1" height="2.1"/><rect x="79.0" y="570.4" width="2.1" height="2.1"/><rect x="68.6" y="570.0" width="2.1" height="2.1"/><rect x="66.6" y="570.0" width="2.1" height="2.1"/><rect x="66.6" y="569.6" width="2.1" height="2.1"/><rect x="66.6" y="569.6" width="2.1" height="2.1"/><rect x="73.8" y="569.2" width="2.1" height="2.1"/><rect x="76.4" y="568.8" width="2.1" height="2.1"/><rect x="71.2" y="568.5" width="2.1" height="2.1"/><rect x="66.6" y="568.4" width="2.1" height="2.1"/><rect x="79.0" y="568.0" width="2.1" height="2.1"/><rect x="66.6" y="568.0" width="2.1" height="2.1"/><rect x="66.6" y="567.4" width="2.1" height="2.1"/><rect x="73.8" y="566.8" width="2.1" height="2.1"/><rect x="66.6" y="566.7" width="2.1" height="2.1"/><rect x="66.6" y="566.6" width="2.1" height="2.1"/><rect x="66.6" y="566.5" width="2.1" height="2.1"/><rect x="76.4" y="566.5" width="2.1" height="2.1"/><rect x="66.6" y="566.4" width="2.1" height="2.1"/><rect x="66.6" y="566.2" width="2.1" height="2.1"/><rect x="71.2" y="566.1" width="2.1" height="2.1"/><rect x="66.6" y="566.0" width="2.1" height="2.1"/><rect x="66.6" y="566.0" width="2.1" height="2.1"/><rect x="66.6" y="565.9" width="2.1" height="2.1"/><rect x="66.6" y="565.9" width="2.1" height="2.1"/><rect x="79.0" y="565.3" width="2.1" height="2.1"/><rect x="66.6" y="565.1" width="2.1" height="2.1"/><rect x="66.6" y="565.0" width="2.1" height="2.1"/><rect x="66.6" y="565.0" width="2.1" height="2.1"/><rect x="66.6" y="564.6" width="2.1" height="2.1"/><rect x="66.6" y="564.5" width="2.1" height="2.1"/><rect x="66.6" y="564.5" width="2.1" height="2.1"/><rect x="73.8" y="564.2" width="2.1" height="2.1"/><rect x="76.4" y="564.1" width="2.1" height="2.1"/><rect x="66.6" y="564.0" width="2.1" height="2.1"/><rect x="71.2" y="563.6" width="2.1" height="2.1"/><rect x="66.6" y="563.5" width="2.1" height="2.1"/><rect x="66.6" y="563.5" width="2.1" height="2.1"/><rect x="66.6" y="563.4" width="2.1" height="2.1"/><rect x="66.6" y="563.2" width="2.1" height="2.1"/><rect x="79.0" y="562.9" width="2.1" height="2.1"/><rect x="66.6" y="562.9" width="2.1" height="2.1"/><rect x="66.6" y="562.9" width="2.1" height="2.1"/><rect x="66.6" y="562.8" width="2.1" height="2.1"/><rect x="66.6" y="562.7" width="2.1" height="2.1"/><rect x="66.6" y="562.4" width="2.1" height="2.1"/><rect x="66.6" y="562.2" width="2.1" height="2.1"/><rect x="66.6" y="562.1" width="2.1" height="2.1"/><rect x="66.6" y="562.0" width="2.1" height="2.1"/><rect x="66.6" y="562.0" width="2.1" height="2.1"/><rect x="73.8" y="560.8" width="2.1" height="2.1"/><rect x="76.4" y="560.2" width="2.1" height="2.1"/><rect x="73.8" y="556.1" width="2.1" height="2.1"/><line x1="69.4" y1="566.6" x2="80.4" y2="566.6" stroke="#111" stroke-width="1.1"/><line x1="74.9" y1="565.1" x2="74.9" y2="568.0" stroke="#111" stroke-width="0.9"/><line x1="71.9" y1="565.1" x2="77.9" y2="565.1" stroke="#111" stroke-width="0.8"/><line x1="71.9" y1="568.0" x2="77.9" y2="568.0" stroke="#111" stroke-width="0.8"/><rect x="93.6" y="587.5" width="2.1" height="2.1"/><rect x="96.2" y="587.0" width="2.1" height="2.1"/><rect x="91.0" y="586.9" width="2.1" height="2.1"/><rect x="98.8" y="586.5" width="2.1" height="2.1"/><rect x="88.4" y="586.4" width="2.1" height="2.1"/><rect x="86.4" y="586.3" width="2.1" height="2.1"/><rect x="86.4" y="586.1" width="2.1" height="2.1"/><rect x="86.4" y="585.9" width="2.1" height="2.1"/><rect x="86.4" y="585.7" width="2.1" height="2.1"/><rect x="86.4" y="585.7" width="2.1" height="2.1"/><rect x="86.4" y="585.7" width="2.1" height="2.1"/><rect x="86.4" y="585.7" width="2.1" height="2.1"/><rect x="86.4" y="585.6" width="2.1" height="2.1"/><rect x="86.4" y="585.6" width="2.1" height="2.1"/><rect x="86.4" y="585.6" width="2.1" height="2.1"/><rect x="86.4" y="585.4" width="2.1" height="2.1"/><rect x="86.4" y="585.3" width="2.1" height="2.1"/><rect x="86.4" y="585.3" width="2.1" height="2.1"/><rect x="93.6" y="585.1" width="2.1" height="2.1"/><rect x="86.4" y="585.0" width="2.1" height="2.1"/><rect x="86.4" y="584.9" width="2.1" height="2.1"/><rect x="86.4" y="584.9" width="2.1" height="2.1"/><rect x="86.4" y="584.9" width="2.1" height="2.1"/><rect x="86.4" y="584.8" width="2.1" height="2.1"/><rect x="86.4" y="584.7" width="2.1" height="2.1"/><rect x="96.2" y="584.6" width="2.1" height="2.1"/><rect x="91.0" y="584.5" width="2.1" height="2.1"/><rect x="86.4" y="584.4" width="2.1" height="2.1"/><rect x="86.4" y="584.4" width="2.1" height="2.1"/><rect x="86.4" y="584.3" width="2.1" height="2.1"/><rect x="86.4" y="584.2" width="2.1" height="2.1"/><rect x="98.8" y="584.1" width="2.1" height="2.1"/><rect x="86.4" y="584.0" width="2.1" height="2.1"/><rect x="86.4" y="584.0" width="2.1" height="2.1"/><rect x="86.4" y="583.9" width="2.1" height="2.1"/><rect x="86.4" y="583.8" width="2.1" height="2.1"/><rect x="86.4" y="583.8" width="2.1" height="2.1"/><rect x="86.4" y="583.8" width="2.1" height="2.1"/><rect x="86.4" y="583.7" width="2.1" height="2.1"/><rect x="86.4" y="583.7" width="2.1" height="2.1"/><rect x="86.4" y="583.6" width="2.1" height="2.1"/><rect x="86.4" y="583.6" width="2.1" height="2.1"/><rect x="86.4" y="583.5" width="2.1" height="2.1"/><rect x="86.4" y="583.5" width="2.1" height="2.1"/><rect x="86.4" y="583.4" width="2.1" height="2.1"/><rect x="86.4" y="583.4" width="2.1" height="2.1"/><rect x="86.4" y="583.2" width="2.1" height="2.1"/><rect x="86.4" y="583.1" width="2.1" height="2.1"/><rect x="86.4" y="583.0" width="2.1" height="2.1"/><rect x="93.6" y="582.7" width="2.1" height="2.1"/><rect x="86.4" y="582.7" width="2.1" height="2.1"/><rect x="86.4" y="582.7" width="2.1" height="2.1"/><rect x="86.4" y="582.5" width="2.1" height="2.1"/><rect x="96.2" y="582.0" width="2.1" height="2.1"/><rect x="91.0" y="581.4" width="2.1" height="2.1"/><line x1="89.1" y1="585.9" x2="100.1" y2="585.9" stroke="#111" stroke-width="1.1"/><line x1="94.6" y1="585.4" x2="94.6" y2="586.4" stroke="#111" stroke-width="0.9"/><line x1="91.6" y1="585.4" x2="97.6" y2="585.4" stroke="#111" stroke-width="0.8"/><line x1="91.6" y1="586.4" x2="97.6" y2="586.4" stroke="#111" stroke-width="0.8"/><rect x="129.9" y="568.5" width="2.1" height="2.1"/><rect x="132.5" y="567.9" width="2.1" height="2.1"/><rect x="127.3" y="566.4" width="2.1" height="2.1"/><rect x="129.9" y="566.1" width="2.1" height="2.1"/><rect x="135.1" y="566.1" width="2.1" height="2.1"/><rect x="124.7" y="565.9" width="2.1" height="2.1"/><rect x="132.5" y="565.4" width="2.1" height="2.1"/><rect x="122.7" y="565.1" width="2.1" height="2.1"/><rect x="129.9" y="563.1" width="2.1" height="2.1"/><rect x="132.5" y="562.7" width="2.1" height="2.1"/><rect x="127.3" y="562.6" width="2.1" height="2.1"/><rect x="135.1" y="562.1" width="2.1" height="2.1"/><rect x="124.7" y="562.1" width="2.1" height="2.1"/><rect x="122.7" y="561.7" width="2.1" height="2.1"/><rect x="122.7" y="561.6" width="2.1" height="2.1"/><rect x="122.7" y="561.4" width="2.1" height="2.1"/><rect x="122.7" y="561.3" width="2.1" height="2.1"/><rect x="122.7" y="560.9" width="2.1" height="2.1"/><rect x="129.9" y="560.3" width="2.1" height="2.1"/><rect x="132.5" y="559.9" width="2.1" height="2.1"/><rect x="127.3" y="559.5" width="2.1" height="2.1"/><rect x="135.1" y="559.3" width="2.1" height="2.1"/><rect x="122.7" y="559.3" width="2.1" height="2.1"/><rect x="122.7" y="559.0" width="2.1" height="2.1"/><rect x="122.7" y="558.8" width="2.1" height="2.1"/><rect x="122.7" y="558.7" width="2.1" height="2.1"/><rect x="122.7" y="558.7" width="2.1" height="2.1"/><rect x="122.7" y="558.6" width="2.1" height="2.1"/><rect x="122.7" y="558.2" width="2.1" height="2.1"/><rect x="122.7" y="558.1" width="2.1" height="2.1"/><rect x="129.9" y="557.9" width="2.1" height="2.1"/><rect x="122.7" y="557.8" width="2.1" height="2.1"/><rect x="122.7" y="557.7" width="2.1" height="2.1"/><rect x="122.7" y="557.7" width="2.1" height="2.1"/><rect x="132.5" y="557.5" width="2.1" height="2.1"/><rect x="122.7" y="557.5" width="2.1" height="2.1"/><rect x="127.3" y="556.7" width="2.1" height="2.1"/><rect x="135.1" y="556.6" width="2.1" height="2.1"/><rect x="122.7" y="556.4" width="2.1" height="2.1"/><rect x="122.7" y="556.4" width="2.1" height="2.1"/><rect x="122.7" y="556.0" width="2.1" height="2.1"/><rect x="122.7" y="555.9" width="2.1" height="2.1"/><rect x="129.9" y="555.4" width="2.1" height="2.1"/><rect x="122.7" y="555.3" width="2.1" height="2.1"/><rect x="132.5" y="554.7" width="2.1" height="2.1"/><rect x="127.3" y="554.4" width="2.1" height="2.1"/><rect x="135.1" y="553.8" width="2.1" height="2.1"/><rect x="129.9" y="553.0" width="2.1" height="2.1"/><rect x="124.7" y="552.7" width="2.1" height="2.1"/><rect x="132.5" y="552.2" width="2.1" height="2.1"/><rect x="127.3" y="551.8" width="2.1" height="2.1"/><rect x="122.7" y="551.7" width="2.1" height="2.1"/><rect x="135.1" y="551.3" width="2.1" height="2.1"/><rect x="122.7" y="551.1" width="2.1" height="2.1"/><rect x="122.7" y="550.8" width="2.1" height="2.1"/><rect x="129.9" y="549.8" width="2.1" height="2.1"/><rect x="132.5" y="549.6" width="2.1" height="2.1"/><rect x="127.3" y="548.1" width="2.1" height="2.1"/><rect x="129.9" y="547.4" width="2.1" height="2.1"/><rect x="132.5" y="546.7" width="2.1" height="2.1"/><line x1="125.5" y1="560.3" x2="136.5" y2="560.3" stroke="#111" stroke-width="1.1"/><line x1="131.0" y1="558.4" x2="131.0" y2="562.2" stroke="#111" stroke-width="0.9"/><line x1="128.0" y1="558.4" x2="134.0" y2="558.4" stroke="#111" stroke-width="0.8"/><line x1="128.0" y1="562.2" x2="134.0" y2="562.2" stroke="#111" stroke-width="0.8"/><rect x="149.7" y="561.7" width="2.1" height="2.1"/><rect x="152.2" y="560.5" width="2.1" height="2.1"/><rect x="147.1" y="559.4" width="2.1" height="2.1"/><rect x="149.7" y="558.5" width="2.1" height="2.1"/><rect x="154.8" y="558.4" width="2.1" height="2.1"/><rect x="152.2" y="556.2" width="2.1" height="2.1"/><rect x="149.7" y="554.2" width="2.1" height="2.1"/><rect x="147.1" y="554.1" width="2.1" height="2.1"/><rect x="152.2" y="553.0" width="2.1" height="2.1"/><rect x="154.8" y="552.7" width="2.1" height="2.1"/><rect x="149.7" y="551.9" width="2.1" height="2.1"/><rect x="147.1" y="551.6" width="2.1" height="2.1"/><rect x="144.5" y="551.4" width="2.1" height="2.1"/><rect x="152.2" y="550.7" width="2.1" height="2.1"/><rect x="154.8" y="550.4" width="2.1" height="2.1"/><rect x="142.5" y="550.1" width="2.1" height="2.1"/><rect x="142.5" y="549.6" width="2.1" height="2.1"/><rect x="149.7" y="549.2" width="2.1" height="2.1"/><rect x="147.1" y="549.1" width="2.1" height="2.1"/><rect x="152.2" y="548.0" width="2.1" height="2.1"/><rect x="154.8" y="547.8" width="2.1" height="2.1"/><rect x="142.5" y="547.6" width="2.1" height="2.1"/><rect x="142.5" y="547.0" width="2.1" height="2.1"/><rect x="149.7" y="546.8" width="2.1" height="2.1"/><rect x="147.1" y="546.2" width="2.1" height="2.1"/><rect x="152.2" y="545.7" width="2.1" height="2.1"/><rect x="142.5" y="545.6" width="2.1" height="2.1"/><rect x="154.8" y="545.4" width="2.1" height="2.1"/><rect x="142.5" y="545.3" width="2.1" height="2.1"/><rect x="142.5" y="544.8" width="2.1" height="2.1"/><rect x="149.7" y="543.5" width="2.1" height="2.1"/><rect x="152.2" y="543.3" width="2.1" height="2.1"/><rect x="147.1" y="542.7" width="2.1" height="2.1"/><rect x="154.8" y="542.7" width="2.1" height="2.1"/><rect x="142.5" y="542.6" width="2.1" height="2.1"/><rect x="142.5" y="542.2" width="2.1" height="2.1"/><rect x="142.5" y="542.0" width="2.1" height="2.1"/><rect x="142.5" y="541.8" width="2.1" height="2.1"/><rect x="142.5" y="541.3" width="2.1" height="2.1"/><rect x="149.7" y="541.2" width="2.1" height="2.1"/><rect x="142.5" y="541.1" width="2.1" height="2.1"/><rect x="142.5" y="541.0" width="2.1" height="2.1"/><rect x="152.2" y="540.7" width="2.1" height="2.1"/><rect x="142.5" y="540.7" width="2.1" height="2.1"/><rect x="147.1" y="540.4" width="2.1" height="2.1"/><rect x="154.8" y="540.0" width="2.1" height="2.1"/><rect x="142.5" y="539.2" width="2.1" height="2.1"/><rect x="142.5" y="539.2" width="2.1" height="2.1"/><rect x="149.7" y="537.6" width="2.1" height="2.1"/><rect x="152.2" y="536.4" width="2.1" height="2.1"/><rect x="149.7" y="534.4" width="2.1" height="2.1"/><rect x="152.2" y="533.9" width="2.1" height="2.1"/><rect x="147.1" y="533.0" width="2.1" height="2.1"/><rect x="149.7" y="529.9" width="2.1" height="2.1"/><rect x="152.2" y="528.5" width="2.1" height="2.1"/><rect x="147.1" y="527.7" width="2.1" height="2.1"/><rect x="149.7" y="526.6" width="2.1" height="2.1"/><rect x="152.2" y="525.6" width="2.1" height="2.1"/><rect x="147.1" y="525.3" width="2.1" height="2.1"/><rect x="149.7" y="517.4" width="2.1" height="2.1"/><line x1="145.2" y1="546.4" x2="156.2" y2="546.4" stroke="#111" stroke-width="1.1"/><line x1="150.7" y1="543.3" x2="150.7" y2="549.4" stroke="#111" stroke-width="0.9"/><line x1="147.7" y1="543.3" x2="153.7" y2="543.3" stroke="#111" stroke-width="0.8"/><line x1="147.7" y1="549.4" x2="153.7" y2="549.4" stroke="#111" stroke-width="0.8"/><rect x="185.9" y="552.6" width="2.1" height="2.1"/><rect x="188.5" y="552.0" width="2.1" height="2.1"/><rect x="183.3" y="551.1" width="2.1" height="2.1"/><rect x="185.9" y="549.6" width="2.1" height="2.1"/><rect x="188.5" y="548.4" width="2.1" height="2.1"/><rect x="185.9" y="543.2" width="2.1" height="2.1"/><rect x="188.5" y="542.6" width="2.1" height="2.1"/><rect x="183.3" y="541.4" width="2.1" height="2.1"/><rect x="185.9" y="540.7" width="2.1" height="2.1"/><rect x="191.1" y="540.6" width="2.1" height="2.1"/><rect x="185.9" y="536.8" width="2.1" height="2.1"/><rect x="188.5" y="536.7" width="2.1" height="2.1"/><rect x="183.3" y="536.4" width="2.1" height="2.1"/><rect x="191.1" y="536.1" width="2.1" height="2.1"/><rect x="180.7" y="535.7" width="2.1" height="2.1"/><rect x="178.7" y="535.6" width="2.1" height="2.1"/><rect x="178.7" y="534.9" width="2.1" height="2.1"/><rect x="178.7" y="534.8" width="2.1" height="2.1"/><rect x="185.9" y="534.1" width="2.1" height="2.1"/><rect x="188.5" y="534.0" width="2.1" height="2.1"/><rect x="183.3" y="533.7" width="2.1" height="2.1"/><rect x="191.1" y="532.9" width="2.1" height="2.1"/><rect x="178.7" y="532.9" width="2.1" height="2.1"/><rect x="178.7" y="532.5" width="2.1" height="2.1"/><rect x="178.7" y="532.2" width="2.1" height="2.1"/><rect x="185.9" y="531.1" width="2.1" height="2.1"/><rect x="188.5" y="530.7" width="2.1" height="2.1"/><rect x="183.3" y="530.2" width="2.1" height="2.1"/><rect x="191.1" y="529.8" width="2.1" height="2.1"/><rect x="180.7" y="529.5" width="2.1" height="2.1"/><rect x="178.7" y="529.5" width="2.1" height="2.1"/><rect x="178.7" y="529.1" width="2.1" height="2.1"/><rect x="185.9" y="528.4" width="2.1" height="2.1"/><rect x="188.5" y="528.3" width="2.1" height="2.1"/><rect x="178.7" y="528.0" width="2.1" height="2.1"/><rect x="183.3" y="527.2" width="2.1" height="2.1"/><rect x="191.1" y="526.2" width="2.1" height="2.1"/><rect x="185.9" y="525.6" width="2.1" height="2.1"/><rect x="188.5" y="525.4" width="2.1" height="2.1"/><rect x="180.7" y="525.2" width="2.1" height="2.1"/><rect x="178.7" y="525.0" width="2.1" height="2.1"/><rect x="178.7" y="525.0" width="2.1" height="2.1"/><rect x="183.3" y="524.4" width="2.1" height="2.1"/><rect x="178.7" y="524.2" width="2.1" height="2.1"/><rect x="191.1" y="523.8" width="2.1" height="2.1"/><rect x="178.7" y="523.6" width="2.1" height="2.1"/><rect x="185.9" y="522.8" width="2.1" height="2.1"/><rect x="188.5" y="522.4" width="2.1" height="2.1"/><rect x="178.7" y="522.2" width="2.1" height="2.1"/><rect x="183.3" y="520.7" width="2.1" height="2.1"/><rect x="191.1" y="520.6" width="2.1" height="2.1"/><rect x="185.9" y="518.6" width="2.1" height="2.1"/><rect x="188.5" y="518.6" width="2.1" height="2.1"/><rect x="180.7" y="518.5" width="2.1" height="2.1"/><rect x="185.9" y="514.9" width="2.1" height="2.1"/><rect x="188.5" y="513.3" width="2.1" height="2.1"/><rect x="183.3" y="513.1" width="2.1" height="2.1"/><rect x="191.1" y="513.1" width="2.1" height="2.1"/><rect x="185.9" y="511.1" width="2.1" height="2.1"/><rect x="185.9" y="505.0" width="2.1" height="2.1"/><line x1="181.5" y1="529.8" x2="192.5" y2="529.8" stroke="#111" stroke-width="1.1"/><line x1="187.0" y1="526.2" x2="187.0" y2="533.4" stroke="#111" stroke-width="0.9"/><line x1="184.0" y1="526.2" x2="190.0" y2="526.2" stroke="#111" stroke-width="0.8"/><line x1="184.0" y1="533.4" x2="190.0" y2="533.4" stroke="#111" stroke-width="0.8"/><rect x="205.7" y="567.2" width="2.1" height="2.1"/><rect x="208.2" y="567.1" width="2.1" height="2.1"/><rect x="203.1" y="566.2" width="2.1" height="2.1"/><rect x="210.8" y="566.2" width="2.1" height="2.1"/><rect x="200.5" y="566.1" width="2.1" height="2.1"/><rect x="205.7" y="563.0" width="2.1" height="2.1"/><rect x="208.2" y="561.9" width="2.1" height="2.1"/><rect x="203.1" y="561.2" width="2.1" height="2.1"/><rect x="210.8" y="561.1" width="2.1" height="2.1"/><rect x="200.5" y="561.1" width="2.1" height="2.1"/><rect x="205.7" y="559.8" width="2.1" height="2.1"/><rect x="208.2" y="559.0" width="2.1" height="2.1"/><rect x="203.1" y="558.8" width="2.1" height="2.1"/><rect x="210.8" y="558.6" width="2.1" height="2.1"/><rect x="200.5" y="558.4" width="2.1" height="2.1"/><rect x="198.5" y="558.3" width="2.1" height="2.1"/><rect x="198.5" y="558.1" width="2.1" height="2.1"/><rect x="198.5" y="557.8" width="2.1" height="2.1"/><rect x="205.7" y="556.7" width="2.1" height="2.1"/><rect x="208.2" y="556.3" width="2.1" height="2.1"/><rect x="203.1" y="554.8" width="2.1" height="2.1"/><rect x="210.8" y="554.7" width="2.1" height="2.1"/><rect x="200.5" y="554.5" width="2.1" height="2.1"/><rect x="198.5" y="554.4" width="2.1" height="2.1"/><rect x="205.7" y="553.6" width="2.1" height="2.1"/><rect x="208.2" y="553.2" width="2.1" height="2.1"/><rect x="198.5" y="552.9" width="2.1" height="2.1"/><rect x="198.5" y="552.8" width="2.1" height="2.1"/><rect x="203.1" y="552.2" width="2.1" height="2.1"/><rect x="210.8" y="552.2" width="2.1" height="2.1"/><rect x="198.5" y="551.9" width="2.1" height="2.1"/><rect x="198.5" y="551.6" width="2.1" height="2.1"/><rect x="198.5" y="551.5" width="2.1" height="2.1"/><rect x="198.5" y="551.5" width="2.1" height="2.1"/><rect x="205.7" y="551.0" width="2.1" height="2.1"/><rect x="208.2" y="550.8" width="2.1" height="2.1"/><rect x="198.5" y="550.5" width="2.1" height="2.1"/><rect x="198.5" y="550.5" width="2.1" height="2.1"/><rect x="203.1" y="549.9" width="2.1" height="2.1"/><rect x="210.8" y="549.8" width="2.1" height="2.1"/><rect x="198.5" y="549.5" width="2.1" height="2.1"/><rect x="198.5" y="549.3" width="2.1" height="2.1"/><rect x="198.5" y="549.3" width="2.1" height="2.1"/><rect x="198.5" y="549.1" width="2.1" height="2.1"/><rect x="205.7" y="548.5" width="2.1" height="2.1"/><rect x="208.2" y="548.5" width="2.1" height="2.1"/><rect x="198.5" y="548.3" width="2.1" height="2.1"/><rect x="203.1" y="547.3" width="2.1" height="2.1"/><rect x="210.8" y="546.7" width="2.1" height="2.1"/><rect x="205.7" y="545.4" width="2.1" height="2.1"/><rect x="208.2" y="545.0" width="2.1" height="2.1"/><rect x="203.1" y="544.5" width="2.1" height="2.1"/><rect x="205.7" y="542.9" width="2.1" height="2.1"/><rect x="208.2" y="541.9" width="2.1" height="2.1"/><rect x="203.1" y="541.7" width="2.1" height="2.1"/><rect x="210.8" y="541.6" width="2.1" height="2.1"/><rect x="200.5" y="541.4" width="2.1" height="2.1"/><rect x="198.5" y="541.0" width="2.1" height="2.1"/><rect x="205.7" y="540.4" width="2.1" height="2.1"/><rect x="198.5" y="540.3" width="2.1" height="2.1"/><line x1="201.2" y1="554.6" x2="212.2" y2="554.6" stroke="#111" stroke-width="1.1"/><line x1="206.7" y1="552.3" x2="206.7" y2="556.9" stroke="#111" stroke-width="0.9"/><line x1="203.7" y1="552.3" x2="209.7" y2="552.3" stroke="#111" stroke-width="0.8"/><line x1="203.7" y1="556.9" x2="209.7" y2="556.9" stroke="#111" stroke-width="0.8"/><rect x="242.2" y="554.2" width="2.1" height="2.1"/><rect x="242.2" y="548.5" width="2.1" height="2.1"/><rect x="244.8" y="548.2" width="2.1" height="2.1"/><rect x="239.6" y="548.0" width="2.1" height="2.1"/><rect x="242.2" y="545.0" width="2.1" height="2.1"/><rect x="244.8" y="543.0" width="2.1" height="2.1"/><rect x="242.2" y="542.5" width="2.1" height="2.1"/><rect x="239.6" y="542.4" width="2.1" height="2.1"/><rect x="247.4" y="541.7" width="2.1" height="2.1"/><rect x="237.0" y="541.4" width="2.1" height="2.1"/><rect x="235.0" y="541.1" width="2.1" height="2.1"/><rect x="235.0" y="540.8" width="2.1" height="2.1"/><rect x="235.0" y="540.7" width="2.1" height="2.1"/><rect x="244.8" y="540.5" width="2.1" height="2.1"/><rect x="242.2" y="540.0" width="2.1" height="2.1"/><rect x="239.6" y="539.8" width="2.1" height="2.1"/><rect x="235.0" y="539.6" width="2.1" height="2.1"/><rect x="235.0" y="539.4" width="2.1" height="2.1"/><rect x="235.0" y="539.4" width="2.1" height="2.1"/><rect x="247.4" y="539.2" width="2.1" height="2.1"/><rect x="235.0" y="539.0" width="2.1" height="2.1"/><rect x="235.0" y="538.6" width="2.1" height="2.1"/><rect x="244.8" y="537.7" width="2.1" height="2.1"/><rect x="242.2" y="537.1" width="2.1" height="2.1"/><rect x="239.6" y="537.0" width="2.1" height="2.1"/><rect x="247.4" y="536.9" width="2.1" height="2.1"/><rect x="235.0" y="536.5" width="2.1" height="2.1"/><rect x="235.0" y="535.7" width="2.1" height="2.1"/><rect x="244.8" y="535.0" width="2.1" height="2.1"/><rect x="242.2" y="534.8" width="2.1" height="2.1"/><rect x="239.6" y="534.3" width="2.1" height="2.1"/><rect x="247.4" y="534.3" width="2.1" height="2.1"/><rect x="235.0" y="533.9" width="2.1" height="2.1"/><rect x="235.0" y="533.7" width="2.1" height="2.1"/><rect x="235.0" y="533.2" width="2.1" height="2.1"/><rect x="235.0" y="532.9" width="2.1" height="2.1"/><rect x="244.8" y="532.5" width="2.1" height="2.1"/><rect x="242.2" y="531.5" width="2.1" height="2.1"/><rect x="239.6" y="530.7" width="2.1" height="2.1"/><rect x="247.4" y="530.3" width="2.1" height="2.1"/><rect x="244.8" y="529.6" width="2.1" height="2.1"/><rect x="242.2" y="528.4" width="2.1" height="2.1"/><rect x="239.6" y="527.6" width="2.1" height="2.1"/><rect x="244.8" y="527.1" width="2.1" height="2.1"/><rect x="247.4" y="526.5" width="2.1" height="2.1"/><rect x="237.0" y="526.3" width="2.1" height="2.1"/><rect x="242.2" y="526.0" width="2.1" height="2.1"/><rect x="235.0" y="525.8" width="2.1" height="2.1"/><rect x="235.0" y="525.6" width="2.1" height="2.1"/><rect x="239.6" y="525.0" width="2.1" height="2.1"/><rect x="235.0" y="525.0" width="2.1" height="2.1"/><rect x="244.8" y="524.6" width="2.1" height="2.1"/><rect x="247.4" y="523.7" width="2.1" height="2.1"/><rect x="242.2" y="522.9" width="2.1" height="2.1"/><rect x="244.8" y="522.0" width="2.1" height="2.1"/><rect x="239.6" y="521.3" width="2.1" height="2.1"/><rect x="242.2" y="519.3" width="2.1" height="2.1"/><rect x="244.8" y="517.6" width="2.1" height="2.1"/><rect x="242.2" y="515.5" width="2.1" height="2.1"/><rect x="242.2" y="510.6" width="2.1" height="2.1"/><line x1="237.8" y1="534.2" x2="248.8" y2="534.2" stroke="#111" stroke-width="1.1"/><line x1="243.2" y1="530.8" x2="243.2" y2="537.7" stroke="#111" stroke-width="0.9"/><line x1="240.2" y1="530.8" x2="246.2" y2="530.8" stroke="#111" stroke-width="0.8"/><line x1="240.2" y1="537.7" x2="246.2" y2="537.7" stroke="#111" stroke-width="0.8"/><rect x="261.9" y="577.6" width="2.1" height="2.1"/><rect x="261.9" y="573.0" width="2.1" height="2.1"/><rect x="264.6" y="572.1" width="2.1" height="2.1"/><rect x="261.9" y="570.7" width="2.1" height="2.1"/><rect x="259.3" y="570.6" width="2.1" height="2.1"/><rect x="264.6" y="568.6" width="2.1" height="2.1"/><rect x="261.9" y="567.9" width="2.1" height="2.1"/><rect x="259.3" y="566.5" width="2.1" height="2.1"/><rect x="267.1" y="566.5" width="2.1" height="2.1"/><rect x="264.6" y="566.1" width="2.1" height="2.1"/><rect x="256.8" y="565.6" width="2.1" height="2.1"/><rect x="261.9" y="565.1" width="2.1" height="2.1"/><rect x="254.8" y="564.7" width="2.1" height="2.1"/><rect x="264.6" y="563.7" width="2.1" height="2.1"/><rect x="259.3" y="562.9" width="2.1" height="2.1"/><rect x="261.9" y="562.7" width="2.1" height="2.1"/><rect x="267.1" y="561.4" width="2.1" height="2.1"/><rect x="264.6" y="561.3" width="2.1" height="2.1"/><rect x="256.8" y="561.2" width="2.1" height="2.1"/><rect x="254.8" y="561.0" width="2.1" height="2.1"/><rect x="261.9" y="559.5" width="2.1" height="2.1"/><rect x="259.3" y="559.3" width="2.1" height="2.1"/><rect x="254.8" y="559.2" width="2.1" height="2.1"/><rect x="264.6" y="558.5" width="2.1" height="2.1"/><rect x="267.1" y="557.8" width="2.1" height="2.1"/><rect x="254.8" y="557.7" width="2.1" height="2.1"/><rect x="254.8" y="557.5" width="2.1" height="2.1"/><rect x="254.8" y="557.4" width="2.1" height="2.1"/><rect x="261.9" y="557.2" width="2.1" height="2.1"/><rect x="254.8" y="557.0" width="2.1" height="2.1"/><rect x="259.3" y="556.6" width="2.1" height="2.1"/><rect x="254.8" y="556.6" width="2.1" height="2.1"/><rect x="254.8" y="556.5" width="2.1" height="2.1"/><rect x="254.8" y="556.5" width="2.1" height="2.1"/><rect x="254.8" y="556.4" width="2.1" height="2.1"/><rect x="264.6" y="555.7" width="2.1" height="2.1"/><rect x="254.8" y="555.7" width="2.1" height="2.1"/><rect x="267.1" y="555.2" width="2.1" height="2.1"/><rect x="254.8" y="555.0" width="2.1" height="2.1"/><rect x="261.9" y="554.9" width="2.1" height="2.1"/><rect x="259.3" y="553.9" width="2.1" height="2.1"/><rect x="254.8" y="553.6" width="2.1" height="2.1"/><rect x="264.6" y="552.8" width="2.1" height="2.1"/><rect x="261.9" y="552.4" width="2.1" height="2.1"/><rect x="267.1" y="551.8" width="2.1" height="2.1"/><rect x="259.3" y="551.4" width="2.1" height="2.1"/><rect x="256.8" y="551.2" width="2.1" height="2.1"/><rect x="254.8" y="550.9" width="2.1" height="2.1"/><rect x="254.8" y="550.8" width="2.1" height="2.1"/><rect x="261.9" y="550.0" width="2.1" height="2.1"/><rect x="264.6" y="549.7" width="2.1" height="2.1"/><rect x="259.3" y="548.1" width="2.1" height="2.1"/><rect x="261.9" y="547.6" width="2.1" height="2.1"/><rect x="267.1" y="547.5" width="2.1" height="2.1"/><rect x="264.6" y="546.0" width="2.1" height="2.1"/><rect x="261.9" y="545.2" width="2.1" height="2.1"/><rect x="259.3" y="545.0" width="2.1" height="2.1"/><rect x="267.1" y="544.3" width="2.1" height="2.1"/><rect x="261.9" y="541.0" width="2.1" height="2.1"/><rect x="261.9" y="538.5" width="2.1" height="2.1"/><line x1="257.5" y1="557.7" x2="268.5" y2="557.7" stroke="#111" stroke-width="1.1"/><line x1="263.0" y1="554.9" x2="263.0" y2="560.6" stroke="#111" stroke-width="0.9"/><line x1="260.0" y1="554.9" x2="266.0" y2="554.9" stroke="#111" stroke-width="0.8"/><line x1="260.0" y1="560.6" x2="266.0" y2="560.6" stroke="#111" stroke-width="0.8"/><rect x="298.3" y="542.5" width="2.1" height="2.1"/><rect x="300.9" y="541.9" width="2.1" height="2.1"/><rect x="298.3" y="538.7" width="2.1" height="2.1"/><rect x="300.9" y="538.4" width="2.1" height="2.1"/><rect x="295.7" y="538.1" width="2.1" height="2.1"/><rect x="303.5" y="537.9" width="2.1" height="2.1"/><rect x="293.1" y="537.8" width="2.1" height="2.1"/><rect x="291.1" y="537.6" width="2.1" height="2.1"/><rect x="298.3" y="535.6" width="2.1" height="2.1"/><rect x="300.9" y="535.5" width="2.1" height="2.1"/><rect x="295.7" y="535.4" width="2.1" height="2.1"/><rect x="303.5" y="535.2" width="2.1" height="2.1"/><rect x="293.1" y="535.2" width="2.1" height="2.1"/><rect x="291.1" y="533.8" width="2.1" height="2.1"/><rect x="291.1" y="533.8" width="2.1" height="2.1"/><rect x="298.3" y="532.8" width="2.1" height="2.1"/><rect x="300.9" y="532.0" width="2.1" height="2.1"/><rect x="295.7" y="531.8" width="2.1" height="2.1"/><rect x="303.5" y="531.7" width="2.1" height="2.1"/><rect x="293.1" y="530.9" width="2.1" height="2.1"/><rect x="298.3" y="530.1" width="2.1" height="2.1"/><rect x="291.1" y="529.7" width="2.1" height="2.1"/><rect x="300.9" y="529.6" width="2.1" height="2.1"/><rect x="295.7" y="529.3" width="2.1" height="2.1"/><rect x="303.5" y="529.2" width="2.1" height="2.1"/><rect x="291.1" y="528.6" width="2.1" height="2.1"/><rect x="291.1" y="528.1" width="2.1" height="2.1"/><rect x="291.1" y="528.1" width="2.1" height="2.1"/><rect x="291.1" y="527.9" width="2.1" height="2.1"/><rect x="298.3" y="527.5" width="2.1" height="2.1"/><rect x="291.1" y="527.5" width="2.1" height="2.1"/><rect x="291.1" y="527.5" width="2.1" height="2.1"/><rect x="291.1" y="527.3" width="2.1" height="2.1"/><rect x="300.9" y="527.3" width="2.1" height="2.1"/><rect x="291.1" y="527.1" width="2.1" height="2.1"/><rect x="295.7" y="526.9" width="2.1" height="2.1"/><rect x="303.5" y="526.5" width="2.1" height="2.1"/><rect x="291.1" y="526.3" width="2.1" height="2.1"/><rect x="291.1" y="525.8" width="2.1" height="2.1"/><rect x="291.1" y="525.6" width="2.1" height="2.1"/><rect x="298.3" y="525.0" width="2.1" height="2.1"/><rect x="300.9" y="523.9" width="2.1" height="2.1"/><rect x="295.7" y="523.4" width="2.1" height="2.1"/><rect x="303.5" y="523.0" width="2.1" height="2.1"/><rect x="298.3" y="522.7" width="2.1" height="2.1"/><rect x="293.1" y="522.2" width="2.1" height="2.1"/><rect x="291.1" y="522.1" width="2.1" height="2.1"/><rect x="291.1" y="521.9" width="2.1" height="2.1"/><rect x="291.1" y="521.7" width="2.1" height="2.1"/><rect x="300.9" y="521.2" width="2.1" height="2.1"/><rect x="291.1" y="521.2" width="2.1" height="2.1"/><rect x="295.7" y="520.4" width="2.1" height="2.1"/><rect x="303.5" y="520.4" width="2.1" height="2.1"/><rect x="298.3" y="520.3" width="2.1" height="2.1"/><rect x="291.1" y="520.3" width="2.1" height="2.1"/><rect x="291.1" y="519.0" width="2.1" height="2.1"/><rect x="300.9" y="518.6" width="2.1" height="2.1"/><rect x="291.1" y="518.2" width="2.1" height="2.1"/><rect x="298.3" y="517.7" width="2.1" height="2.1"/><rect x="295.7" y="517.0" width="2.1" height="2.1"/><line x1="293.8" y1="529.1" x2="304.8" y2="529.1" stroke="#111" stroke-width="1.1"/><line x1="299.3" y1="526.5" x2="299.3" y2="531.7" stroke="#111" stroke-width="0.9"/><line x1="296.3" y1="526.5" x2="302.3" y2="526.5" stroke="#111" stroke-width="0.8"/><line x1="296.3" y1="531.7" x2="302.3" y2="531.7" stroke="#111" stroke-width="0.8"/><rect x="318.0" y="578.3" width="2.1" height="2.1"/><rect x="320.6" y="576.8" width="2.1" height="2.1"/><rect x="318.0" y="572.3" width="2.1" height="2.1"/><rect x="320.6" y="571.6" width="2.1" height="2.1"/><rect x="315.4" y="571.5" width="2.1" height="2.1"/><rect x="323.2" y="571.0" width="2.1" height="2.1"/><rect x="312.8" y="570.6" width="2.1" height="2.1"/><rect x="310.8" y="570.4" width="2.1" height="2.1"/><rect x="318.0" y="569.9" width="2.1" height="2.1"/><rect x="320.6" y="569.2" width="2.1" height="2.1"/><rect x="315.4" y="569.1" width="2.1" height="2.1"/><rect x="310.8" y="569.0" width="2.1" height="2.1"/><rect x="323.2" y="568.6" width="2.1" height="2.1"/><rect x="310.8" y="567.9" width="2.1" height="2.1"/><rect x="310.8" y="567.9" width="2.1" height="2.1"/><rect x="318.0" y="567.6" width="2.1" height="2.1"/><rect x="320.6" y="565.8" width="2.1" height="2.1"/><rect x="315.4" y="565.4" width="2.1" height="2.1"/><rect x="323.2" y="565.4" width="2.1" height="2.1"/><rect x="312.8" y="565.4" width="2.1" height="2.1"/><rect x="318.0" y="565.3" width="2.1" height="2.1"/><rect x="310.8" y="564.6" width="2.1" height="2.1"/><rect x="310.8" y="564.5" width="2.1" height="2.1"/><rect x="310.8" y="564.0" width="2.1" height="2.1"/><rect x="310.8" y="563.9" width="2.1" height="2.1"/><rect x="310.8" y="563.9" width="2.1" height="2.1"/><rect x="310.8" y="563.8" width="2.1" height="2.1"/><rect x="310.8" y="563.6" width="2.1" height="2.1"/><rect x="310.8" y="563.6" width="2.1" height="2.1"/><rect x="320.6" y="563.3" width="2.1" height="2.1"/><rect x="318.0" y="562.7" width="2.1" height="2.1"/><rect x="315.4" y="562.4" width="2.1" height="2.1"/><rect x="323.2" y="562.2" width="2.1" height="2.1"/><rect x="312.8" y="561.3" width="2.1" height="2.1"/><rect x="310.8" y="561.2" width="2.1" height="2.1"/><rect x="310.8" y="561.1" width="2.1" height="2.1"/><rect x="310.8" y="561.0" width="2.1" height="2.1"/><rect x="320.6" y="560.9" width="2.1" height="2.1"/><rect x="318.0" y="560.3" width="2.1" height="2.1"/><rect x="315.4" y="559.9" width="2.1" height="2.1"/><rect x="323.2" y="559.6" width="2.1" height="2.1"/><rect x="310.8" y="559.6" width="2.1" height="2.1"/><rect x="310.8" y="558.8" width="2.1" height="2.1"/><rect x="320.6" y="558.2" width="2.1" height="2.1"/><rect x="318.0" y="558.0" width="2.1" height="2.1"/><rect x="315.4" y="557.2" width="2.1" height="2.1"/><rect x="323.2" y="556.1" width="2.1" height="2.1"/><rect x="320.6" y="555.8" width="2.1" height="2.1"/><rect x="318.0" y="555.4" width="2.1" height="2.1"/><rect x="312.8" y="555.4" width="2.1" height="2.1"/><rect x="315.4" y="554.8" width="2.1" height="2.1"/><rect x="323.2" y="553.6" width="2.1" height="2.1"/><rect x="310.8" y="553.5" width="2.1" height="2.1"/><rect x="318.0" y="552.4" width="2.1" height="2.1"/><rect x="320.6" y="551.4" width="2.1" height="2.1"/><rect x="315.4" y="550.9" width="2.1" height="2.1"/><rect x="318.0" y="550.1" width="2.1" height="2.1"/><rect x="323.2" y="549.8" width="2.1" height="2.1"/><rect x="312.8" y="549.7" width="2.1" height="2.1"/><rect x="310.8" y="549.2" width="2.1" height="2.1"/><line x1="313.6" y1="563.3" x2="324.6" y2="563.3" stroke="#111" stroke-width="1.1"/><line x1="319.1" y1="561.1" x2="319.1" y2="565.4" stroke="#111" stroke-width="0.9"/><line x1="316.1" y1="561.1" x2="322.1" y2="561.1" stroke="#111" stroke-width="0.8"/><line x1="316.1" y1="565.4" x2="322.1" y2="565.4" stroke="#111" stroke-width="0.8"/></g>
<line x1="58.00" y1="477.91" x2="58.00" y2="589.20" stroke="#111" stroke-width="1.2" />
<line x1="57.40" y1="588.60" x2="337.50" y2="588.60" stroke="#111" stroke-width="1.2" />
<line x1="54.00" y1="588.60" x2="58.00" y2="588.60" stroke="#111" stroke-width="1.1" />
<text x="49.40" y="591.70" font-size="8.6" text-anchor="end" fill="#222" >0</text>
<line x1="54.00" y1="551.87" x2="58.00" y2="551.87" stroke="#111" stroke-width="1.1" />
<text x="49.40" y="554.97" font-size="8.6" text-anchor="end" fill="#222" >100</text>
<line x1="54.00" y1="515.14" x2="58.00" y2="515.14" stroke="#111" stroke-width="1.1" />
<text x="49.40" y="518.24" font-size="8.6" text-anchor="end" fill="#222" >200</text>
<line x1="54.00" y1="478.41" x2="58.00" y2="478.41" stroke="#111" stroke-width="1.1" />
<text x="49.40" y="481.51" font-size="8.6" text-anchor="end" fill="#222" >300</text>
<text transform="translate(28.2 534.2) rotate(-90)" font-size="9.8" text-anchor="middle" fill="#222">Fluorescence Intensity (au)</text>
<line x1="84.70" y1="588.60" x2="84.70" y2="597.00" stroke="#111" stroke-width="1.1" />
<circle cx="84.7" cy="603.7" r="5.1" fill="#f7f7f7" stroke="#222" stroke-width="0.8"/>
<line x1="140.80" y1="588.60" x2="140.80" y2="597.00" stroke="#111" stroke-width="1.1" />
<circle cx="140.8" cy="603.7" r="5.1" fill="#c8c8c8" stroke="#222" stroke-width="0.8"/>
<line x1="196.80" y1="588.60" x2="196.80" y2="597.00" stroke="#111" stroke-width="1.1" />
<circle cx="196.8" cy="603.7" r="5.1" fill="#7fa8b8" stroke="#222" stroke-width="0.8"/>
<line x1="253.10" y1="588.60" x2="253.10" y2="597.00" stroke="#111" stroke-width="1.1" />
<circle cx="253.1" cy="603.7" r="5.1" fill="#41667f" stroke="#222" stroke-width="0.8"/>
<line x1="309.20" y1="588.60" x2="309.20" y2="597.00" stroke="#111" stroke-width="1.1" />
<circle cx="309.2" cy="603.7" r="5.1" fill="#1f4448" stroke="#222" stroke-width="0.8"/>
<polyline points="74.70,544.00 74.70,541.20 95.70,541.20 95.70,577.80" fill="none" stroke="#222" stroke-width="0.8" />
<polyline points="131.20,503.30 131.20,471.20 243.40,471.20 243.40,494.50" fill="none" stroke="#222" stroke-width="0.8" />
<polyline points="150.80,482.00 150.80,479.60 263.50,479.60 263.50,494.50" fill="none" stroke="#222" stroke-width="0.8" />
<polyline points="131.20,492.00 131.20,489.70 186.60,489.70 186.60,491.50" fill="none" stroke="#222" stroke-width="0.8" />
<polyline points="131.40,543.60 131.40,515.40 150.90,515.40 150.90,517.60" fill="none" stroke="#222" stroke-width="0.8" />
<polyline points="186.60,491.50 186.60,489.70 207.60,489.70 207.60,522.00" fill="none" stroke="#222" stroke-width="0.8" />
<polyline points="150.80,504.00 150.80,500.10 207.60,500.10" fill="none" stroke="#222" stroke-width="0.8" />
<polyline points="243.60,505.20 243.60,503.20 263.40,503.20 263.40,519.70" fill="none" stroke="#222" stroke-width="0.8" />
<polyline points="299.30,506.90 299.30,502.50 319.10,502.50 319.10,541.00" fill="none" stroke="#222" stroke-width="0.8" />
<text x="84.7" y="538.9" font-size="7.4" text-anchor="middle" fill="#222"><tspan font-style="italic">P</tspan> &lt; 0.0001</text>
<text x="183.2" y="468.9" font-size="7.4" text-anchor="middle" fill="#222"><tspan font-style="italic">P</tspan> &lt; 0.0001</text>
<text x="202.4" y="478.4" font-size="7.4" text-anchor="middle" fill="#222"><tspan font-style="italic">P</tspan> &lt; 0.0001</text>
<text x="159.3" y="488.7" font-size="7.4" text-anchor="middle" fill="#222"><tspan font-style="italic">P</tspan> &lt; 0.0001</text>
<text x="206.5" y="488.2" font-size="7.4" text-anchor="middle" fill="#222"><tspan font-style="italic">P</tspan> &lt; 0.0001</text>
<text x="178.6" y="499.7" font-size="7.4" text-anchor="middle" fill="#222"><tspan font-style="italic">P</tspan> &lt; 0.0001</text>
<text x="252.5" y="501.3" font-size="7.4" text-anchor="middle" fill="#222"><tspan font-style="italic">P</tspan> &lt; 0.0001</text>
<text x="308.2" y="499.7" font-size="7.4" text-anchor="middle" fill="#222"><tspan font-style="italic">P</tspan> &lt; 0.0001</text>
<text x="138.9" y="513.8" font-size="7.4" text-anchor="middle" fill="#222"><tspan font-style="italic">P</tspan> &lt; 0.0001</text>
<circle cx="38" cy="622.9" r="5.0" fill="#f7f7f7" stroke="#222" stroke-width="0.8"/>
<text x="48.80" y="626.30" font-size="9.8" text-anchor="start" fill="#222" >Germ cells in nests at E16.5</text>
<circle cx="38" cy="636.0" r="5.0" fill="#c8c8c8" stroke="#222" stroke-width="0.8"/>
<text x="48.80" y="639.45" font-size="9.8" text-anchor="start" fill="#222" >Germ cells in nests at PD0</text>
<circle cx="38" cy="649.2" r="5.0" fill="#7fa8b8" stroke="#222" stroke-width="0.8"/>
<text x="48.80" y="652.60" font-size="9.8" text-anchor="start" fill="#222" >Germ cells in follicles at PD0</text>
<circle cx="38" cy="662.4" r="5.0" fill="#41667f" stroke="#222" stroke-width="0.8"/>
<text x="48.80" y="665.75" font-size="9.8" text-anchor="start" fill="#222" >Germ cells in nests at PD3</text>
<circle cx="38" cy="675.5" r="5.0" fill="#1f4448" stroke="#222" stroke-width="0.8"/>
<text x="48.80" y="678.90" font-size="9.8" text-anchor="start" fill="#222" >Germ cells in follicles at PD3</text>
<rect x="212" y="619.2" width="13.2" height="7" fill="#c6c6c6"/>
<text x="229.30" y="626.30" font-size="9.8" text-anchor="start" fill="#222" >Nucleus</text>
<rect x="212" y="632.8" width="13.2" height="7" fill="#7aa3d6"/>
<text x="229.30" y="639.70" font-size="9.8" text-anchor="start" fill="#222" >Cytoplasm</text>
<text x="372.00" y="435.70" font-size="12" text-anchor="start" fill="#111" >E</text>
<line x1="566.60" y1="424.90" x2="587.80" y2="424.90" stroke="#a0a0a0" stroke-width="1.6" />
<circle cx="577" cy="424.9" r="2.4" fill="#a0a0a0"/>
<text x="592.00" y="428.30" font-size="9.8" text-anchor="start" fill="#222" font-style="italic">Cebpa</text>
<line x1="566.60" y1="437.90" x2="587.80" y2="437.90" stroke="#3d6db5" stroke-width="1.6" />
<circle cx="577" cy="437.9" r="2.4" fill="#3d6db5"/>
<text x="592.00" y="441.30" font-size="9.8" text-anchor="start" fill="#222" font-style="italic">Cebpb</text>
<text x="426.50" y="443.00" font-size="9.8" text-anchor="start" fill="#222" font-weight="bold" font-style="italic">Mus musculus</text>
<rect x="428.2" y="450.1" width="59.6" height="68.8" fill="#eeeeee"/>
<rect x="487.8" y="450.1" width="114" height="68.8" fill="#d3e6f4"/>
<line x1="487.80" y1="450.10" x2="487.80" y2="518.90" stroke="#111" stroke-width="1.1" stroke-dasharray="2 1.4"/>
<text x="457.60" y="459.90" font-size="8.6" text-anchor="middle" fill="#222" >Day of</text>
<text x="457.60" y="468.40" font-size="8.6" text-anchor="middle" fill="#222" >gestation</text>
<text x="511.20" y="459.60" font-size="8.6" text-anchor="middle" fill="#222" >Postnatal</text>
<text x="511.20" y="468.70" font-size="8.6" text-anchor="middle" fill="#222" >day</text>
<text x="491.00" y="492.60" font-size="9.2" text-anchor="start" fill="#222" >Birth</text>
<polyline points="436.50,518.00 442.70,515.70 448.90,516.20 454.80,512.90 460.70,515.70 467.10,512.40 473.00,515.70 478.90,511.50 485.00,511.50 491.20,515.40 509.30,515.10 525.30,498.50" fill="none" stroke="#a0a0a0" stroke-width="1.5" />
<circle cx="436.5" cy="518" r="2.4" fill="#a0a0a0"/>
<circle cx="442.7" cy="515.7" r="2.4" fill="#a0a0a0"/>
<circle cx="448.9" cy="516.2" r="2.4" fill="#a0a0a0"/>
<circle cx="454.8" cy="512.9" r="2.4" fill="#a0a0a0"/>
<circle cx="460.7" cy="515.7" r="2.4" fill="#a0a0a0"/>
<circle cx="467.1" cy="512.4" r="2.4" fill="#a0a0a0"/>
<circle cx="473" cy="515.7" r="2.4" fill="#a0a0a0"/>
<circle cx="478.9" cy="511.5" r="2.4" fill="#a0a0a0"/>
<circle cx="485" cy="511.5" r="2.4" fill="#a0a0a0"/>
<circle cx="491.2" cy="515.4" r="2.4" fill="#a0a0a0"/>
<circle cx="509.3" cy="515.1" r="2.4" fill="#a0a0a0"/>
<polyline points="436.50,516.20 442.70,509.80 448.90,515.10 454.80,509.00 460.70,512.40 467.10,508.70 473.00,512.40 478.90,503.60 485.00,503.10 491.20,511.20 509.30,509.00 525.30,506.10" fill="none" stroke="#3d6db5" stroke-width="1.5" />
<circle cx="436.5" cy="516.2" r="2.4" fill="#3d6db5"/>
<circle cx="442.7" cy="509.8" r="2.4" fill="#3d6db5"/>
<circle cx="448.9" cy="515.1" r="2.4" fill="#3d6db5"/>
<circle cx="454.8" cy="509" r="2.4" fill="#3d6db5"/>
<circle cx="460.7" cy="512.4" r="2.4" fill="#3d6db5"/>
<circle cx="467.1" cy="508.7" r="2.4" fill="#3d6db5"/>
<circle cx="473" cy="512.4" r="2.4" fill="#3d6db5"/>
<circle cx="478.9" cy="503.6" r="2.4" fill="#3d6db5"/>
<circle cx="485" cy="503.1" r="2.4" fill="#3d6db5"/>
<circle cx="491.2" cy="511.2" r="2.4" fill="#3d6db5"/>
<circle cx="509.3" cy="509" r="2.4" fill="#3d6db5"/>
<polyline points="537.40,486.30 542.30,480.50 557.20,475.00 594.40,470.30" fill="none" stroke="#a0a0a0" stroke-width="1.5" />
<circle cx="542.3" cy="480.5" r="2.4" fill="#a0a0a0"/>
<circle cx="557.2" cy="475" r="2.4" fill="#a0a0a0"/>
<circle cx="594.4" cy="470.3" r="2.4" fill="#a0a0a0"/>
<polyline points="537.40,503.60 542.30,502.50 557.20,485.00 594.40,478.00" fill="none" stroke="#3d6db5" stroke-width="1.5" />
<circle cx="542.3" cy="502.5" r="2.4" fill="#3d6db5"/>
<circle cx="557.2" cy="485" r="2.4" fill="#3d6db5"/>
<circle cx="594.4" cy="478" r="2.4" fill="#3d6db5"/>
<line x1="428.20" y1="449.60" x2="428.20" y2="519.50" stroke="#111" stroke-width="1.2" />
<line x1="427.60" y1="518.90" x2="525.00" y2="518.90" stroke="#111" stroke-width="1.2" />
<line x1="537.40" y1="518.90" x2="601.80" y2="518.90" stroke="#111" stroke-width="1.2" />
<line x1="524.60" y1="515.20" x2="524.60" y2="522.70" stroke="#111" stroke-width="1.1" />
<line x1="537.40" y1="515.20" x2="537.40" y2="522.70" stroke="#111" stroke-width="1.1" />
<line x1="422.80" y1="518.90" x2="428.20" y2="518.90" stroke="#111" stroke-width="1.1" />
<text x="419.40" y="522.00" font-size="8.6" text-anchor="end" fill="#222" >0</text>
<line x1="422.80" y1="501.70" x2="428.20" y2="501.70" stroke="#111" stroke-width="1.1" />
<text x="419.40" y="504.80" font-size="8.6" text-anchor="end" fill="#222" >8</text>
<line x1="422.80" y1="484.50" x2="428.20" y2="484.50" stroke="#111" stroke-width="1.1" />
<text x="419.40" y="487.60" font-size="8.6" text-anchor="end" fill="#222" >16</text>
<line x1="422.80" y1="467.30" x2="428.20" y2="467.30" stroke="#111" stroke-width="1.1" />
<text x="419.40" y="470.40" font-size="8.6" text-anchor="end" fill="#222" >24</text>
<line x1="422.80" y1="450.10" x2="428.20" y2="450.10" stroke="#111" stroke-width="1.1" />
<text x="419.40" y="453.20" font-size="8.6" text-anchor="end" fill="#222" >32</text>
<line x1="433.70" y1="518.90" x2="433.70" y2="524.00" stroke="#111" stroke-width="1.1" />
<line x1="464.00" y1="518.90" x2="464.00" y2="524.00" stroke="#111" stroke-width="1.1" />
<line x1="494.30" y1="518.90" x2="494.30" y2="524.00" stroke="#111" stroke-width="1.1" />
<line x1="548.10" y1="518.90" x2="548.10" y2="526.80" stroke="#111" stroke-width="1.1" />
<line x1="569.30" y1="518.90" x2="569.30" y2="526.80" stroke="#111" stroke-width="1.1" />
<line x1="590.80" y1="518.90" x2="590.80" y2="526.80" stroke="#111" stroke-width="1.1" />
<text x="433.70" y="535.60" font-size="8.6" text-anchor="middle" fill="#222" >10</text>
<text x="464.00" y="535.60" font-size="8.6" text-anchor="middle" fill="#222" >15</text>
<text x="494.30" y="535.60" font-size="8.6" text-anchor="middle" fill="#222" >1</text>
<text x="524.90" y="535.60" font-size="8.6" text-anchor="middle" fill="#222" >6</text>
<text x="548.10" y="535.60" font-size="8.6" text-anchor="middle" fill="#222" >20</text>
<text x="590.80" y="535.60" font-size="8.6" text-anchor="middle" fill="#222" >60</text>
<text transform="translate(404.6 484.4) rotate(-90)" font-size="9.8" text-anchor="middle" fill="#222">RPKM</text>
<line x1="442.70" y1="536.20" x2="442.70" y2="524.80" stroke="#111" stroke-width="0.8" /><polygon points="441.10,525.30 442.70,522.30 444.30,525.30" fill="#111" stroke="none" stroke-width="1" />
<line x1="480.30" y1="536.20" x2="480.30" y2="524.80" stroke="#111" stroke-width="0.8" /><polygon points="478.70,525.30 480.30,522.30 481.90,525.30" fill="#111" stroke="none" stroke-width="1" />
<line x1="513.80" y1="536.20" x2="513.80" y2="524.80" stroke="#111" stroke-width="0.8" /><polygon points="512.20,525.30 513.80,522.30 515.40,525.30" fill="#111" stroke="none" stroke-width="1" />
<text x="442.70" y="544.20" font-size="7.3" text-anchor="middle" fill="#222" >Cyst formation</text>
<text x="442.70" y="551.40" font-size="7.3" text-anchor="middle" fill="#222" >begins</text>
<text x="480.30" y="544.20" font-size="7.3" text-anchor="middle" fill="#222" >PFA</text>
<text x="480.30" y="551.40" font-size="7.3" text-anchor="middle" fill="#222" >begins</text>
<text x="514.30" y="544.20" font-size="7.3" text-anchor="middle" fill="#222" >PFA</text>
<text x="514.30" y="551.40" font-size="7.3" text-anchor="middle" fill="#222" >complete</text>
<text x="426.60" y="569.30" font-size="9.8" text-anchor="start" fill="#222" font-weight="bold" font-style="italic">Homo sapiens</text>
<rect x="428.2" y="574.7" width="173.8" height="71.1" fill="#eeeeee"/>
<text x="452.30" y="586.50" font-size="8.6" text-anchor="middle" fill="#222" >Week of</text>
<text x="452.30" y="595.00" font-size="8.6" text-anchor="middle" fill="#222" >gestation</text>
<line x1="428.20" y1="575.70" x2="428.20" y2="646.40" stroke="#111" stroke-width="1.2" />
<line x1="427.60" y1="645.80" x2="601.80" y2="645.80" stroke="#111" stroke-width="1.2" />
<line x1="422.80" y1="645.80" x2="428.20" y2="645.80" stroke="#111" stroke-width="1.1" />
<text x="419.60" y="648.90" font-size="8.6" text-anchor="end" fill="#222" >0</text>
<line x1="422.80" y1="628.40" x2="428.20" y2="628.40" stroke="#111" stroke-width="1.1" />
<text x="419.60" y="631.50" font-size="8.6" text-anchor="end" fill="#222" >2</text>
<line x1="422.80" y1="611.00" x2="428.20" y2="611.00" stroke="#111" stroke-width="1.1" />
<text x="419.60" y="614.10" font-size="8.6" text-anchor="end" fill="#222" >4</text>
<line x1="422.80" y1="593.60" x2="428.20" y2="593.60" stroke="#111" stroke-width="1.1" />
<text x="419.60" y="596.70" font-size="8.6" text-anchor="end" fill="#222" >6</text>
<line x1="422.80" y1="576.20" x2="428.20" y2="576.20" stroke="#111" stroke-width="1.1" />
<text x="419.60" y="579.30" font-size="8.6" text-anchor="end" fill="#222" >8</text>
<line x1="438.04" y1="645.80" x2="438.04" y2="649.50" stroke="#111" stroke-width="1.0" />
<line x1="448.20" y1="645.80" x2="448.20" y2="652.30" stroke="#111" stroke-width="1.0" />
<line x1="458.36" y1="645.80" x2="458.36" y2="649.50" stroke="#111" stroke-width="1.0" />
<line x1="468.52" y1="645.80" x2="468.52" y2="649.50" stroke="#111" stroke-width="1.0" />
<line x1="478.68" y1="645.80" x2="478.68" y2="649.50" stroke="#111" stroke-width="1.0" />
<line x1="488.84" y1="645.80" x2="488.84" y2="649.50" stroke="#111" stroke-width="1.0" />
<line x1="499.00" y1="645.80" x2="499.00" y2="652.30" stroke="#111" stroke-width="1.0" />
<line x1="509.16" y1="645.80" x2="509.16" y2="649.50" stroke="#111" stroke-width="1.0" />
<line x1="519.32" y1="645.80" x2="519.32" y2="649.50" stroke="#111" stroke-width="1.0" />
<line x1="529.48" y1="645.80" x2="529.48" y2="649.50" stroke="#111" stroke-width="1.0" />
<line x1="539.64" y1="645.80" x2="539.64" y2="649.50" stroke="#111" stroke-width="1.0" />
<line x1="549.80" y1="645.80" x2="549.80" y2="652.30" stroke="#111" stroke-width="1.0" />
<line x1="559.96" y1="645.80" x2="559.96" y2="649.50" stroke="#111" stroke-width="1.0" />
<line x1="570.12" y1="645.80" x2="570.12" y2="649.50" stroke="#111" stroke-width="1.0" />
<line x1="580.28" y1="645.80" x2="580.28" y2="649.50" stroke="#111" stroke-width="1.0" />
<line x1="590.44" y1="645.80" x2="590.44" y2="649.50" stroke="#111" stroke-width="1.0" />
<line x1="600.60" y1="645.80" x2="600.60" y2="652.30" stroke="#111" stroke-width="1.0" />
<text x="448.20" y="662.80" font-size="8.6" text-anchor="middle" fill="#222" >5</text>
<text x="499.00" y="662.80" font-size="8.6" text-anchor="middle" fill="#222" >10</text>
<text x="549.80" y="662.80" font-size="8.6" text-anchor="middle" fill="#222" >15</text>
<text x="600.60" y="662.80" font-size="8.6" text-anchor="middle" fill="#222" >20</text>
<polyline points="438.04,645.80 448.20,645.80 458.36,645.80 468.52,644.93 478.68,645.80 488.84,645.80 499.00,645.80 509.16,645.80 519.32,645.80 529.48,645.80 559.96,645.80 580.28,645.80" fill="none" stroke="#a0a0a0" stroke-width="1.5" />
<circle cx="438.0" cy="645.8" r="2.6" fill="#a0a0a0"/>
<circle cx="448.2" cy="645.8" r="2.6" fill="#a0a0a0"/>
<circle cx="458.4" cy="645.8" r="2.6" fill="#a0a0a0"/>
<circle cx="468.5" cy="644.9" r="2.6" fill="#a0a0a0"/>
<circle cx="478.7" cy="645.8" r="2.6" fill="#a0a0a0"/>
<circle cx="488.8" cy="645.8" r="2.6" fill="#a0a0a0"/>
<circle cx="499.0" cy="645.8" r="2.6" fill="#a0a0a0"/>
<circle cx="509.2" cy="645.8" r="2.6" fill="#a0a0a0"/>
<circle cx="519.3" cy="645.8" r="2.6" fill="#a0a0a0"/>
<circle cx="529.5" cy="645.8" r="2.6" fill="#a0a0a0"/>
<circle cx="560.0" cy="645.8" r="2.6" fill="#a0a0a0"/>
<circle cx="580.3" cy="645.8" r="2.6" fill="#a0a0a0"/>
<polyline points="438.00,636.10 448.20,632.90 458.40,627.50 468.50,619.20 479.00,596.30 489.20,604.90 499.10,612.90 509.60,618.60 519.40,619.80 529.90,623.00 560.70,595.40 580.80,609.70" fill="none" stroke="#3d6db5" stroke-width="1.5" />
<circle cx="438" cy="636.1" r="2.6" fill="#3d6db5"/>
<circle cx="448.2" cy="632.9" r="2.6" fill="#3d6db5"/>
<circle cx="458.4" cy="627.5" r="2.6" fill="#3d6db5"/>
<circle cx="468.5" cy="619.2" r="2.6" fill="#3d6db5"/>
<circle cx="479" cy="596.3" r="2.6" fill="#3d6db5"/>
<circle cx="489.2" cy="604.9" r="2.6" fill="#3d6db5"/>
<circle cx="499.1" cy="612.9" r="2.6" fill="#3d6db5"/>
<circle cx="509.6" cy="618.6" r="2.6" fill="#3d6db5"/>
<circle cx="519.4" cy="619.8" r="2.6" fill="#3d6db5"/>
<circle cx="529.9" cy="623" r="2.6" fill="#3d6db5"/>
<circle cx="560.7" cy="595.4" r="2.6" fill="#3d6db5"/>
<circle cx="580.8" cy="609.7" r="2.6" fill="#3d6db5"/>
<text transform="translate(408.6 609.8) rotate(-90)" font-size="9.8" text-anchor="middle" fill="#222">RPKM</text>
<line x1="438.40" y1="667.80" x2="438.40" y2="654.90" stroke="#111" stroke-width="0.8" /><polygon points="436.80,655.40 438.40,652.40 440.00,655.40" fill="#111" stroke="none" stroke-width="1" />
<line x1="560.70" y1="667.80" x2="560.70" y2="654.90" stroke="#111" stroke-width="0.8" /><polygon points="559.10,655.40 560.70,652.40 562.30,655.40" fill="#111" stroke="none" stroke-width="1" />
<text x="438.40" y="675.60" font-size="7.3" text-anchor="middle" fill="#222" >Cyst formation</text>
<text x="438.40" y="682.80" font-size="7.3" text-anchor="middle" fill="#222" >begins</text>
<text x="560.70" y="675.60" font-size="7.3" text-anchor="middle" fill="#222" >PFA</text>
<text x="560.70" y="682.80" font-size="7.3" text-anchor="middle" fill="#222" >begins</text></svg></body></html>
